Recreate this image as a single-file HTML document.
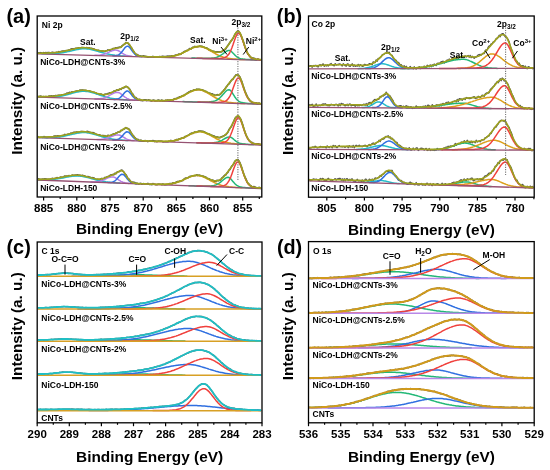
<!DOCTYPE html>
<html><head><meta charset="utf-8"><style>
html,body{margin:0;padding:0;background:#fff;}
svg{display:block;font-family:"Liberation Sans", sans-serif;will-change:transform;}
</style></head><body>
<svg width="550" height="470" viewBox="0 0 550 470">
<defs><clipPath id="cp0"><rect x="37.9" y="16.7" width="223.2" height="179.6"/></clipPath><clipPath id="cp1"><rect x="309.2" y="16.7" width="224.3" height="179.8"/></clipPath><clipPath id="cp2"><rect x="37.9" y="242.7" width="223.4" height="179.4"/></clipPath><clipPath id="cp3"><rect x="309.2" y="242.3" width="224.3" height="179.8"/></clipPath></defs>
<rect width="550" height="470" fill="#fff"/>
<g clip-path="url(#cp0)"><polyline points="37.9,53 38.9,52.8 39.9,53.3 40.9,52.6 41.9,53.2 42.9,53 43.9,52.6 44.9,53.1 45.9,52.5 46.9,52.9 47.9,52.5 48.9,52.5 49.9,52.8 50.9,53.2 51.9,52.3 52.9,52.4 53.9,52.8 54.9,53.1 55.9,52.5 56.9,52.2 57.9,52.8 58.9,51.6 59.9,52.4 60.9,51.5 61.9,51.2 62.9,51 63.9,51 64.9,51.4 65.9,50.5 66.9,50.7 67.9,50.6 68.9,50 69.9,50 70.9,49.1 71.9,48.9 72.9,48.8 73.9,49.2 74.9,48.6 75.9,48.3 76.9,48.4 77.9,48.1 78.9,47.8 79.9,48.2 80.9,48 81.9,47.4 82.9,47.7 83.9,47.7 84.9,48.1 85.9,48 86.9,47.6 87.9,48.5 88.9,47.7 89.9,48.2 90.9,48.8 91.9,48.3 92.9,49 93.9,48.7 94.9,49.8 95.9,50.1 96.9,50.2 97.9,50.8 98.9,50.3 99.9,51 100.9,51 101.9,51.1 102.9,51 103.9,51.5 104.9,51.5 105.9,50.8 106.9,50.8 107.9,49.9 108.9,50.3 109.9,50 110.9,50.1 111.9,49.5 112.9,48.6 113.9,48.5 114.9,48.6 115.9,47.7 116.9,48 117.9,47.6 118.9,47.4 119.9,47 120.9,47.4 121.9,45.9 122.9,45.2 123.9,44.4 124.9,44.1 125.9,42.5 126.9,42.7 127.9,43.1 128.9,44.4 129.9,45.6 130.9,47.3 131.9,48.3 132.9,50.1 133.9,51.6 134.9,53.5 135.9,54.6 136.9,54.4 137.9,55 138.9,55.4 139.9,55.7 140.9,56.2 141.9,56.4 142.9,56.1 143.9,55.9 144.9,56.5 145.9,56.4 146.9,56.7 147.9,57.2 148.9,56.9 149.9,56.8 150.9,56.9 151.9,57 152.9,56.3 153.9,57.3 154.9,57.2 155.9,57.3 156.9,57.3 157.9,56.8 158.9,56.8 159.9,56.5 160.9,57.1 161.9,56.4 162.9,56.4 163.9,56.6 164.9,56.5 165.9,56.6 166.9,56.2 167.9,56.1 168.9,56.2 169.9,56.1 170.9,56.2 171.9,55.7 172.9,56.5 173.9,56 174.9,55.3 175.9,55.1 176.9,55 177.9,54.7 178.9,54 179.9,54.5 180.9,54.3 181.9,53.2 182.9,52.7 183.9,51.8 184.9,51.3 185.9,51 186.9,50.4 187.9,50.5 188.9,49.2 189.9,48.5 190.9,49.1 191.9,48.1 192.9,47.2 193.9,47.3 194.9,46.4 195.9,46.7 196.9,47 197.9,46.8 198.9,46.5 199.9,46 200.9,46.2 201.9,46.2 202.9,47.1 203.9,47.1 204.9,47.8 205.9,47.7 206.9,48 207.9,49.2 208.9,49.9 209.9,50.2 210.9,50.7 211.9,51.1 212.9,51.5 213.9,51.3 214.9,51.9 215.9,52 216.9,51.7 217.9,51.8 218.9,52 219.9,51.8 220.9,51.9 221.9,51.8 222.9,50.6 223.9,50.4 224.9,49.6 225.9,48.6 226.9,46.8 227.9,45.4 228.9,44 229.9,42.5 230.9,41 231.9,39.9 232.9,38.6 233.9,36.7 234.9,34.4 235.9,33 236.9,32 237.9,30.6 238.9,31.6 239.9,33.2 240.9,35.1 241.9,37.7 242.9,40.4 243.9,43.1 244.9,46.8 245.9,49 246.9,51.9 247.9,54.1 248.9,54.9 249.9,56.2 250.9,57.7 251.9,58.1 252.9,57.9 253.9,58.2 254.9,58.5 255.9,59.6 256.9,59.6 257.9,58.9 258.9,59.8 259.9,60.1 260.9,59.8" fill="none" stroke="#555555" stroke-width="1.6" stroke-linejoin="round" stroke-linecap="round"/><polyline points="41.9,53.8 42.9,53.8 43.9,53.8 44.9,53.8 45.9,53.8 46.9,53.8 47.9,53.8 48.9,53.8 49.9,53.8 50.9,53.8 51.9,53.7 52.9,53.7 53.9,53.7 54.9,53.6 55.9,53.5 56.9,53.4 57.9,53.3 58.9,53.2 59.9,53.1 60.9,53 61.9,52.8 62.9,52.7 63.9,52.5 64.9,52.3 65.9,52.1 66.9,51.9 67.9,51.6 68.9,51.4 69.9,51.2 70.9,50.9 71.9,50.7 72.9,50.4 73.9,50.2 74.9,50 75.9,49.8 76.9,49.5 77.9,49.4 78.9,49.2 79.9,49 80.9,48.9 81.9,48.8 82.9,48.8 83.9,48.8 84.9,48.8 85.9,48.8 86.9,48.9 87.9,49 88.9,49.1 89.9,49.3 90.9,49.5 91.9,49.7 92.9,50 93.9,50.2 94.9,50.5 95.9,50.8 96.9,51.1 97.9,51.4 98.9,51.7 99.9,52 100.9,52.3 101.9,52.6 102.9,52.8 103.9,53.1 104.9,53.4 105.9,53.6 106.9,53.9 107.9,54.1 108.9,54.3 109.9,54.5 110.9,54.7 111.9,54.8 112.9,55 113.9,55.1 114.9,55.3 115.9,55.4 116.9,55.5 117.9,55.6 118.9,55.7 119.9,55.8 120.9,55.9 121.9,55.9 122.9,56 123.9,56.1 124.9,56.1 125.9,56.2 126.9,56.2 127.9,56.3 128.9,56.3" fill="none" stroke="#22bcc8" stroke-width="1.5" stroke-linejoin="round" stroke-linecap="round"/><polyline points="94.9,55.3 95.9,55.3 96.9,55.3 97.9,55.2 98.9,55.2 99.9,55.1 100.9,54.9 101.9,54.7 102.9,54.5 103.9,54.2 104.9,53.9 105.9,53.5 106.9,53.1 107.9,52.6 108.9,52.2 109.9,51.7 110.9,51.2 111.9,50.8 112.9,50.5 113.9,50.2 114.9,50.1 115.9,50 116.9,50.2 117.9,50.5 118.9,51 119.9,51.6 120.9,52.3 121.9,53 122.9,53.6 123.9,54.2 124.9,54.7 125.9,55.2 126.9,55.5 127.9,55.8 128.9,56 129.9,56.1 130.9,56.3 131.9,56.3" fill="none" stroke="#b57ee6" stroke-width="1.5" stroke-linejoin="round" stroke-linecap="round"/><polyline points="112.9,55.8 113.9,55.8 114.9,55.7 115.9,55.6 116.9,55.4 117.9,55.1 118.9,54.6 119.9,53.9 120.9,53 121.9,51.8 122.9,50.5 123.9,49.1 124.9,47.8 125.9,46.8 126.9,46.3 127.9,46.2 128.9,46.8 129.9,47.8 130.9,49.1 131.9,50.5 132.9,51.9 133.9,53.1 134.9,54.2 135.9,55 136.9,55.6 137.9,56 138.9,56.3 139.9,56.4 140.9,56.6 141.9,56.6" fill="none" stroke="#2f6fe0" stroke-width="1.5" stroke-linejoin="round" stroke-linecap="round"/><polyline points="153.9,57 154.9,57 155.9,57 156.9,57 157.9,57.1 158.9,57.1 159.9,57.1 160.9,57.1 161.9,57.1 162.9,57.1 163.9,57 164.9,57 165.9,57 166.9,56.9 167.9,56.9 168.9,56.8 169.9,56.7 170.9,56.6 171.9,56.4 172.9,56.2 173.9,56 174.9,55.8 175.9,55.6 176.9,55.3 177.9,55 178.9,54.6 179.9,54.2 180.9,53.8 181.9,53.4 182.9,52.9 183.9,52.4 184.9,51.9 185.9,51.4 186.9,50.9 187.9,50.3 188.9,49.8 189.9,49.3 190.9,48.8 191.9,48.4 192.9,47.9 193.9,47.5 194.9,47.2 195.9,47 196.9,46.8 197.9,46.7 198.9,46.6 199.9,46.6 200.9,46.8 201.9,47 202.9,47.2 203.9,47.5 204.9,47.9 205.9,48.4 206.9,48.9 207.9,49.4 208.9,50 209.9,50.5 210.9,51.1 211.9,51.7 212.9,52.3 213.9,52.9 214.9,53.4 215.9,54 216.9,54.5 217.9,55 218.9,55.4 219.9,55.9 220.9,56.3 221.9,56.6 222.9,57 223.9,57.3 224.9,57.5 225.9,57.8 226.9,58 227.9,58.2 228.9,58.4 229.9,58.5 230.9,58.7 231.9,58.8 232.9,58.9 233.9,59 234.9,59.1 235.9,59.1 236.9,59.2 237.9,59.3 238.9,59.3 239.9,59.4 240.9,59.4 241.9,59.5 242.9,59.5 243.9,59.6 244.9,59.6" fill="none" stroke="#dca01c" stroke-width="1.5" stroke-linejoin="round" stroke-linecap="round"/><polyline points="191.9,58.1 192.9,58.1 193.9,58.1 194.9,58.1 195.9,58.2 196.9,58.2 197.9,58.2 198.9,58.2 199.9,58.2 200.9,58.3 201.9,58.3 202.9,58.3 203.9,58.3 204.9,58.3 205.9,58.3 206.9,58.3 207.9,58.3 208.9,58.3 209.9,58.3 210.9,58.2 211.9,58.1 212.9,58 213.9,57.9 214.9,57.7 215.9,57.5 216.9,57.2 217.9,56.8 218.9,56.3 219.9,55.8 220.9,55.2 221.9,54.5 222.9,53.8 223.9,53 224.9,52.3 225.9,51.6 226.9,51 227.9,50.6 228.9,50.5 229.9,50.6 230.9,51.1 231.9,52 232.9,53 233.9,54 234.9,55.1 235.9,56 236.9,56.8 237.9,57.5 238.9,58 239.9,58.4 240.9,58.7 241.9,58.9 242.9,59.1 243.9,59.2 244.9,59.3 245.9,59.4 246.9,59.5 247.9,59.5 248.9,59.6 249.9,59.6 250.9,59.7 251.9,59.7 252.9,59.8 253.9,59.8 254.9,59.9 255.9,59.9 256.9,59.9" fill="none" stroke="#22b877" stroke-width="1.5" stroke-linejoin="round" stroke-linecap="round"/><polyline points="196.9,58.2 197.9,58.2 198.9,58.3 199.9,58.3 200.9,58.3 201.9,58.3 202.9,58.4 203.9,58.4 204.9,58.4 205.9,58.4 206.9,58.4 207.9,58.4 208.9,58.5 209.9,58.5 210.9,58.5 211.9,58.5 212.9,58.5 213.9,58.5 214.9,58.5 215.9,58.5 216.9,58.5 217.9,58.5 218.9,58.4 219.9,58.4 220.9,58.3 221.9,58.3 222.9,58.1 223.9,57.9 224.9,57.5 225.9,57 226.9,56.3 227.9,55.3 228.9,54 229.9,52.3 230.9,50.2 231.9,47.7 232.9,45 233.9,42.1 234.9,39.2 235.9,36.6 236.9,34.6 237.9,33.4 238.9,33.2 239.9,34.1 240.9,35.8 241.9,38.3 242.9,41.1 243.9,44.1 244.9,47 245.9,49.7 246.9,52 247.9,53.9 248.9,55.4 249.9,56.6 250.9,57.5 251.9,58.1 252.9,58.6 253.9,58.9 254.9,59.1 255.9,59.3 256.9,59.4 257.9,59.5 258.9,59.6 259.9,59.7 260.9,59.8" fill="none" stroke="#f0403c" stroke-width="1.5" stroke-linejoin="round" stroke-linecap="round"/><polyline points="37.9,53.8 261.1,60.2" fill="none" stroke="#965272" stroke-width="1.3" stroke-linejoin="round" stroke-linecap="round"/><polyline points="37.9,53.2 38.9,53.2 39.9,53.2 40.9,53.2 41.9,53.1 42.9,53.1 43.9,53.1 44.9,53.1 45.9,53.1 46.9,53 47.9,53 48.9,52.9 49.9,52.9 50.9,52.8 51.9,52.8 52.9,52.7 53.9,52.6 54.9,52.6 55.9,52.5 56.9,52.3 57.9,52.2 58.9,52.1 59.9,52 60.9,51.8 61.9,51.6 62.9,51.5 63.9,51.3 64.9,51.1 65.9,50.8 66.9,50.6 67.9,50.4 68.9,50.2 69.9,49.9 70.9,49.7 71.9,49.4 72.9,49.2 73.9,49 74.9,48.7 75.9,48.5 76.9,48.3 77.9,48.1 78.9,48 79.9,47.9 80.9,47.8 81.9,47.7 82.9,47.6 83.9,47.6 84.9,47.7 85.9,47.7 86.9,47.8 87.9,48 88.9,48.1 89.9,48.3 90.9,48.5 91.9,48.8 92.9,49 93.9,49.3 94.9,49.5 95.9,49.8 96.9,50.1 97.9,50.3 98.9,50.6 99.9,50.8 100.9,50.9 101.9,51 102.9,51.1 103.9,51.1 104.9,51 105.9,50.9 106.9,50.7 107.9,50.4 108.9,50.1 109.9,49.8 110.9,49.5 111.9,49.2 112.9,48.9 113.9,48.6 114.9,48.4 115.9,48.2 116.9,48.1 117.9,48 118.9,47.8 119.9,47.5 120.9,47.1 121.9,46.4 122.9,45.5 123.9,44.6 124.9,43.7 125.9,43 126.9,42.8 127.9,43.1 128.9,43.9 129.9,45.2 130.9,46.8 131.9,48.5 132.9,50.2 133.9,51.7 134.9,53 135.9,54 136.9,54.8 137.9,55.4 138.9,55.7 139.9,56 140.9,56.2 141.9,56.3 142.9,56.4 143.9,56.5 144.9,56.5 145.9,56.6 146.9,56.6 147.9,56.7 148.9,56.7 149.9,56.7 150.9,56.8 151.9,56.8 152.9,56.8 153.9,56.8 154.9,56.9 155.9,56.9 156.9,56.9 157.9,56.9 158.9,56.9 159.9,56.9 160.9,56.9 161.9,56.9 162.9,56.9 163.9,56.9 164.9,56.9 165.9,56.8 166.9,56.8 167.9,56.7 168.9,56.6 169.9,56.5 170.9,56.4 171.9,56.3 172.9,56.1 173.9,55.9 174.9,55.7 175.9,55.4 176.9,55.1 177.9,54.8 178.9,54.5 179.9,54.1 180.9,53.7 181.9,53.2 182.9,52.8 183.9,52.3 184.9,51.7 185.9,51.2 186.9,50.7 187.9,50.1 188.9,49.6 189.9,49.1 190.9,48.6 191.9,48.1 192.9,47.7 193.9,47.3 194.9,46.9 195.9,46.7 196.9,46.5 197.9,46.3 198.9,46.3 199.9,46.3 200.9,46.4 201.9,46.6 202.9,46.8 203.9,47.1 204.9,47.5 205.9,47.9 206.9,48.3 207.9,48.8 208.9,49.3 209.9,49.8 210.9,50.3 211.9,50.8 212.9,51.2 213.9,51.6 214.9,51.9 215.9,52.2 216.9,52.3 217.9,52.3 218.9,52.3 219.9,52.1 220.9,51.7 221.9,51.2 222.9,50.6 223.9,49.9 224.9,49 225.9,48 226.9,46.9 227.9,45.7 228.9,44.3 229.9,42.8 230.9,41.3 231.9,39.8 232.9,38.1 233.9,36.3 234.9,34.5 235.9,32.8 236.9,31.6 237.9,31.1 238.9,31.4 239.9,32.7 240.9,34.8 241.9,37.4 242.9,40.4 243.9,43.5 244.9,46.5 245.9,49.2 246.9,51.6 247.9,53.5 248.9,55.1 249.9,56.3 250.9,57.2 251.9,57.8 252.9,58.3 253.9,58.7 254.9,58.9 255.9,59.1 256.9,59.2 257.9,59.3 258.9,59.4 259.9,59.5 260.9,59.6" fill="none" stroke="#9ea21e" stroke-width="1.6" stroke-linejoin="round" stroke-linecap="round"/><polyline points="37.9,96.5 38.9,96.7 39.9,96.2 40.9,96.1 41.9,97.2 42.9,96.8 43.9,96.6 44.9,97.1 45.9,96.5 46.9,97 47.9,96.9 48.9,96.1 49.9,96.1 50.9,96.1 51.9,95.9 52.9,96.3 53.9,95.8 54.9,95.9 55.9,95.4 56.9,96.2 57.9,95.4 58.9,95.4 59.9,95.4 60.9,95.6 61.9,94.8 62.9,95.2 63.9,94.5 64.9,94.3 65.9,94 66.9,93.1 67.9,93.4 68.9,92.8 69.9,92.3 70.9,93 71.9,91.9 72.9,92 73.9,92 74.9,91.6 75.9,91.1 76.9,91.1 77.9,90.9 78.9,91 79.9,90.1 80.9,90.5 81.9,90 82.9,90 83.9,90.6 84.9,90.4 85.9,90.5 86.9,90.9 87.9,91.2 88.9,90.8 89.9,91.3 90.9,91.4 91.9,91.7 92.9,92.2 93.9,92.2 94.9,92.7 95.9,92.9 96.9,93.8 97.9,93.8 98.9,94.3 99.9,94.6 100.9,94 101.9,94.6 102.9,95.1 103.9,95.1 104.9,94.2 105.9,94.1 106.9,94.2 107.9,93.5 108.9,93.4 109.9,92.8 110.9,93 111.9,92.7 112.9,92.3 113.9,91 114.9,91.2 115.9,90.7 116.9,89.7 117.9,90.3 118.9,90.1 119.9,88.9 120.9,89.4 121.9,88.3 122.9,87.8 123.9,87.9 124.9,87.2 125.9,86.2 126.9,86.7 127.9,87.4 128.9,88.3 129.9,89.6 130.9,91.3 131.9,93.5 132.9,94.2 133.9,96.2 134.9,97.2 135.9,97.6 136.9,98.6 137.9,99.4 138.9,99.6 139.9,99.2 140.9,100.5 141.9,100.4 142.9,100.7 143.9,99.7 144.9,99.9 145.9,99.7 146.9,100.6 147.9,100.1 148.9,99.9 149.9,100.3 150.9,100.9 151.9,100.9 152.9,100.2 153.9,100.1 154.9,101 155.9,100.7 156.9,100.8 157.9,100.1 158.9,100.1 159.9,100.8 160.9,100.5 161.9,100.1 162.9,101.1 163.9,100.7 164.9,100.9 165.9,100 166.9,100.8 167.9,99.8 168.9,100.6 169.9,100 170.9,99.8 171.9,99.8 172.9,100.1 173.9,99.1 174.9,98.6 175.9,98.8 176.9,98.1 177.9,97.6 178.9,97.3 179.9,96.7 180.9,96.5 181.9,96.1 182.9,95.6 183.9,95.6 184.9,94.5 185.9,94.2 186.9,93.2 187.9,92.8 188.9,91.9 189.9,91.6 190.9,90.9 191.9,91.2 192.9,90.6 193.9,89.8 194.9,89.9 195.9,90.2 196.9,89 197.9,89.8 198.9,89.3 199.9,89.5 200.9,90.1 201.9,89.8 202.9,90.2 203.9,90.8 204.9,91.5 205.9,91.2 206.9,92.3 207.9,92.7 208.9,93.1 209.9,93.3 210.9,93.7 211.9,93.8 212.9,94.3 213.9,94.5 214.9,95.6 215.9,95.1 216.9,94.9 217.9,94.6 218.9,95.1 219.9,94.6 220.9,93.7 221.9,92.3 222.9,91.3 223.9,90.1 224.9,89.1 225.9,87.3 226.9,86.3 227.9,84.6 228.9,84 229.9,82.7 230.9,81 231.9,79.6 232.9,79.4 233.9,77.5 234.9,76.4 235.9,74.9 236.9,74.8 237.9,74.9 238.9,75.7 239.9,76.9 240.9,79.6 241.9,81.7 242.9,85 243.9,87.9 244.9,91.1 245.9,93.3 246.9,95.5 247.9,97.6 248.9,99 249.9,100.5 250.9,101.3 251.9,102.2 252.9,102.5 253.9,102.9 254.9,103.3 255.9,102.9 256.9,103 257.9,103.9 258.9,103 259.9,103.7 260.9,103.7" fill="none" stroke="#555555" stroke-width="1.6" stroke-linejoin="round" stroke-linecap="round"/><polyline points="39.9,97.2 40.9,97.2 41.9,97.2 42.9,97.2 43.9,97.2 44.9,97.2 45.9,97.2 46.9,97.2 47.9,97.2 48.9,97.2 49.9,97.2 50.9,97.1 51.9,97.1 52.9,97 53.9,96.9 54.9,96.9 55.9,96.8 56.9,96.7 57.9,96.5 58.9,96.4 59.9,96.3 60.9,96.1 61.9,95.9 62.9,95.7 63.9,95.5 64.9,95.3 65.9,95 66.9,94.8 67.9,94.5 68.9,94.2 69.9,93.9 70.9,93.7 71.9,93.4 72.9,93.1 73.9,92.8 74.9,92.6 75.9,92.3 76.9,92.1 77.9,91.9 78.9,91.7 79.9,91.5 80.9,91.4 81.9,91.3 82.9,91.3 83.9,91.3 84.9,91.3 85.9,91.4 86.9,91.5 87.9,91.6 88.9,91.8 89.9,92 90.9,92.2 91.9,92.5 92.9,92.8 93.9,93.1 94.9,93.4 95.9,93.8 96.9,94.1 97.9,94.4 98.9,94.8 99.9,95.1 100.9,95.5 101.9,95.8 102.9,96.1 103.9,96.4 104.9,96.7 105.9,97 106.9,97.3 107.9,97.5 108.9,97.7 109.9,98 110.9,98.2 111.9,98.4 112.9,98.5 113.9,98.7 114.9,98.8 115.9,99 116.9,99.1 117.9,99.2 118.9,99.3 119.9,99.4 120.9,99.5 121.9,99.5 122.9,99.6 123.9,99.7 124.9,99.7 125.9,99.8 126.9,99.8 127.9,99.9 128.9,99.9 129.9,100" fill="none" stroke="#22bcc8" stroke-width="1.5" stroke-linejoin="round" stroke-linecap="round"/><polyline points="94.9,98.9 95.9,98.9 96.9,98.9 97.9,98.8 98.9,98.8 99.9,98.7 100.9,98.6 101.9,98.5 102.9,98.3 103.9,98 104.9,97.7 105.9,97.3 106.9,96.9 107.9,96.4 108.9,95.8 109.9,95.2 110.9,94.7 111.9,94.1 112.9,93.5 113.9,93 114.9,92.7 115.9,92.4 116.9,92.3 117.9,92.4 118.9,92.7 119.9,93.2 120.9,93.9 121.9,94.7 122.9,95.5 123.9,96.3 124.9,97.1 125.9,97.7 126.9,98.3 127.9,98.8 128.9,99.2 129.9,99.5 130.9,99.7 131.9,99.8 132.9,100 133.9,100 134.9,100.1" fill="none" stroke="#b57ee6" stroke-width="1.5" stroke-linejoin="round" stroke-linecap="round"/><polyline points="113.9,99.4 114.9,99.4 115.9,99.3 116.9,99.1 117.9,98.9 118.9,98.4 119.9,97.8 120.9,96.9 121.9,95.9 122.9,94.7 123.9,93.5 124.9,92.3 125.9,91.5 126.9,91 127.9,91.1 128.9,91.7 129.9,92.7 130.9,93.9 131.9,95.2 132.9,96.5 133.9,97.5 134.9,98.4 135.9,99.1 136.9,99.5 137.9,99.8 138.9,100.1 139.9,100.2 140.9,100.3" fill="none" stroke="#2f6fe0" stroke-width="1.5" stroke-linejoin="round" stroke-linecap="round"/><polyline points="151.9,100.7 152.9,100.7 153.9,100.7 154.9,100.7 155.9,100.7 156.9,100.7 157.9,100.8 158.9,100.8 159.9,100.8 160.9,100.8 161.9,100.8 162.9,100.7 163.9,100.7 164.9,100.7 165.9,100.6 166.9,100.6 167.9,100.5 168.9,100.4 169.9,100.3 170.9,100.1 171.9,99.9 172.9,99.7 173.9,99.5 174.9,99.3 175.9,99 176.9,98.7 177.9,98.3 178.9,97.9 179.9,97.5 180.9,97 181.9,96.5 182.9,96 183.9,95.5 184.9,95 185.9,94.4 186.9,93.8 187.9,93.3 188.9,92.7 189.9,92.2 190.9,91.7 191.9,91.3 192.9,90.9 193.9,90.5 194.9,90.2 195.9,90 196.9,89.9 197.9,89.8 198.9,89.8 199.9,89.9 200.9,90.1 201.9,90.4 202.9,90.7 203.9,91.1 204.9,91.6 205.9,92.1 206.9,92.6 207.9,93.2 208.9,93.8 209.9,94.4 210.9,95.1 211.9,95.7 212.9,96.3 213.9,96.9 214.9,97.5 215.9,98 216.9,98.5 217.9,99 218.9,99.5 219.9,99.9 220.9,100.3 221.9,100.7 222.9,101 223.9,101.3 224.9,101.6 225.9,101.8 226.9,102 227.9,102.2 228.9,102.4 229.9,102.5 230.9,102.6 231.9,102.7 232.9,102.8 233.9,102.9 234.9,103 235.9,103.1 236.9,103.2 237.9,103.2 238.9,103.3 239.9,103.3 240.9,103.4 241.9,103.4 242.9,103.5 243.9,103.5 244.9,103.5" fill="none" stroke="#dca01c" stroke-width="1.5" stroke-linejoin="round" stroke-linecap="round"/><polyline points="182.9,101.6 183.9,101.6 184.9,101.7 185.9,101.7 186.9,101.7 187.9,101.7 188.9,101.8 189.9,101.8 190.9,101.8 191.9,101.8 192.9,101.9 193.9,101.9 194.9,101.9 195.9,101.9 196.9,101.9 197.9,101.9 198.9,102 199.9,102 200.9,102 201.9,102 202.9,102 203.9,102 204.9,102 205.9,102 206.9,102 207.9,101.9 208.9,101.9 209.9,101.8 210.9,101.8 211.9,101.6 212.9,101.5 213.9,101.2 214.9,100.9 215.9,100.5 216.9,100 217.9,99.4 218.9,98.6 219.9,97.8 220.9,96.8 221.9,95.7 222.9,94.6 223.9,93.4 224.9,92.3 225.9,91.2 226.9,90.4 227.9,89.9 228.9,89.7 229.9,90 230.9,90.9 231.9,92.2 232.9,93.8 233.9,95.4 234.9,97 235.9,98.4 236.9,99.6 237.9,100.5 238.9,101.3 239.9,101.8 240.9,102.3 241.9,102.6 242.9,102.8 243.9,103 244.9,103.1 245.9,103.2 246.9,103.3 247.9,103.4 248.9,103.4 249.9,103.5 250.9,103.6 251.9,103.6 252.9,103.7 253.9,103.7 254.9,103.8 255.9,103.8 256.9,103.9 257.9,103.9 258.9,103.9 259.9,104 260.9,104" fill="none" stroke="#22b877" stroke-width="1.5" stroke-linejoin="round" stroke-linecap="round"/><polyline points="197.9,102.1 198.9,102.1 199.9,102.1 200.9,102.2 201.9,102.2 202.9,102.2 203.9,102.2 204.9,102.2 205.9,102.3 206.9,102.3 207.9,102.3 208.9,102.3 209.9,102.3 210.9,102.3 211.9,102.4 212.9,102.4 213.9,102.4 214.9,102.4 215.9,102.4 216.9,102.4 217.9,102.4 218.9,102.3 219.9,102.3 220.9,102.2 221.9,102.1 222.9,102 223.9,101.8 224.9,101.4 225.9,100.9 226.9,100.1 227.9,99.1 228.9,97.8 229.9,96.1 230.9,94 231.9,91.5 232.9,88.8 233.9,86 234.9,83.3 235.9,80.9 236.9,79 237.9,78.1 238.9,78.1 239.9,79.1 240.9,81 241.9,83.5 242.9,86.3 243.9,89.2 244.9,91.9 245.9,94.4 246.9,96.6 247.9,98.4 248.9,99.8 249.9,100.9 250.9,101.7 251.9,102.2 252.9,102.7 253.9,103 254.9,103.2 255.9,103.3 256.9,103.5 257.9,103.6 258.9,103.6 259.9,103.7 260.9,103.8" fill="none" stroke="#f0403c" stroke-width="1.5" stroke-linejoin="round" stroke-linecap="round"/><polyline points="37.9,97.2 261.1,104.2" fill="none" stroke="#965272" stroke-width="1.3" stroke-linejoin="round" stroke-linecap="round"/><polyline points="37.9,96.6 38.9,96.6 39.9,96.6 40.9,96.6 41.9,96.6 42.9,96.6 43.9,96.6 44.9,96.6 45.9,96.5 46.9,96.5 47.9,96.5 48.9,96.4 49.9,96.4 50.9,96.3 51.9,96.3 52.9,96.2 53.9,96.1 54.9,96 55.9,95.9 56.9,95.8 57.9,95.6 58.9,95.5 59.9,95.3 60.9,95.1 61.9,94.9 62.9,94.7 63.9,94.5 64.9,94.2 65.9,94 66.9,93.7 67.9,93.4 68.9,93.2 69.9,92.9 70.9,92.6 71.9,92.3 72.9,92 73.9,91.8 74.9,91.5 75.9,91.3 76.9,91 77.9,90.8 78.9,90.7 79.9,90.5 80.9,90.4 81.9,90.3 82.9,90.3 83.9,90.3 84.9,90.4 85.9,90.4 86.9,90.6 87.9,90.7 88.9,90.9 89.9,91.1 90.9,91.4 91.9,91.7 92.9,92 93.9,92.3 94.9,92.6 95.9,92.9 96.9,93.3 97.9,93.6 98.9,93.9 99.9,94.1 100.9,94.3 101.9,94.5 102.9,94.6 103.9,94.7 104.9,94.6 105.9,94.5 106.9,94.3 107.9,94 108.9,93.7 109.9,93.3 110.9,92.8 111.9,92.3 112.9,91.9 113.9,91.4 114.9,90.9 115.9,90.5 116.9,90.2 117.9,89.8 118.9,89.5 119.9,89.2 120.9,88.8 121.9,88.4 122.9,87.8 123.9,87.3 124.9,86.8 125.9,86.6 126.9,86.7 127.9,87.4 128.9,88.5 129.9,89.9 130.9,91.6 131.9,93.2 132.9,94.8 133.9,96.2 134.9,97.3 135.9,98.1 136.9,98.8 137.9,99.2 138.9,99.5 139.9,99.8 140.9,99.9 141.9,100 142.9,100.1 143.9,100.2 144.9,100.2 145.9,100.3 146.9,100.3 147.9,100.3 148.9,100.4 149.9,100.4 150.9,100.4 151.9,100.5 152.9,100.5 153.9,100.5 154.9,100.5 155.9,100.6 156.9,100.6 157.9,100.6 158.9,100.6 159.9,100.6 160.9,100.6 161.9,100.6 162.9,100.6 163.9,100.6 164.9,100.5 165.9,100.5 166.9,100.4 167.9,100.3 168.9,100.2 169.9,100.1 170.9,99.9 171.9,99.8 172.9,99.6 173.9,99.3 174.9,99.1 175.9,98.8 176.9,98.5 177.9,98.1 178.9,97.7 179.9,97.3 180.9,96.8 181.9,96.3 182.9,95.8 183.9,95.3 184.9,94.7 185.9,94.2 186.9,93.6 187.9,93 188.9,92.5 189.9,91.9 190.9,91.4 191.9,91 192.9,90.5 193.9,90.2 194.9,89.9 195.9,89.6 196.9,89.5 197.9,89.4 198.9,89.4 199.9,89.5 200.9,89.6 201.9,89.9 202.9,90.2 203.9,90.5 204.9,91 205.9,91.4 206.9,91.9 207.9,92.4 208.9,92.9 209.9,93.4 210.9,93.9 211.9,94.4 212.9,94.7 213.9,95.1 214.9,95.3 215.9,95.4 216.9,95.3 217.9,95.1 218.9,94.7 219.9,94.2 220.9,93.5 221.9,92.6 222.9,91.6 223.9,90.4 224.9,89.1 225.9,87.7 226.9,86.3 227.9,84.9 228.9,83.4 229.9,82.1 230.9,81 231.9,79.9 232.9,78.9 233.9,77.7 234.9,76.5 235.9,75.5 236.9,74.9 237.9,74.9 238.9,75.7 239.9,77.3 240.9,79.6 241.9,82.3 242.9,85.3 243.9,88.4 244.9,91.2 245.9,93.8 246.9,96 247.9,97.9 248.9,99.3 249.9,100.4 250.9,101.3 251.9,101.9 252.9,102.3 253.9,102.6 254.9,102.9 255.9,103 256.9,103.2 257.9,103.3 258.9,103.4 259.9,103.5 260.9,103.6" fill="none" stroke="#9ea21e" stroke-width="1.6" stroke-linejoin="round" stroke-linecap="round"/><polyline points="37.9,136.5 38.9,137.5 39.9,137.5 40.9,137.2 41.9,137.3 42.9,137.4 43.9,136.6 44.9,137 45.9,137 46.9,137.4 47.9,137.3 48.9,137.3 49.9,137 50.9,137.3 51.9,137 52.9,136.9 53.9,136.3 54.9,136 55.9,136 56.9,136.2 57.9,135.7 58.9,136.5 59.9,136 60.9,135.9 61.9,135.7 62.9,135.6 63.9,135.2 64.9,134.4 65.9,135.1 66.9,134.8 67.9,134.3 68.9,134.1 69.9,134 70.9,133 71.9,133.6 72.9,132.8 73.9,132.3 74.9,132.3 75.9,132.7 76.9,131.9 77.9,132.3 78.9,132.5 79.9,131.8 80.9,131.5 81.9,131.6 82.9,131.8 83.9,131.9 84.9,131.8 85.9,131.9 86.9,131.4 87.9,131.6 88.9,131.9 89.9,132.7 90.9,132.4 91.9,133 92.9,132.6 93.9,132.9 94.9,133.5 95.9,134.3 96.9,134.6 97.9,134.9 98.9,134.7 99.9,135.3 100.9,135.4 101.9,135.7 102.9,135.4 103.9,136.5 104.9,135.7 105.9,136.6 106.9,136.5 107.9,135.3 108.9,135.6 109.9,135.8 110.9,135.7 111.9,134.8 112.9,134.2 113.9,133.7 114.9,134.2 115.9,133 116.9,133 117.9,132 118.9,132 119.9,132 120.9,130.4 121.9,130.5 122.9,129.5 123.9,129.2 124.9,128.5 125.9,127.6 126.9,128.5 127.9,128.6 128.9,129 129.9,130.3 130.9,132.4 131.9,134 132.9,135.3 133.9,136.4 134.9,137.7 135.9,138.5 136.9,139.8 137.9,139.3 138.9,140.5 139.9,140.8 140.9,140.1 141.9,141.2 142.9,141 143.9,141.3 144.9,140.6 145.9,140.8 146.9,140.8 147.9,141.6 148.9,141.1 149.9,140.9 150.9,141 151.9,140.9 152.9,140.6 153.9,140.7 154.9,141.6 155.9,141 156.9,141.8 157.9,141 158.9,141 159.9,141.3 160.9,141 161.9,141.2 162.9,141.9 163.9,141.8 164.9,141.7 165.9,141.5 166.9,141.8 167.9,141.7 168.9,141.2 169.9,141.3 170.9,140.4 171.9,141.1 172.9,140.7 173.9,140.9 174.9,140.5 175.9,139.9 176.9,139.4 177.9,140.1 178.9,138.9 179.9,139 180.9,138.4 181.9,138 182.9,138.1 183.9,137.9 184.9,136.6 185.9,136.6 186.9,135.7 187.9,135.5 188.9,134.8 189.9,134 190.9,133.5 191.9,133.1 192.9,133.5 193.9,132.6 194.9,131.9 195.9,132.5 196.9,132.3 197.9,131.5 198.9,131 199.9,131.1 200.9,131 201.9,131.4 202.9,131.3 203.9,131.7 204.9,132.1 205.9,132.8 206.9,133.6 207.9,133.9 208.9,133.9 209.9,134.4 210.9,135 211.9,135.3 212.9,135.7 213.9,135.8 214.9,136.5 215.9,137.6 216.9,136.8 217.9,137.4 218.9,137.6 219.9,137.8 220.9,136.9 221.9,136.6 222.9,136.2 223.9,135.8 224.9,135.1 225.9,134.8 226.9,133.6 227.9,132.3 228.9,129.8 229.9,128.2 230.9,127.2 231.9,125.5 232.9,123 233.9,121.1 234.9,118.5 235.9,117.2 236.9,116.7 237.9,116.2 238.9,116.7 239.9,118.3 240.9,119.6 241.9,122.2 242.9,125.3 243.9,128.9 244.9,132 245.9,135 246.9,137 247.9,138.8 248.9,140.4 249.9,141.2 250.9,142.2 251.9,142.2 252.9,143.5 253.9,143.2 254.9,144.2 255.9,144.1 256.9,143.8 257.9,143.7 258.9,144 259.9,144.5 260.9,144.7" fill="none" stroke="#555555" stroke-width="1.6" stroke-linejoin="round" stroke-linecap="round"/><polyline points="40.9,137.6 41.9,137.6 42.9,137.6 43.9,137.6 44.9,137.7 45.9,137.7 46.9,137.7 47.9,137.7 48.9,137.6 49.9,137.6 50.9,137.6 51.9,137.6 52.9,137.5 53.9,137.5 54.9,137.4 55.9,137.3 56.9,137.2 57.9,137.1 58.9,137 59.9,136.9 60.9,136.7 61.9,136.6 62.9,136.4 63.9,136.2 64.9,136 65.9,135.8 66.9,135.6 67.9,135.3 68.9,135.1 69.9,134.9 70.9,134.6 71.9,134.4 72.9,134.1 73.9,133.9 74.9,133.7 75.9,133.4 76.9,133.2 77.9,133.1 78.9,132.9 79.9,132.8 80.9,132.7 81.9,132.6 82.9,132.6 83.9,132.5 84.9,132.6 85.9,132.6 86.9,132.7 87.9,132.9 88.9,133 89.9,133.2 90.9,133.4 91.9,133.7 92.9,134 93.9,134.2 94.9,134.5 95.9,134.8 96.9,135.1 97.9,135.4 98.9,135.8 99.9,136.1 100.9,136.4 101.9,136.7 102.9,137 103.9,137.2 104.9,137.5 105.9,137.8 106.9,138 107.9,138.2 108.9,138.5 109.9,138.7 110.9,138.8 111.9,139 112.9,139.2 113.9,139.3 114.9,139.4 115.9,139.6 116.9,139.7 117.9,139.8 118.9,139.9 119.9,140 120.9,140 121.9,140.1 122.9,140.2 123.9,140.2 124.9,140.3 125.9,140.4 126.9,140.4 127.9,140.5" fill="none" stroke="#22bcc8" stroke-width="1.5" stroke-linejoin="round" stroke-linecap="round"/><polyline points="96.9,139.4 97.9,139.4 98.9,139.4 99.9,139.4 100.9,139.4 101.9,139.3 102.9,139.2 103.9,139 104.9,138.8 105.9,138.6 106.9,138.3 107.9,138 108.9,137.6 109.9,137.2 110.9,136.8 111.9,136.4 112.9,136 113.9,135.6 114.9,135.3 115.9,135 116.9,134.9 117.9,134.9 118.9,135 119.9,135.3 120.9,135.7 121.9,136.2 122.9,136.8 123.9,137.4 124.9,138 125.9,138.6 126.9,139.1 127.9,139.5 128.9,139.8 129.9,140.1 130.9,140.3 131.9,140.4 132.9,140.5 133.9,140.6" fill="none" stroke="#b57ee6" stroke-width="1.5" stroke-linejoin="round" stroke-linecap="round"/><polyline points="112.9,140 113.9,140 114.9,139.9 115.9,139.8 116.9,139.6 117.9,139.3 118.9,138.9 119.9,138.2 120.9,137.4 121.9,136.4 122.9,135.2 123.9,134.1 124.9,133 125.9,132.2 126.9,131.8 127.9,131.9 128.9,132.4 129.9,133.4 130.9,134.5 131.9,135.8 132.9,137 133.9,138 134.9,138.9 135.9,139.6 136.9,140 137.9,140.4 138.9,140.6 139.9,140.8 140.9,140.9" fill="none" stroke="#2f6fe0" stroke-width="1.5" stroke-linejoin="round" stroke-linecap="round"/><polyline points="154.9,141.4 155.9,141.4 156.9,141.4 157.9,141.4 158.9,141.4 159.9,141.5 160.9,141.5 161.9,141.5 162.9,141.5 163.9,141.5 164.9,141.4 165.9,141.4 166.9,141.4 167.9,141.3 168.9,141.3 169.9,141.2 170.9,141.1 171.9,141 172.9,140.9 173.9,140.7 174.9,140.5 175.9,140.3 176.9,140.1 177.9,139.8 178.9,139.5 179.9,139.1 180.9,138.8 181.9,138.4 182.9,138 183.9,137.5 184.9,137.1 185.9,136.6 186.9,136.1 187.9,135.6 188.9,135.1 189.9,134.6 190.9,134.1 191.9,133.7 192.9,133.2 193.9,132.9 194.9,132.5 195.9,132.2 196.9,132 197.9,131.9 198.9,131.8 199.9,131.8 200.9,131.8 201.9,132 202.9,132.2 203.9,132.4 204.9,132.8 205.9,133.2 206.9,133.6 207.9,134.1 208.9,134.6 209.9,135.1 210.9,135.7 211.9,136.3 212.9,136.8 213.9,137.4 214.9,137.9 215.9,138.5 216.9,139 217.9,139.5 218.9,139.9 219.9,140.4 220.9,140.8 221.9,141.2 222.9,141.5 223.9,141.8 224.9,142.1 225.9,142.4 226.9,142.6 227.9,142.8 228.9,143 229.9,143.1 230.9,143.3 231.9,143.4 232.9,143.5 233.9,143.6 234.9,143.7 235.9,143.8 236.9,143.9 237.9,144 238.9,144 239.9,144.1 240.9,144.1 241.9,144.2 242.9,144.2 243.9,144.3 244.9,144.3" fill="none" stroke="#dca01c" stroke-width="1.5" stroke-linejoin="round" stroke-linecap="round"/><polyline points="196.9,142.7 197.9,142.8 198.9,142.8 199.9,142.8 200.9,142.8 201.9,142.9 202.9,142.9 203.9,142.9 204.9,142.9 205.9,142.9 206.9,142.9 207.9,142.9 208.9,142.9 209.9,142.9 210.9,142.9 211.9,142.9 212.9,142.8 213.9,142.7 214.9,142.6 215.9,142.5 216.9,142.2 217.9,142 218.9,141.6 219.9,141.3 220.9,140.8 221.9,140.3 222.9,139.7 223.9,139.1 224.9,138.5 225.9,138 226.9,137.5 227.9,137.2 228.9,137 229.9,137 230.9,137.3 231.9,137.9 232.9,138.6 233.9,139.5 234.9,140.3 235.9,141.1 236.9,141.8 237.9,142.4 238.9,142.9 239.9,143.3 240.9,143.5 241.9,143.7 242.9,143.9 243.9,144 244.9,144.1 245.9,144.2 246.9,144.3 247.9,144.3 248.9,144.4 249.9,144.4 250.9,144.5 251.9,144.5 252.9,144.6 253.9,144.6" fill="none" stroke="#22b877" stroke-width="1.5" stroke-linejoin="round" stroke-linecap="round"/><polyline points="196.9,142.7 197.9,142.8 198.9,142.8 199.9,142.8 200.9,142.8 201.9,142.9 202.9,142.9 203.9,142.9 204.9,142.9 205.9,143 206.9,143 207.9,143 208.9,143 209.9,143 210.9,143 211.9,143.1 212.9,143.1 213.9,143.1 214.9,143.1 215.9,143.1 216.9,143.1 217.9,143.1 218.9,143 219.9,143 220.9,142.9 221.9,142.8 222.9,142.7 223.9,142.4 224.9,142.1 225.9,141.5 226.9,140.8 227.9,139.7 228.9,138.3 229.9,136.5 230.9,134.3 231.9,131.8 232.9,129 233.9,126.1 234.9,123.2 235.9,120.7 236.9,118.8 237.9,117.8 238.9,117.9 239.9,118.9 240.9,120.9 241.9,123.5 242.9,126.4 243.9,129.4 244.9,132.2 245.9,134.8 246.9,137.1 247.9,138.9 248.9,140.4 249.9,141.5 250.9,142.4 251.9,143 252.9,143.4 253.9,143.7 254.9,143.9 255.9,144.1 256.9,144.2 257.9,144.3 258.9,144.4 259.9,144.5 260.9,144.6" fill="none" stroke="#f0403c" stroke-width="1.5" stroke-linejoin="round" stroke-linecap="round"/><polyline points="37.9,137.6 261.1,145" fill="none" stroke="#965272" stroke-width="1.3" stroke-linejoin="round" stroke-linecap="round"/><polyline points="37.9,137.1 38.9,137.1 39.9,137.1 40.9,137.1 41.9,137.1 42.9,137 43.9,137 44.9,137 45.9,137 46.9,137 47.9,136.9 48.9,136.9 49.9,136.9 50.9,136.8 51.9,136.8 52.9,136.7 53.9,136.6 54.9,136.5 55.9,136.4 56.9,136.3 57.9,136.2 58.9,136.1 59.9,135.9 60.9,135.8 61.9,135.6 62.9,135.4 63.9,135.2 64.9,135 65.9,134.8 66.9,134.5 67.9,134.3 68.9,134.1 69.9,133.8 70.9,133.6 71.9,133.3 72.9,133.1 73.9,132.8 74.9,132.6 75.9,132.4 76.9,132.2 77.9,132 78.9,131.9 79.9,131.8 80.9,131.7 81.9,131.6 82.9,131.6 83.9,131.6 84.9,131.7 85.9,131.7 86.9,131.9 87.9,132 88.9,132.2 89.9,132.4 90.9,132.6 91.9,132.9 92.9,133.2 93.9,133.5 94.9,133.8 95.9,134.1 96.9,134.4 97.9,134.7 98.9,135 99.9,135.2 100.9,135.5 101.9,135.7 102.9,135.9 103.9,136 104.9,136 105.9,136.1 106.9,136 107.9,135.9 108.9,135.7 109.9,135.4 110.9,135.1 111.9,134.8 112.9,134.5 113.9,134.1 114.9,133.7 115.9,133.3 116.9,132.9 117.9,132.4 118.9,131.9 119.9,131.4 120.9,130.8 121.9,130.2 122.9,129.5 123.9,128.8 124.9,128.2 125.9,127.9 126.9,128 127.9,128.6 128.9,129.6 129.9,130.9 130.9,132.4 131.9,134 132.9,135.5 133.9,136.8 134.9,137.9 135.9,138.8 136.9,139.4 137.9,139.9 138.9,140.2 139.9,140.4 140.9,140.5 141.9,140.7 142.9,140.7 143.9,140.8 144.9,140.9 145.9,140.9 146.9,140.9 147.9,141 148.9,141 149.9,141.1 150.9,141.1 151.9,141.1 152.9,141.2 153.9,141.2 154.9,141.2 155.9,141.2 156.9,141.3 157.9,141.3 158.9,141.3 159.9,141.3 160.9,141.3 161.9,141.3 162.9,141.3 163.9,141.3 164.9,141.3 165.9,141.3 166.9,141.3 167.9,141.2 168.9,141.1 169.9,141.1 170.9,141 171.9,140.9 172.9,140.7 173.9,140.6 174.9,140.4 175.9,140.2 176.9,139.9 177.9,139.6 178.9,139.3 179.9,139 180.9,138.6 181.9,138.2 182.9,137.8 183.9,137.4 184.9,136.9 185.9,136.4 186.9,135.9 187.9,135.4 188.9,134.9 189.9,134.4 190.9,133.9 191.9,133.4 192.9,133 193.9,132.6 194.9,132.3 195.9,132 196.9,131.7 197.9,131.6 198.9,131.5 199.9,131.4 200.9,131.5 201.9,131.6 202.9,131.8 203.9,132 204.9,132.4 205.9,132.7 206.9,133.1 207.9,133.6 208.9,134 209.9,134.5 210.9,135 211.9,135.5 212.9,135.9 213.9,136.4 214.9,136.7 215.9,137 216.9,137.3 217.9,137.4 218.9,137.5 219.9,137.4 220.9,137.2 221.9,136.9 222.9,136.5 223.9,135.9 224.9,135.1 225.9,134.2 226.9,133.2 227.9,131.9 228.9,130.4 229.9,128.7 230.9,126.9 231.9,125.1 232.9,123.1 233.9,121 234.9,119.1 235.9,117.4 236.9,116.2 237.9,115.8 238.9,116.3 239.9,117.7 240.9,119.9 241.9,122.7 242.9,125.7 243.9,128.8 244.9,131.8 245.9,134.4 246.9,136.7 247.9,138.6 248.9,140.1 249.9,141.2 250.9,142.1 251.9,142.7 252.9,143.2 253.9,143.5 254.9,143.7 255.9,143.9 256.9,144 257.9,144.2 258.9,144.2 259.9,144.3 260.9,144.4" fill="none" stroke="#9ea21e" stroke-width="1.6" stroke-linejoin="round" stroke-linecap="round"/><polyline points="37.9,178.9 38.9,178.9 39.9,179.4 40.9,179.5 41.9,179.2 42.9,179 43.9,179.4 44.9,178.7 45.9,179 46.9,179.1 47.9,179.7 48.9,179.2 49.9,179.4 50.9,178.9 51.9,178.5 52.9,178.4 53.9,179.1 54.9,178.7 55.9,178.1 56.9,177.6 57.9,178 58.9,178 59.9,177.5 60.9,177.1 61.9,177.4 62.9,177.5 63.9,176.5 64.9,176.1 65.9,176.2 66.9,176.1 67.9,176.3 68.9,175.5 69.9,176.1 70.9,175.8 71.9,175.4 72.9,175 73.9,175.8 74.9,175 75.9,175.5 76.9,174.8 77.9,174.9 78.9,175.6 79.9,175.1 80.9,176 81.9,175.6 82.9,175.4 83.9,175.7 84.9,176.1 85.9,176.6 86.9,177.2 87.9,176.5 88.9,177.1 89.9,177.1 90.9,178.3 91.9,177.6 92.9,177.7 93.9,178 94.9,178.6 95.9,179.4 96.9,179.5 97.9,179.4 98.9,179.7 99.9,179.6 100.9,178.8 101.9,178.4 102.9,179.1 103.9,178.6 104.9,177.4 105.9,177.7 106.9,177 107.9,176.6 108.9,176.1 109.9,175.5 110.9,174.9 111.9,174.8 112.9,174.5 113.9,174.8 114.9,173.3 115.9,173.8 116.9,172.3 117.9,171.8 118.9,171.7 119.9,171.2 120.9,170.4 121.9,170.1 122.9,171.1 123.9,172 124.9,174 125.9,174.7 126.9,176.5 127.9,178.7 128.9,179 129.9,180.5 130.9,181.9 131.9,182.5 132.9,182.1 133.9,182.4 134.9,182.6 135.9,183.8 136.9,183.1 137.9,183.8 138.9,184.1 139.9,183.5 140.9,183.4 141.9,184.3 142.9,183.9 143.9,183.6 144.9,184.1 145.9,183.7 146.9,183.7 147.9,183.4 148.9,184.3 149.9,184.6 150.9,184.3 151.9,184.7 152.9,183.6 153.9,183.9 154.9,184.2 155.9,184.8 156.9,184.8 157.9,184.2 158.9,184 159.9,184.2 160.9,184.3 161.9,184.8 162.9,183.9 163.9,184.6 164.9,184.5 165.9,184.6 166.9,184.5 167.9,184.2 168.9,183.8 169.9,183.6 170.9,183.5 171.9,183.9 172.9,182.8 173.9,182.8 174.9,183.2 175.9,182.3 176.9,181.8 177.9,181.4 178.9,181.7 179.9,181 180.9,181.4 181.9,180.8 182.9,180.5 183.9,179.2 184.9,178.5 185.9,178 186.9,178.1 187.9,177.9 188.9,177.1 189.9,176.4 190.9,176.3 191.9,176.2 192.9,176 193.9,175.8 194.9,175.8 195.9,175.4 196.9,174.7 197.9,175.6 198.9,175.1 199.9,175.5 200.9,175.5 201.9,176.3 202.9,176 203.9,176.4 204.9,176.8 205.9,177.1 206.9,178.5 207.9,178.6 208.9,178.7 209.9,179.2 210.9,180.4 211.9,180.2 212.9,180.1 213.9,181.1 214.9,181 215.9,181.5 216.9,180.3 217.9,180.6 218.9,180.6 219.9,180.2 220.9,179.7 221.9,177.9 222.9,177.3 223.9,176.1 224.9,175.1 225.9,174.9 226.9,173.2 227.9,172.3 228.9,170.2 229.9,169.5 230.9,167.7 231.9,166 232.9,165 233.9,163.6 234.9,161.1 235.9,160.5 236.9,159.9 237.9,159.6 238.9,160.9 239.9,162.6 240.9,165.2 241.9,168.1 242.9,171.6 243.9,174.6 244.9,176.8 245.9,178.9 246.9,181.3 247.9,183.3 248.9,184 249.9,185.1 250.9,185.7 251.9,186.9 252.9,187 253.9,186.6 254.9,186.9 255.9,187.4 256.9,187.7 257.9,187.9 258.9,187.4 259.9,187.5 260.9,188.3" fill="none" stroke="#555555" stroke-width="1.6" stroke-linejoin="round" stroke-linecap="round"/><polyline points="37.9,179.9 38.9,179.9 39.9,179.9 40.9,179.9 41.9,179.9 42.9,179.9 43.9,179.9 44.9,179.9 45.9,179.9 46.9,179.8 47.9,179.8 48.9,179.7 49.9,179.7 50.9,179.6 51.9,179.5 52.9,179.4 53.9,179.3 54.9,179.2 55.9,179.1 56.9,178.9 57.9,178.8 58.9,178.6 59.9,178.4 60.9,178.3 61.9,178.1 62.9,177.9 63.9,177.7 64.9,177.5 65.9,177.3 66.9,177.1 67.9,176.9 68.9,176.7 69.9,176.5 70.9,176.4 71.9,176.3 72.9,176.1 73.9,176.1 74.9,176 75.9,176 76.9,175.9 77.9,176 78.9,176 79.9,176.1 80.9,176.2 81.9,176.3 82.9,176.5 83.9,176.7 84.9,176.9 85.9,177.1 86.9,177.4 87.9,177.6 88.9,177.9 89.9,178.1 90.9,178.4 91.9,178.7 92.9,179 93.9,179.2 94.9,179.5 95.9,179.8 96.9,180 97.9,180.3 98.9,180.5 99.9,180.7 100.9,180.9 101.9,181.1 102.9,181.3 103.9,181.5 104.9,181.6 105.9,181.8 106.9,181.9 107.9,182.1 108.9,182.2 109.9,182.3 110.9,182.4 111.9,182.5 112.9,182.6 113.9,182.7 114.9,182.7 115.9,182.8 116.9,182.9 117.9,182.9 118.9,183 119.9,183" fill="none" stroke="#22bcc8" stroke-width="1.5" stroke-linejoin="round" stroke-linecap="round"/><polyline points="90.9,181.9 91.9,181.9 92.9,181.9 93.9,181.9 94.9,181.9 95.9,181.8 96.9,181.7 97.9,181.6 98.9,181.4 99.9,181.2 100.9,180.9 101.9,180.5 102.9,180.2 103.9,179.7 104.9,179.3 105.9,178.8 106.9,178.3 107.9,177.9 108.9,177.5 109.9,177.2 110.9,177 111.9,176.9 112.9,176.9 113.9,177.1 114.9,177.5 115.9,178.1 116.9,178.7 117.9,179.4 118.9,180.1 119.9,180.7 120.9,181.3 121.9,181.8 122.9,182.2 123.9,182.5 124.9,182.8 125.9,183 126.9,183.2 127.9,183.3 128.9,183.4" fill="none" stroke="#b57ee6" stroke-width="1.5" stroke-linejoin="round" stroke-linecap="round"/><polyline points="107.9,182.6 108.9,182.6 109.9,182.5 110.9,182.4 111.9,182.3 112.9,182 113.9,181.5 114.9,180.8 115.9,180 116.9,179 117.9,177.8 118.9,176.6 119.9,175.5 120.9,174.7 121.9,174.3 122.9,174.4 123.9,174.9 124.9,175.9 125.9,177.1 126.9,178.4 127.9,179.6 128.9,180.7 129.9,181.6 130.9,182.3 131.9,182.8 132.9,183.1 133.9,183.3 134.9,183.5 135.9,183.6 136.9,183.7" fill="none" stroke="#2f6fe0" stroke-width="1.5" stroke-linejoin="round" stroke-linecap="round"/><polyline points="152.9,184.3 153.9,184.3 154.9,184.4 155.9,184.4 156.9,184.4 157.9,184.4 158.9,184.4 159.9,184.4 160.9,184.4 161.9,184.4 162.9,184.4 163.9,184.4 164.9,184.4 165.9,184.3 166.9,184.3 167.9,184.2 168.9,184.1 169.9,184 170.9,183.8 171.9,183.7 172.9,183.5 173.9,183.3 174.9,183 175.9,182.8 176.9,182.5 177.9,182.1 178.9,181.8 179.9,181.4 180.9,181 181.9,180.6 182.9,180.1 183.9,179.7 184.9,179.2 185.9,178.7 186.9,178.3 187.9,177.8 188.9,177.4 189.9,177 190.9,176.6 191.9,176.3 192.9,176 193.9,175.8 194.9,175.6 195.9,175.5 196.9,175.5 197.9,175.6 198.9,175.7 199.9,175.9 200.9,176.1 201.9,176.4 202.9,176.8 203.9,177.2 204.9,177.7 205.9,178.1 206.9,178.6 207.9,179.2 208.9,179.7 209.9,180.3 210.9,180.8 211.9,181.3 212.9,181.8 213.9,182.3 214.9,182.8 215.9,183.3 216.9,183.7 217.9,184.1 218.9,184.5 219.9,184.8 220.9,185.1 221.9,185.4 222.9,185.7 223.9,185.9 224.9,186.1 225.9,186.3 226.9,186.5 227.9,186.6 228.9,186.8 229.9,186.9 230.9,187 231.9,187.1 232.9,187.2 233.9,187.2 234.9,187.3 235.9,187.4 236.9,187.4 237.9,187.5 238.9,187.6 239.9,187.6 240.9,187.7 241.9,187.7" fill="none" stroke="#dca01c" stroke-width="1.5" stroke-linejoin="round" stroke-linecap="round"/><polyline points="188.9,185.7 189.9,185.7 190.9,185.7 191.9,185.8 192.9,185.8 193.9,185.8 194.9,185.9 195.9,185.9 196.9,185.9 197.9,185.9 198.9,186 199.9,186 200.9,186 201.9,186 202.9,186.1 203.9,186.1 204.9,186.1 205.9,186.1 206.9,186.1 207.9,186.1 208.9,186 209.9,186 210.9,185.9 211.9,185.8 212.9,185.7 213.9,185.5 214.9,185.2 215.9,184.9 216.9,184.4 217.9,183.9 218.9,183.3 219.9,182.6 220.9,181.8 221.9,181 222.9,180.2 223.9,179.3 224.9,178.6 225.9,177.9 226.9,177.5 227.9,177.3 228.9,177.5 229.9,178.1 230.9,179 231.9,180.2 232.9,181.4 233.9,182.6 234.9,183.7 235.9,184.6 236.9,185.3 237.9,185.9 238.9,186.4 239.9,186.8 240.9,187 241.9,187.2 242.9,187.4 243.9,187.5 244.9,187.6 245.9,187.7 246.9,187.7 247.9,187.8 248.9,187.9 249.9,187.9 250.9,188 251.9,188 252.9,188.1 253.9,188.1 254.9,188.2 255.9,188.2 256.9,188.3 257.9,188.3" fill="none" stroke="#22b877" stroke-width="1.5" stroke-linejoin="round" stroke-linecap="round"/><polyline points="196.9,186 197.9,186 198.9,186.1 199.9,186.1 200.9,186.1 201.9,186.1 202.9,186.2 203.9,186.2 204.9,186.2 205.9,186.3 206.9,186.3 207.9,186.3 208.9,186.3 209.9,186.3 210.9,186.4 211.9,186.4 212.9,186.4 213.9,186.4 214.9,186.4 215.9,186.4 216.9,186.4 217.9,186.4 218.9,186.4 219.9,186.3 220.9,186.3 221.9,186.1 222.9,186 223.9,185.7 224.9,185.2 225.9,184.6 226.9,183.7 227.9,182.4 228.9,180.9 229.9,178.9 230.9,176.6 231.9,173.9 232.9,171.1 233.9,168.3 234.9,165.7 235.9,163.6 236.9,162.3 237.9,161.9 238.9,162.5 239.9,164.1 240.9,166.4 241.9,169.2 242.9,172.1 243.9,174.9 244.9,177.6 245.9,179.9 246.9,181.9 247.9,183.5 248.9,184.7 249.9,185.6 250.9,186.3 251.9,186.8 252.9,187.2 253.9,187.4 254.9,187.6 255.9,187.7 256.9,187.9 257.9,187.9 258.9,188 259.9,188.1 260.9,188.2" fill="none" stroke="#f0403c" stroke-width="1.5" stroke-linejoin="round" stroke-linecap="round"/><polyline points="37.9,180 261.1,188.6" fill="none" stroke="#965272" stroke-width="1.3" stroke-linejoin="round" stroke-linecap="round"/><polyline points="37.9,179.4 38.9,179.4 39.9,179.4 40.9,179.4 41.9,179.4 42.9,179.3 43.9,179.3 44.9,179.3 45.9,179.2 46.9,179.2 47.9,179.1 48.9,179.1 49.9,179 50.9,178.9 51.9,178.8 52.9,178.7 53.9,178.6 54.9,178.4 55.9,178.3 56.9,178.1 57.9,178 58.9,177.8 59.9,177.6 60.9,177.4 61.9,177.2 62.9,177 63.9,176.8 64.9,176.6 65.9,176.4 66.9,176.2 67.9,176 68.9,175.9 69.9,175.7 70.9,175.6 71.9,175.4 72.9,175.3 73.9,175.2 74.9,175.2 75.9,175.2 76.9,175.2 77.9,175.2 78.9,175.2 79.9,175.3 80.9,175.5 81.9,175.6 82.9,175.8 83.9,176 84.9,176.2 85.9,176.4 86.9,176.7 87.9,177 88.9,177.2 89.9,177.5 90.9,177.8 91.9,178 92.9,178.3 93.9,178.5 94.9,178.7 95.9,178.9 96.9,179 97.9,179.1 98.9,179.1 99.9,179.1 100.9,179 101.9,178.8 102.9,178.6 103.9,178.3 104.9,177.9 105.9,177.5 106.9,177.1 107.9,176.7 108.9,176.3 109.9,175.9 110.9,175.5 111.9,175.1 112.9,174.7 113.9,174.2 114.9,173.8 115.9,173.3 116.9,172.7 117.9,172 118.9,171.4 119.9,170.8 120.9,170.5 121.9,170.6 122.9,171.2 123.9,172.2 124.9,173.5 125.9,175.1 126.9,176.7 127.9,178.2 128.9,179.5 129.9,180.6 130.9,181.5 131.9,182.1 132.9,182.6 133.9,182.9 134.9,183.2 135.9,183.3 136.9,183.4 137.9,183.5 138.9,183.6 139.9,183.7 140.9,183.7 141.9,183.8 142.9,183.8 143.9,183.8 144.9,183.9 145.9,183.9 146.9,184 147.9,184 148.9,184 149.9,184.1 150.9,184.1 151.9,184.1 152.9,184.2 153.9,184.2 154.9,184.2 155.9,184.3 156.9,184.3 157.9,184.3 158.9,184.3 159.9,184.3 160.9,184.3 161.9,184.3 162.9,184.3 163.9,184.3 164.9,184.2 165.9,184.2 166.9,184.1 167.9,184.1 168.9,184 169.9,183.8 170.9,183.7 171.9,183.5 172.9,183.3 173.9,183.1 174.9,182.9 175.9,182.6 176.9,182.3 177.9,182 178.9,181.6 179.9,181.2 180.9,180.8 181.9,180.4 182.9,179.9 183.9,179.5 184.9,179 185.9,178.5 186.9,178.1 187.9,177.6 188.9,177.2 189.9,176.7 190.9,176.4 191.9,176 192.9,175.7 193.9,175.5 194.9,175.3 195.9,175.2 196.9,175.2 197.9,175.2 198.9,175.3 199.9,175.5 200.9,175.7 201.9,176 202.9,176.3 203.9,176.7 204.9,177.1 205.9,177.5 206.9,178 207.9,178.5 208.9,178.9 209.9,179.4 210.9,179.8 211.9,180.1 212.9,180.5 213.9,180.7 214.9,180.8 215.9,180.9 216.9,180.8 217.9,180.6 218.9,180.2 219.9,179.8 220.9,179.2 221.9,178.4 222.9,177.6 223.9,176.6 224.9,175.5 225.9,174.3 226.9,173.1 227.9,171.8 228.9,170.4 229.9,169.1 230.9,167.7 231.9,166.3 232.9,164.7 233.9,163.1 234.9,161.5 235.9,160.4 236.9,159.8 237.9,160 238.9,161.1 239.9,163 240.9,165.5 241.9,168.4 242.9,171.4 243.9,174.4 244.9,177.1 245.9,179.5 246.9,181.5 247.9,183.1 248.9,184.4 249.9,185.3 250.9,186 251.9,186.5 252.9,186.9 253.9,187.2 254.9,187.4 255.9,187.5 256.9,187.7 257.9,187.8 258.9,187.9 259.9,187.9 260.9,188" fill="none" stroke="#9ea21e" stroke-width="1.6" stroke-linejoin="round" stroke-linecap="round"/></g>
<g clip-path="url(#cp1)"><polyline points="309.2,66.1 310.2,65.6 311.2,65.6 312.2,67.3 313.2,65.5 314.2,66.1 315.2,65.4 316.2,65.5 317.2,66.7 318.2,67 319.2,65.2 320.2,64.6 321.2,66 322.2,64.5 323.2,63.9 324.2,66.3 325.2,64.9 326.2,66 327.2,64.8 328.2,66.1 329.2,64.8 330.2,64 331.2,63.5 332.2,65 333.2,65.2 334.2,65.9 335.2,63.6 336.2,65.1 337.2,64.4 338.2,64.8 339.2,63.8 340.2,64.1 341.2,64.8 342.2,66 343.2,63.7 344.2,64.8 345.2,65.7 346.2,66.2 347.2,64 348.2,63.9 349.2,66.2 350.2,66.3 351.2,65 352.2,63.8 353.2,66.3 354.2,64.9 355.2,66.4 356.2,65.6 357.2,66.2 358.2,64.4 359.2,66.2 360.2,64.6 361.2,65.2 362.2,66.4 363.2,66.3 364.2,64.5 365.2,64.5 366.2,64.9 367.2,65.1 368.2,64.6 369.2,63.6 370.2,63.7 371.2,64.6 372.2,64.7 373.2,61.8 374.2,62.7 375.2,62.5 376.2,59.8 377.2,61.2 378.2,58.3 379.2,58.7 380.2,57.5 381.2,56.8 382.2,54.9 383.2,54.4 384.2,54.1 385.2,53.1 386.2,53.4 387.2,52.7 388.2,52.8 389.2,52.1 390.2,54.5 391.2,55 392.2,55.4 393.2,58.1 394.2,59.4 395.2,59.8 396.2,60.3 397.2,62.3 398.2,62.3 399.2,63.3 400.2,65 401.2,64.7 402.2,66.2 403.2,66.8 404.2,65.8 405.2,67.7 406.2,66.3 407.2,68.3 408.2,68.5 409.2,67.8 410.2,66.5 411.2,67.8 412.2,67.5 413.2,69 414.2,66.7 415.2,68.7 416.2,69 417.2,68.2 418.2,68.4 419.2,66.6 420.2,68.7 421.2,67.2 422.2,68.4 423.2,68.2 424.2,66 425.2,67.6 426.2,67.8 427.2,65.2 428.2,65.9 429.2,66.8 430.2,64.9 431.2,66.8 432.2,64.8 433.2,66.1 434.2,64 435.2,64.7 436.2,65.6 437.2,63.3 438.2,63.2 439.2,63.5 440.2,62.7 441.2,61.6 442.2,61.6 443.2,61.2 444.2,63.1 445.2,62 446.2,62.2 447.2,59.8 448.2,61.2 449.2,59 450.2,59.8 451.2,59.8 452.2,58.7 453.2,59.8 454.2,58.6 455.2,58.3 456.2,58.9 457.2,56.5 458.2,58.7 459.2,57.5 460.2,56.6 461.2,57.5 462.2,55.9 463.2,57.7 464.2,56.5 465.2,55.8 466.2,57 467.2,56.1 468.2,55.5 469.2,57.2 470.2,55.4 471.2,57.7 472.2,56.2 473.2,57.3 474.2,58.3 475.2,57.2 476.2,57.2 477.2,56 478.2,54.9 479.2,54.6 480.2,54.4 481.2,55.1 482.2,53.9 483.2,53.4 484.2,53.6 485.2,50.5 486.2,49.8 487.2,50 488.2,47.1 489.2,45.9 490.2,45.8 491.2,43.9 492.2,43.5 493.2,41.9 494.2,41.8 495.2,40.6 496.2,38.4 497.2,38.5 498.2,37.1 499.2,35.2 500.2,36.8 501.2,34.3 502.2,33.7 503.2,33.6 504.2,35.4 505.2,36.7 506.2,37.5 507.2,38.1 508.2,39.9 509.2,41.7 510.2,46.2 511.2,48.8 512.2,51 513.2,54.4 514.2,56.3 515.2,59.8 516.2,61.1 517.2,61.3 518.2,64.5 519.2,63.1 520.2,65.4 521.2,65.7 522.2,65.7 523.2,65.6 524.2,67.9 525.2,66 526.2,67.6 527.2,68.8 528.2,66.7 529.2,66.9 530.2,68.1 531.2,67.9 532.2,68.3 533.2,68.8" fill="none" stroke="#555555" stroke-width="1.3" stroke-linejoin="round" stroke-linecap="round"/><polyline points="358.2,68.7 359.2,68.6 360.2,68.6 361.2,68.5 362.2,68.5 363.2,68.4 364.2,68.3 365.2,68.2 366.2,68 367.2,67.8 368.2,67.6 369.2,67.3 370.2,67.1 371.2,66.7 372.2,66.4 373.2,66 374.2,65.7 375.2,65.3 376.2,64.9 377.2,64.6 378.2,64.3 379.2,64.1 380.2,63.9 381.2,63.8 382.2,63.7 383.2,63.8 384.2,63.9 385.2,64.1 386.2,64.4 387.2,64.7 388.2,65 389.2,65.4 390.2,65.8 391.2,66.1 392.2,66.5 393.2,66.8 394.2,67.1 395.2,67.4 396.2,67.6 397.2,67.8 398.2,68 399.2,68.1 400.2,68.3 401.2,68.3 402.2,68.4 403.2,68.5 404.2,68.5 405.2,68.5" fill="none" stroke="#22bcc8" stroke-width="1.5" stroke-linejoin="round" stroke-linecap="round"/><polyline points="365.2,68.6 366.2,68.6 367.2,68.6 368.2,68.5 369.2,68.5 370.2,68.4 371.2,68.3 372.2,68.1 373.2,67.9 374.2,67.6 375.2,67.2 376.2,66.7 377.2,66.2 378.2,65.5 379.2,64.7 380.2,63.8 381.2,62.9 382.2,61.9 383.2,60.9 384.2,60 385.2,59.1 386.2,58.5 387.2,58 388.2,57.7 389.2,57.8 390.2,58 391.2,58.6 392.2,59.3 393.2,60.1 394.2,61.1 395.2,62.1 396.2,63 397.2,64 398.2,64.8 399.2,65.6 400.2,66.2 401.2,66.8 402.2,67.2 403.2,67.6 404.2,67.9 405.2,68.1 406.2,68.2 407.2,68.3 408.2,68.4 409.2,68.5 410.2,68.5 411.2,68.5 412.2,68.5" fill="none" stroke="#2f6fe0" stroke-width="1.5" stroke-linejoin="round" stroke-linecap="round"/><polyline points="400.2,68.6 401.2,68.6 402.2,68.5 403.2,68.5 404.2,68.5 405.2,68.5 406.2,68.5 407.2,68.4 408.2,68.4 409.2,68.4 410.2,68.3 411.2,68.3 412.2,68.2 413.2,68.2 414.2,68.1 415.2,68.1 416.2,68 417.2,67.9 418.2,67.8 419.2,67.7 420.2,67.6 421.2,67.5 422.2,67.4 423.2,67.3 424.2,67.2 425.2,67 426.2,66.9 427.2,66.7 428.2,66.5 429.2,66.4 430.2,66.2 431.2,66 432.2,65.8 433.2,65.5 434.2,65.3 435.2,65.1 436.2,64.8 437.2,64.6 438.2,64.3 439.2,64 440.2,63.8 441.2,63.5 442.2,63.2 443.2,62.9 444.2,62.6 445.2,62.4 446.2,62.1 447.2,61.8 448.2,61.5 449.2,61.3 450.2,61 451.2,60.8 452.2,60.6 453.2,60.3 454.2,60.1 455.2,60 456.2,59.8 457.2,59.7 458.2,59.5 459.2,59.4 460.2,59.4 461.2,59.3 462.2,59.3 463.2,59.3 464.2,59.3 465.2,59.4 466.2,59.6 467.2,59.9 468.2,60.2 469.2,60.6 470.2,61.1 471.2,61.5 472.2,62 473.2,62.5 474.2,63 475.2,63.5 476.2,64 477.2,64.5 478.2,64.9 479.2,65.4 480.2,65.7 481.2,66.1 482.2,66.4 483.2,66.7 484.2,67 485.2,67.2 486.2,67.4 487.2,67.6 488.2,67.8 489.2,67.9 490.2,68 491.2,68.1 492.2,68.2 493.2,68.2 494.2,68.3 495.2,68.3 496.2,68.3 497.2,68.4" fill="none" stroke="#22b877" stroke-width="1.5" stroke-linejoin="round" stroke-linecap="round"/><polyline points="458.2,68.4 459.2,68.4 460.2,68.4 461.2,68.3 462.2,68.3 463.2,68.2 464.2,68.2 465.2,68.1 466.2,67.9 467.2,67.8 468.2,67.6 469.2,67.4 470.2,67.1 471.2,66.8 472.2,66.4 473.2,66 474.2,65.5 475.2,64.9 476.2,64.3 477.2,63.6 478.2,62.9 479.2,62.1 480.2,61.2 481.2,60.4 482.2,59.5 483.2,58.6 484.2,57.8 485.2,57 486.2,56.2 487.2,55.5 488.2,54.9 489.2,54.5 490.2,54.1 491.2,53.9 492.2,53.9 493.2,54 494.2,54.2 495.2,54.5 496.2,54.9 497.2,55.4 498.2,56.1 499.2,56.7 500.2,57.4 501.2,58.2 502.2,59 503.2,59.8 504.2,60.6 505.2,61.4 506.2,62.1 507.2,62.8 508.2,63.5 509.2,64.1 510.2,64.7 511.2,65.2 512.2,65.7 513.2,66.1 514.2,66.4 515.2,66.8 516.2,67 517.2,67.3 518.2,67.5 519.2,67.6 520.2,67.8 521.2,67.9 522.2,68 523.2,68.1 524.2,68.1 525.2,68.2 526.2,68.2 527.2,68.2 528.2,68.3 529.2,68.3" fill="none" stroke="#dca01c" stroke-width="1.5" stroke-linejoin="round" stroke-linecap="round"/><polyline points="439.2,68.5 440.2,68.5 441.2,68.5 442.2,68.5 443.2,68.5 444.2,68.5 445.2,68.4 446.2,68.4 447.2,68.4 448.2,68.4 449.2,68.4 450.2,68.4 451.2,68.4 452.2,68.4 453.2,68.4 454.2,68.4 455.2,68.4 456.2,68.4 457.2,68.3 458.2,68.3 459.2,68.3 460.2,68.3 461.2,68.3 462.2,68.3 463.2,68.3 464.2,68.2 465.2,68.2 466.2,68.2 467.2,68.2 468.2,68.2 469.2,68.1 470.2,68.1 471.2,68.1 472.2,68.1 473.2,68 474.2,68 475.2,67.9 476.2,67.9 477.2,67.8 478.2,67.7 479.2,67.6 480.2,67.4 481.2,67.2 482.2,67 483.2,66.7 484.2,66.3 485.2,65.9 486.2,65.4 487.2,64.7 488.2,64 489.2,63.1 490.2,62.1 491.2,60.9 492.2,59.7 493.2,58.3 494.2,56.8 495.2,55.1 496.2,53.5 497.2,51.8 498.2,50.1 499.2,48.5 500.2,47 501.2,45.6 502.2,44.5 503.2,43.7 504.2,43.1 505.2,43 506.2,43.3 507.2,44.2 508.2,45.7 509.2,47.6 510.2,49.7 511.2,52 512.2,54.2 513.2,56.4 514.2,58.5 515.2,60.3 516.2,61.9 517.2,63.3 518.2,64.4 519.2,65.3 520.2,66 521.2,66.5 522.2,66.9 523.2,67.2 524.2,67.4 525.2,67.6 526.2,67.7 527.2,67.8 528.2,67.9 529.2,67.9 530.2,68 531.2,68 532.2,68 533.2,68" fill="none" stroke="#f0403c" stroke-width="1.5" stroke-linejoin="round" stroke-linecap="round"/><polyline points="309.2,68.9 533.5,68.4" fill="none" stroke="#965272" stroke-width="1.3" stroke-linejoin="round" stroke-linecap="round"/><polyline points="309.2,66.3 310.2,66.2 311.2,66.2 312.2,66.1 313.2,66 314.2,65.9 315.2,65.8 316.2,65.8 317.2,65.7 318.2,65.6 319.2,65.5 320.2,65.5 321.2,65.4 322.2,65.3 323.2,65.3 324.2,65.2 325.2,65.1 326.2,65.1 327.2,65 328.2,65 329.2,65 330.2,64.9 331.2,64.9 332.2,64.8 333.2,64.8 334.2,64.8 335.2,64.8 336.2,64.8 337.2,64.8 338.2,64.7 339.2,64.7 340.2,64.7 341.2,64.8 342.2,64.8 343.2,64.8 344.2,64.8 345.2,64.8 346.2,64.8 347.2,64.9 348.2,64.9 349.2,65 350.2,65 351.2,65 352.2,65.1 353.2,65.1 354.2,65.2 355.2,65.2 356.2,65.3 357.2,65.3 358.2,65.4 359.2,65.4 360.2,65.4 361.2,65.4 362.2,65.4 363.2,65.4 364.2,65.4 365.2,65.3 366.2,65.2 367.2,65.1 368.2,64.9 369.2,64.7 370.2,64.4 371.2,64 372.2,63.6 373.2,63.1 374.2,62.5 375.2,61.8 376.2,61.1 377.2,60.2 378.2,59.3 379.2,58.4 380.2,57.4 381.2,56.4 382.2,55.5 383.2,54.6 384.2,53.9 385.2,53.3 386.2,52.9 387.2,52.8 388.2,53 389.2,53.4 390.2,54.1 391.2,55 392.2,56.2 393.2,57.4 394.2,58.7 395.2,60 396.2,61.2 397.2,62.4 398.2,63.4 399.2,64.4 400.2,65.2 401.2,65.8 402.2,66.3 403.2,66.8 404.2,67.1 405.2,67.3 406.2,67.5 407.2,67.6 408.2,67.7 409.2,67.8 410.2,67.8 411.2,67.8 412.2,67.8 413.2,67.8 414.2,67.7 415.2,67.7 416.2,67.7 417.2,67.6 418.2,67.5 419.2,67.4 420.2,67.4 421.2,67.3 422.2,67.2 423.2,67 424.2,66.9 425.2,66.8 426.2,66.6 427.2,66.4 428.2,66.3 429.2,66.1 430.2,65.9 431.2,65.7 432.2,65.4 433.2,65.2 434.2,65 435.2,64.7 436.2,64.4 437.2,64.1 438.2,63.8 439.2,63.5 440.2,63.2 441.2,62.9 442.2,62.5 443.2,62.2 444.2,61.8 445.2,61.5 446.2,61.1 447.2,60.8 448.2,60.4 449.2,60.1 450.2,59.7 451.2,59.4 452.2,59 453.2,58.7 454.2,58.4 455.2,58.1 456.2,57.8 457.2,57.6 458.2,57.3 459.2,57.1 460.2,56.9 461.2,56.7 462.2,56.5 463.2,56.4 464.2,56.3 465.2,56.2 466.2,56.2 467.2,56.3 468.2,56.4 469.2,56.5 470.2,56.7 471.2,56.8 472.2,56.9 473.2,57 474.2,57 475.2,56.9 476.2,56.8 477.2,56.6 478.2,56.3 479.2,55.9 480.2,55.4 481.2,54.8 482.2,54.1 483.2,53.3 484.2,52.5 485.2,51.6 486.2,50.6 487.2,49.5 488.2,48.5 489.2,47.3 490.2,46.2 491.2,45 492.2,43.9 493.2,42.7 494.2,41.5 495.2,40.4 496.2,39.2 497.2,38.1 498.2,37.1 499.2,36.3 500.2,35.5 501.2,35 502.2,34.7 503.2,34.7 504.2,35 505.2,35.6 506.2,36.7 507.2,38.4 508.2,40.6 509.2,43.1 510.2,45.8 511.2,48.6 512.2,51.4 513.2,54 514.2,56.4 515.2,58.6 516.2,60.5 517.2,62 518.2,63.4 519.2,64.4 520.2,65.3 521.2,65.9 522.2,66.4 523.2,66.8 524.2,67.1 525.2,67.3 526.2,67.5 527.2,67.6 528.2,67.7 529.2,67.8 530.2,67.8 531.2,67.9 532.2,67.9 533.2,67.9" fill="none" stroke="#9ea21e" stroke-width="1.6" stroke-linejoin="round" stroke-linecap="round"/><polyline points="309.2,104.7 310.2,105 311.2,105 312.2,104.2 313.2,106.5 314.2,106.2 315.2,106 316.2,103.9 317.2,106.2 318.2,105.9 319.2,105.1 320.2,105.8 321.2,105 322.2,104.3 323.2,103.9 324.2,104.3 325.2,103.7 326.2,104.5 327.2,105.6 328.2,105.4 329.2,105.8 330.2,105.4 331.2,104.2 332.2,104.9 333.2,104.6 334.2,105.6 335.2,104.8 336.2,104.1 337.2,105.1 338.2,106 339.2,103.9 340.2,105.7 341.2,103.3 342.2,104 343.2,103.9 344.2,105.4 345.2,105.9 346.2,105.4 347.2,104.2 348.2,105.8 349.2,104.2 350.2,104 351.2,105.9 352.2,105.1 353.2,105.3 354.2,105.3 355.2,106.2 356.2,104.8 357.2,105.8 358.2,105.5 359.2,105.9 360.2,104.8 361.2,105.6 362.2,105.2 363.2,104.4 364.2,104.1 365.2,105.2 366.2,103.5 367.2,105.7 368.2,103.3 369.2,102.6 370.2,102.4 371.2,104.3 372.2,102.1 373.2,100.9 374.2,99.9 375.2,99.3 376.2,100.5 377.2,99.7 378.2,99.3 379.2,98.8 380.2,96.3 381.2,97 382.2,95.5 383.2,96 384.2,95.1 385.2,94.7 386.2,92.1 387.2,94.6 388.2,95.4 389.2,96.7 390.2,96 391.2,98 392.2,99.4 393.2,100.8 394.2,104.4 395.2,105.4 396.2,105.7 397.2,106.8 398.2,106.6 399.2,105.9 400.2,105.6 401.2,105.7 402.2,107.6 403.2,106.1 404.2,106.5 405.2,106.8 406.2,105.7 407.2,106.4 408.2,106.5 409.2,107.7 410.2,106.8 411.2,106.7 412.2,108.5 413.2,107.2 414.2,108.2 415.2,107.5 416.2,105.9 417.2,106.9 418.2,107 419.2,107.9 420.2,106.6 421.2,107.6 422.2,107.1 423.2,106.1 424.2,107.9 425.2,105.7 426.2,107.6 427.2,105.7 428.2,105.2 429.2,105.6 430.2,107.1 431.2,107.6 432.2,104.7 433.2,106 434.2,105.8 435.2,106.5 436.2,104.7 437.2,105.4 438.2,104.8 439.2,106 440.2,104.2 441.2,105.9 442.2,103.8 443.2,103.4 444.2,104.6 445.2,103.8 446.2,102.4 447.2,103.7 448.2,101.9 449.2,103.6 450.2,103.1 451.2,103.1 452.2,102.4 453.2,101.3 454.2,101.2 455.2,100.9 456.2,102 457.2,99.4 458.2,101.4 459.2,98.7 460.2,98.9 461.2,98.8 462.2,100.3 463.2,98.9 464.2,98.3 465.2,99.5 466.2,97.5 467.2,98 468.2,98.1 469.2,98.6 470.2,98.5 471.2,98.2 472.2,97.3 473.2,97.2 474.2,96.6 475.2,98.5 476.2,97.9 477.2,98 478.2,96.2 479.2,96.8 480.2,97.5 481.2,96.7 482.2,95.1 483.2,95.6 484.2,96.3 485.2,94 486.2,93.2 487.2,92.8 488.2,93.2 489.2,92.6 490.2,89.7 491.2,88.6 492.2,87.7 493.2,86.6 494.2,85.9 495.2,83.7 496.2,83 497.2,81.5 498.2,82.7 499.2,81.2 500.2,78.7 501.2,80.7 502.2,78 503.2,78.9 504.2,80.9 505.2,81.1 506.2,82.2 507.2,83.2 508.2,84.6 509.2,88.2 510.2,89.2 511.2,92 512.2,94.9 513.2,96.1 514.2,99.1 515.2,102 516.2,103.2 517.2,103.9 518.2,105.3 519.2,105.7 520.2,105.4 521.2,107.2 522.2,107 523.2,108.3 524.2,108.9 525.2,107.8 526.2,108.3 527.2,108.9 528.2,108.1 529.2,107.6 530.2,109 531.2,109.5 532.2,109.2 533.2,109.1" fill="none" stroke="#555555" stroke-width="1.3" stroke-linejoin="round" stroke-linecap="round"/><polyline points="362.2,107.5 363.2,107.5 364.2,107.4 365.2,107.3 366.2,107.2 367.2,107 368.2,106.7 369.2,106.3 370.2,105.9 371.2,105.3 372.2,104.8 373.2,104.1 374.2,103.5 375.2,102.9 376.2,102.4 377.2,102.1 378.2,101.9 379.2,101.9 380.2,102.2 381.2,102.6 382.2,103.1 383.2,103.7 384.2,104.3 385.2,105 386.2,105.6 387.2,106.1 388.2,106.5 389.2,106.9 390.2,107.2 391.2,107.4 392.2,107.5 393.2,107.6 394.2,107.7 395.2,107.8" fill="none" stroke="#22bcc8" stroke-width="1.5" stroke-linejoin="round" stroke-linecap="round"/><polyline points="372.2,107.6 373.2,107.6 374.2,107.5 375.2,107.4 376.2,107.2 377.2,106.9 378.2,106.5 379.2,105.8 380.2,104.9 381.2,103.7 382.2,102.3 383.2,100.8 384.2,99.3 385.2,98 386.2,97.1 387.2,96.8 388.2,97 389.2,97.8 390.2,99.1 391.2,100.6 392.2,102.1 393.2,103.5 394.2,104.8 395.2,105.7 396.2,106.5 397.2,107 398.2,107.3 399.2,107.6 400.2,107.7 401.2,107.8 402.2,107.8" fill="none" stroke="#2f6fe0" stroke-width="1.5" stroke-linejoin="round" stroke-linecap="round"/><polyline points="406.2,107.9 407.2,107.9 408.2,107.9 409.2,107.8 410.2,107.8 411.2,107.8 412.2,107.8 413.2,107.8 414.2,107.8 415.2,107.7 416.2,107.7 417.2,107.7 418.2,107.6 419.2,107.6 420.2,107.5 421.2,107.5 422.2,107.4 423.2,107.4 424.2,107.3 425.2,107.2 426.2,107.2 427.2,107.1 428.2,107 429.2,106.9 430.2,106.8 431.2,106.7 432.2,106.6 433.2,106.5 434.2,106.3 435.2,106.2 436.2,106.1 437.2,105.9 438.2,105.8 439.2,105.7 440.2,105.5 441.2,105.4 442.2,105.2 443.2,105.1 444.2,104.9 445.2,104.8 446.2,104.6 447.2,104.5 448.2,104.3 449.2,104.2 450.2,104.1 451.2,104 452.2,103.8 453.2,103.7 454.2,103.6 455.2,103.5 456.2,103.4 457.2,103.4 458.2,103.3 459.2,103.3 460.2,103.2 461.2,103.2 462.2,103.2 463.2,103.2 464.2,103.2 465.2,103.3 466.2,103.5 467.2,103.7 468.2,103.9 469.2,104.2 470.2,104.4 471.2,104.8 472.2,105.1 473.2,105.4 474.2,105.7 475.2,106 476.2,106.3 477.2,106.6 478.2,106.9 479.2,107.1 480.2,107.3 481.2,107.5 482.2,107.7 483.2,107.8 484.2,108 485.2,108.1 486.2,108.2 487.2,108.3 488.2,108.3 489.2,108.4 490.2,108.4 491.2,108.5" fill="none" stroke="#22b877" stroke-width="1.5" stroke-linejoin="round" stroke-linecap="round"/><polyline points="427.2,108 428.2,108 429.2,108 430.2,108 431.2,108 432.2,108 433.2,108 434.2,107.9 435.2,107.9 436.2,107.9 437.2,107.9 438.2,107.8 439.2,107.8 440.2,107.8 441.2,107.7 442.2,107.7 443.2,107.6 444.2,107.5 445.2,107.5 446.2,107.4 447.2,107.3 448.2,107.2 449.2,107.1 450.2,107 451.2,106.8 452.2,106.7 453.2,106.5 454.2,106.4 455.2,106.2 456.2,106 457.2,105.8 458.2,105.6 459.2,105.4 460.2,105.1 461.2,104.9 462.2,104.6 463.2,104.4 464.2,104.1 465.2,103.8 466.2,103.5 467.2,103.2 468.2,102.9 469.2,102.5 470.2,102.2 471.2,101.9 472.2,101.6 473.2,101.2 474.2,100.9 475.2,100.6 476.2,100.2 477.2,99.9 478.2,99.6 479.2,99.3 480.2,99 481.2,98.8 482.2,98.5 483.2,98.3 484.2,98.1 485.2,97.9 486.2,97.7 487.2,97.6 488.2,97.5 489.2,97.4 490.2,97.3 491.2,97.3 492.2,97.3 493.2,97.4 494.2,97.5 495.2,97.8 496.2,98.1 497.2,98.6 498.2,99 499.2,99.6 500.2,100.1 501.2,100.7 502.2,101.3 503.2,102 504.2,102.6 505.2,103.2 506.2,103.8 507.2,104.3 508.2,104.9 509.2,105.4 510.2,105.8 511.2,106.2 512.2,106.6 513.2,106.9 514.2,107.2 515.2,107.5 516.2,107.7 517.2,107.9 518.2,108 519.2,108.2 520.2,108.3 521.2,108.4 522.2,108.5 523.2,108.5 524.2,108.6 525.2,108.7 526.2,108.7 527.2,108.7" fill="none" stroke="#dca01c" stroke-width="1.5" stroke-linejoin="round" stroke-linecap="round"/><polyline points="441.2,108.1 442.2,108.1 443.2,108.1 444.2,108.1 445.2,108.1 446.2,108.1 447.2,108.1 448.2,108.1 449.2,108.1 450.2,108.1 451.2,108.1 452.2,108.1 453.2,108.1 454.2,108.1 455.2,108.1 456.2,108.1 457.2,108.1 458.2,108.1 459.2,108.1 460.2,108.1 461.2,108.1 462.2,108.1 463.2,108.1 464.2,108.1 465.2,108.1 466.2,108.1 467.2,108.1 468.2,108.1 469.2,108.1 470.2,108.1 471.2,108 472.2,108 473.2,108 474.2,107.9 475.2,107.9 476.2,107.8 477.2,107.8 478.2,107.7 479.2,107.6 480.2,107.4 481.2,107.2 482.2,107 483.2,106.7 484.2,106.3 485.2,105.9 486.2,105.3 487.2,104.7 488.2,103.9 489.2,103.1 490.2,102.1 491.2,101 492.2,99.8 493.2,98.4 494.2,97 495.2,95.6 496.2,94 497.2,92.5 498.2,91 499.2,89.7 500.2,88.4 501.2,87.3 502.2,86.5 503.2,86 504.2,85.7 505.2,85.8 506.2,86.5 507.2,87.7 508.2,89.3 509.2,91.2 510.2,93.2 511.2,95.3 512.2,97.3 513.2,99.2 514.2,101 515.2,102.5 516.2,103.8 517.2,104.8 518.2,105.7 519.2,106.4 520.2,106.9 521.2,107.3 522.2,107.6 523.2,107.9 524.2,108 525.2,108.2 526.2,108.3 527.2,108.3 528.2,108.4 529.2,108.4 530.2,108.5 531.2,108.5 532.2,108.6 533.2,108.6" fill="none" stroke="#f0403c" stroke-width="1.5" stroke-linejoin="round" stroke-linecap="round"/><polyline points="309.2,107.3 533.5,108.9" fill="none" stroke="#965272" stroke-width="1.3" stroke-linejoin="round" stroke-linecap="round"/><polyline points="309.2,105.6 310.2,105.6 311.2,105.5 312.2,105.5 313.2,105.4 314.2,105.4 315.2,105.4 316.2,105.3 317.2,105.3 318.2,105.2 319.2,105.2 320.2,105.2 321.2,105.1 322.2,105.1 323.2,105.1 324.2,105 325.2,105 326.2,105 327.2,104.9 328.2,104.9 329.2,104.9 330.2,104.8 331.2,104.8 332.2,104.8 333.2,104.8 334.2,104.8 335.2,104.7 336.2,104.7 337.2,104.7 338.2,104.7 339.2,104.7 340.2,104.7 341.2,104.7 342.2,104.7 343.2,104.7 344.2,104.7 345.2,104.7 346.2,104.7 347.2,104.7 348.2,104.7 349.2,104.7 350.2,104.7 351.2,104.7 352.2,104.8 353.2,104.8 354.2,104.8 355.2,104.8 356.2,104.9 357.2,104.9 358.2,104.9 359.2,104.9 360.2,104.9 361.2,105 362.2,105 363.2,104.9 364.2,104.9 365.2,104.8 366.2,104.7 367.2,104.5 368.2,104.3 369.2,104 370.2,103.5 371.2,103.1 372.2,102.5 373.2,101.9 374.2,101.2 375.2,100.6 376.2,99.9 377.2,99.3 378.2,98.7 379.2,98.1 380.2,97.5 381.2,96.7 382.2,95.9 383.2,95.1 384.2,94.3 385.2,93.6 386.2,93.3 387.2,93.5 388.2,94.3 389.2,95.5 390.2,97.1 391.2,98.8 392.2,100.5 393.2,102.1 394.2,103.4 395.2,104.5 396.2,105.3 397.2,105.9 398.2,106.3 399.2,106.5 400.2,106.7 401.2,106.8 402.2,106.9 403.2,106.9 404.2,107 405.2,107 406.2,107.1 407.2,107.1 408.2,107.1 409.2,107.1 410.2,107.2 411.2,107.2 412.2,107.2 413.2,107.2 414.2,107.2 415.2,107.2 416.2,107.2 417.2,107.2 418.2,107.1 419.2,107.1 420.2,107.1 421.2,107 422.2,107 423.2,106.9 424.2,106.9 425.2,106.8 426.2,106.7 427.2,106.7 428.2,106.6 429.2,106.5 430.2,106.4 431.2,106.3 432.2,106.1 433.2,106 434.2,105.9 435.2,105.7 436.2,105.6 437.2,105.4 438.2,105.2 439.2,105 440.2,104.8 441.2,104.6 442.2,104.4 443.2,104.2 444.2,104 445.2,103.8 446.2,103.5 447.2,103.3 448.2,103 449.2,102.8 450.2,102.5 451.2,102.3 452.2,102 453.2,101.7 454.2,101.4 455.2,101.2 456.2,100.9 457.2,100.6 458.2,100.3 459.2,100 460.2,99.7 461.2,99.4 462.2,99.2 463.2,98.9 464.2,98.6 465.2,98.4 466.2,98.2 467.2,98.1 468.2,98 469.2,97.9 470.2,97.8 471.2,97.8 472.2,97.7 473.2,97.6 474.2,97.6 475.2,97.5 476.2,97.4 477.2,97.3 478.2,97.1 479.2,96.9 480.2,96.7 481.2,96.4 482.2,96.1 483.2,95.7 484.2,95.3 485.2,94.7 486.2,94.1 487.2,93.4 488.2,92.6 489.2,91.7 490.2,90.7 491.2,89.6 492.2,88.4 493.2,87.1 494.2,85.9 495.2,84.7 496.2,83.5 497.2,82.4 498.2,81.4 499.2,80.5 500.2,79.8 501.2,79.4 502.2,79.1 503.2,79.2 504.2,79.6 505.2,80.3 506.2,81.6 507.2,83.3 508.2,85.5 509.2,87.8 510.2,90.3 511.2,92.8 512.2,95.2 513.2,97.4 514.2,99.4 515.2,101.2 516.2,102.7 517.2,103.9 518.2,104.9 519.2,105.8 520.2,106.4 521.2,106.9 522.2,107.3 523.2,107.6 524.2,107.8 525.2,108 526.2,108.1 527.2,108.2 528.2,108.3 529.2,108.3 530.2,108.4 531.2,108.4 532.2,108.5 533.2,108.5" fill="none" stroke="#9ea21e" stroke-width="1.6" stroke-linejoin="round" stroke-linecap="round"/><polyline points="309.2,148.6 310.2,148 311.2,147.9 312.2,147.3 313.2,146.9 314.2,147.7 315.2,146.2 316.2,147 317.2,148 318.2,147.7 319.2,147.5 320.2,146.4 321.2,146.8 322.2,146.8 323.2,147.3 324.2,146.6 325.2,147.3 326.2,148 327.2,145.9 328.2,147.2 329.2,147.5 330.2,146.4 331.2,146.6 332.2,147.9 333.2,145.3 334.2,146.7 335.2,145.6 336.2,147.3 337.2,147.7 338.2,146.5 339.2,145.4 340.2,146.7 341.2,146.6 342.2,147 343.2,146.5 344.2,146.8 345.2,147.3 346.2,146.5 347.2,146.2 348.2,147.7 349.2,145.6 350.2,147 351.2,146.2 352.2,147.2 353.2,145.4 354.2,147.8 355.2,146.1 356.2,145.2 357.2,145.8 358.2,146.2 359.2,145.1 360.2,146.2 361.2,146.1 362.2,146.8 363.2,145.8 364.2,145.5 365.2,145.2 366.2,146.5 367.2,146.9 368.2,145.6 369.2,144.5 370.2,145.9 371.2,144.4 372.2,143.6 373.2,143 374.2,144.4 375.2,144.1 376.2,143.1 377.2,142.1 378.2,141.8 379.2,140.2 380.2,141.6 381.2,139.2 382.2,139.3 383.2,139.2 384.2,138.6 385.2,137.1 386.2,136.3 387.2,136.8 388.2,135.7 389.2,137.9 390.2,137 391.2,139.1 392.2,138.3 393.2,139.5 394.2,140.2 395.2,141.8 396.2,142.1 397.2,142.6 398.2,145.5 399.2,145 400.2,145.6 401.2,146.4 402.2,147.3 403.2,147.6 404.2,148.5 405.2,148.8 406.2,148.1 407.2,149.8 408.2,149.7 409.2,147.6 410.2,149.8 411.2,150.1 412.2,149.8 413.2,148 414.2,150 415.2,149.5 416.2,147.8 417.2,147.8 418.2,150.5 419.2,149.7 420.2,148.6 421.2,148.2 422.2,148.3 423.2,148.6 424.2,150.1 425.2,148.9 426.2,148.4 427.2,150.5 428.2,150.2 429.2,148.5 430.2,150.5 431.2,149.7 432.2,150.2 433.2,149.8 434.2,150.5 435.2,150.1 436.2,150.2 437.2,148.4 438.2,149.7 439.2,149.2 440.2,149.7 441.2,148.8 442.2,149.9 443.2,148.8 444.2,147.8 445.2,147.5 446.2,147 447.2,147.7 448.2,146.2 449.2,147.1 450.2,145.8 451.2,146.4 452.2,146.1 453.2,145.8 454.2,146.3 455.2,143.4 456.2,145.4 457.2,143.9 458.2,143.8 459.2,143.7 460.2,143.8 461.2,142.2 462.2,142.1 463.2,143.3 464.2,140.7 465.2,142.1 466.2,142 467.2,140.2 468.2,141.8 469.2,142 470.2,142.7 471.2,141.1 472.2,142.9 473.2,141.6 474.2,141.6 475.2,142.7 476.2,140.2 477.2,142 478.2,141.6 479.2,140.6 480.2,141.8 481.2,140.1 482.2,140 483.2,139.7 484.2,139.8 485.2,137.6 486.2,137.5 487.2,136.6 488.2,136.1 489.2,135.8 490.2,133.2 491.2,133.5 492.2,131 493.2,129.9 494.2,127.9 495.2,127.1 496.2,127.1 497.2,124.9 498.2,124.1 499.2,121.8 500.2,120.9 501.2,120.2 502.2,120.7 503.2,120.8 504.2,121.5 505.2,120.1 506.2,123.2 507.2,125.4 508.2,126.5 509.2,127.5 510.2,130.6 511.2,132.3 512.2,135.2 513.2,139.5 514.2,140.7 515.2,142.6 516.2,144.5 517.2,146.1 518.2,146.3 519.2,147.2 520.2,147.9 521.2,148.6 522.2,148.7 523.2,149.2 524.2,148.2 525.2,149.6 526.2,149.2 527.2,150.1 528.2,148.4 529.2,148.6 530.2,148.3 531.2,150.4 532.2,150.8 533.2,150.1" fill="none" stroke="#555555" stroke-width="1.3" stroke-linejoin="round" stroke-linecap="round"/><polyline points="356.2,149.4 357.2,149.4 358.2,149.3 359.2,149.3 360.2,149.2 361.2,149.1 362.2,149.1 363.2,148.9 364.2,148.8 365.2,148.7 366.2,148.5 367.2,148.3 368.2,148.1 369.2,147.8 370.2,147.6 371.2,147.3 372.2,147.1 373.2,146.8 374.2,146.5 375.2,146.3 376.2,146.1 377.2,145.9 378.2,145.7 379.2,145.6 380.2,145.5 381.2,145.5 382.2,145.6 383.2,145.7 384.2,145.8 385.2,146 386.2,146.2 387.2,146.4 388.2,146.7 389.2,147 390.2,147.2 391.2,147.5 392.2,147.8 393.2,148 394.2,148.2 395.2,148.5 396.2,148.7 397.2,148.8 398.2,149 399.2,149.1 400.2,149.2 401.2,149.3 402.2,149.4 403.2,149.4 404.2,149.5 405.2,149.5 406.2,149.6" fill="none" stroke="#22bcc8" stroke-width="1.5" stroke-linejoin="round" stroke-linecap="round"/><polyline points="368.2,149.4 369.2,149.4 370.2,149.4 371.2,149.3 372.2,149.2 373.2,149.1 374.2,148.9 375.2,148.7 376.2,148.3 377.2,148 378.2,147.5 379.2,146.9 380.2,146.3 381.2,145.5 382.2,144.8 383.2,144 384.2,143.2 385.2,142.5 386.2,141.9 387.2,141.4 388.2,141.1 389.2,141.1 390.2,141.2 391.2,141.6 392.2,142.1 393.2,142.8 394.2,143.5 395.2,144.3 396.2,145.1 397.2,145.9 398.2,146.6 399.2,147.2 400.2,147.7 401.2,148.2 402.2,148.6 403.2,148.8 404.2,149.1 405.2,149.2 406.2,149.4 407.2,149.4 408.2,149.5 409.2,149.6 410.2,149.6" fill="none" stroke="#2f6fe0" stroke-width="1.5" stroke-linejoin="round" stroke-linecap="round"/><polyline points="433.2,149.7 434.2,149.6 435.2,149.6 436.2,149.6 437.2,149.5 438.2,149.5 439.2,149.4 440.2,149.3 441.2,149.2 442.2,149.1 443.2,148.9 444.2,148.7 445.2,148.5 446.2,148.3 447.2,148.1 448.2,147.8 449.2,147.5 450.2,147.1 451.2,146.8 452.2,146.4 453.2,146 454.2,145.7 455.2,145.3 456.2,144.9 457.2,144.5 458.2,144.2 459.2,143.9 460.2,143.6 461.2,143.4 462.2,143.2 463.2,143.1 464.2,143.1 465.2,143.1 466.2,143.2 467.2,143.3 468.2,143.5 469.2,143.8 470.2,144 471.2,144.4 472.2,144.7 473.2,145.1 474.2,145.5 475.2,145.9 476.2,146.3 477.2,146.7 478.2,147 479.2,147.4 480.2,147.7 481.2,148 482.2,148.3 483.2,148.5 484.2,148.7 485.2,148.9 486.2,149.1 487.2,149.3 488.2,149.4 489.2,149.5 490.2,149.6 491.2,149.7 492.2,149.7 493.2,149.8 494.2,149.8 495.2,149.8" fill="none" stroke="#22b877" stroke-width="1.5" stroke-linejoin="round" stroke-linecap="round"/><polyline points="452.2,149.7 453.2,149.7 454.2,149.7 455.2,149.6 456.2,149.6 457.2,149.6 458.2,149.5 459.2,149.5 460.2,149.4 461.2,149.3 462.2,149.2 463.2,149.1 464.2,149 465.2,148.8 466.2,148.7 467.2,148.5 468.2,148.3 469.2,148.1 470.2,147.8 471.2,147.5 472.2,147.2 473.2,146.9 474.2,146.6 475.2,146.2 476.2,145.8 477.2,145.4 478.2,145 479.2,144.6 480.2,144.2 481.2,143.8 482.2,143.3 483.2,142.9 484.2,142.5 485.2,142.1 486.2,141.8 487.2,141.4 488.2,141.1 489.2,140.9 490.2,140.6 491.2,140.5 492.2,140.4 493.2,140.3 494.2,140.3 495.2,140.3 496.2,140.5 497.2,140.7 498.2,141 499.2,141.3 500.2,141.7 501.2,142.2 502.2,142.7 503.2,143.2 504.2,143.7 505.2,144.2 506.2,144.8 507.2,145.3 508.2,145.8 509.2,146.3 510.2,146.7 511.2,147.1 512.2,147.5 513.2,147.9 514.2,148.2 515.2,148.5 516.2,148.7 517.2,148.9 518.2,149.1 519.2,149.3 520.2,149.4 521.2,149.5 522.2,149.6 523.2,149.7 524.2,149.8 525.2,149.8 526.2,149.9 527.2,149.9 528.2,149.9" fill="none" stroke="#dca01c" stroke-width="1.5" stroke-linejoin="round" stroke-linecap="round"/><polyline points="441.2,149.7 442.2,149.7 443.2,149.7 444.2,149.7 445.2,149.7 446.2,149.7 447.2,149.7 448.2,149.7 449.2,149.7 450.2,149.7 451.2,149.7 452.2,149.7 453.2,149.7 454.2,149.7 455.2,149.7 456.2,149.7 457.2,149.7 458.2,149.6 459.2,149.6 460.2,149.6 461.2,149.6 462.2,149.6 463.2,149.6 464.2,149.6 465.2,149.6 466.2,149.6 467.2,149.6 468.2,149.5 469.2,149.5 470.2,149.5 471.2,149.5 472.2,149.5 473.2,149.4 474.2,149.4 475.2,149.3 476.2,149.3 477.2,149.2 478.2,149.1 479.2,149 480.2,148.8 481.2,148.6 482.2,148.4 483.2,148.1 484.2,147.7 485.2,147.3 486.2,146.7 487.2,146.1 488.2,145.3 489.2,144.5 490.2,143.5 491.2,142.4 492.2,141.1 493.2,139.8 494.2,138.4 495.2,136.9 496.2,135.4 497.2,133.9 498.2,132.4 499.2,131 500.2,129.7 501.2,128.7 502.2,127.8 503.2,127.3 504.2,127 505.2,127.2 506.2,127.8 507.2,129 508.2,130.6 509.2,132.5 510.2,134.5 511.2,136.6 512.2,138.6 513.2,140.5 514.2,142.2 515.2,143.7 516.2,145 517.2,146.1 518.2,147 519.2,147.6 520.2,148.2 521.2,148.6 522.2,148.9 523.2,149.1 524.2,149.3 525.2,149.4 526.2,149.5 527.2,149.6 528.2,149.6 529.2,149.7 530.2,149.7 531.2,149.7 532.2,149.8 533.2,149.8" fill="none" stroke="#f0403c" stroke-width="1.5" stroke-linejoin="round" stroke-linecap="round"/><polyline points="309.2,149.4 533.5,150.1" fill="none" stroke="#965272" stroke-width="1.3" stroke-linejoin="round" stroke-linecap="round"/><polyline points="309.2,147.6 310.2,147.5 311.2,147.5 312.2,147.4 313.2,147.4 314.2,147.3 315.2,147.3 316.2,147.2 317.2,147.2 318.2,147.2 319.2,147.1 320.2,147.1 321.2,147 322.2,147 323.2,146.9 324.2,146.9 325.2,146.8 326.2,146.8 327.2,146.8 328.2,146.7 329.2,146.7 330.2,146.7 331.2,146.6 332.2,146.6 333.2,146.6 334.2,146.6 335.2,146.5 336.2,146.5 337.2,146.5 338.2,146.5 339.2,146.5 340.2,146.5 341.2,146.4 342.2,146.4 343.2,146.4 344.2,146.4 345.2,146.4 346.2,146.4 347.2,146.4 348.2,146.4 349.2,146.4 350.2,146.4 351.2,146.5 352.2,146.5 353.2,146.5 354.2,146.5 355.2,146.5 356.2,146.5 357.2,146.5 358.2,146.5 359.2,146.4 360.2,146.4 361.2,146.4 362.2,146.3 363.2,146.2 364.2,146.1 365.2,146 366.2,145.9 367.2,145.7 368.2,145.5 369.2,145.3 370.2,145 371.2,144.7 372.2,144.4 373.2,144.1 374.2,143.7 375.2,143.2 376.2,142.7 377.2,142.2 378.2,141.6 379.2,141 380.2,140.3 381.2,139.6 382.2,138.9 383.2,138.3 384.2,137.7 385.2,137.2 386.2,136.8 387.2,136.7 388.2,136.7 389.2,137 390.2,137.4 391.2,138.1 392.2,138.9 393.2,139.9 394.2,140.9 395.2,142 396.2,143 397.2,144 398.2,144.9 399.2,145.7 400.2,146.3 401.2,146.9 402.2,147.4 403.2,147.8 404.2,148.1 405.2,148.3 406.2,148.5 407.2,148.6 408.2,148.7 409.2,148.8 410.2,148.9 411.2,149 412.2,149 413.2,149.1 414.2,149.1 415.2,149.1 416.2,149.2 417.2,149.2 418.2,149.2 419.2,149.2 420.2,149.3 421.2,149.3 422.2,149.3 423.2,149.3 424.2,149.3 425.2,149.3 426.2,149.4 427.2,149.4 428.2,149.4 429.2,149.4 430.2,149.4 431.2,149.4 432.2,149.4 433.2,149.4 434.2,149.4 435.2,149.3 436.2,149.3 437.2,149.3 438.2,149.2 439.2,149.1 440.2,149 441.2,148.9 442.2,148.8 443.2,148.6 444.2,148.5 445.2,148.3 446.2,148 447.2,147.8 448.2,147.5 449.2,147.2 450.2,146.8 451.2,146.5 452.2,146.1 453.2,145.7 454.2,145.2 455.2,144.8 456.2,144.4 457.2,144 458.2,143.6 459.2,143.2 460.2,142.9 461.2,142.6 462.2,142.3 463.2,142.1 464.2,141.9 465.2,141.7 466.2,141.6 467.2,141.6 468.2,141.5 469.2,141.5 470.2,141.5 471.2,141.6 472.2,141.6 473.2,141.6 474.2,141.6 475.2,141.6 476.2,141.5 477.2,141.4 478.2,141.3 479.2,141.1 480.2,140.8 481.2,140.5 482.2,140.1 483.2,139.6 484.2,139.1 485.2,138.4 486.2,137.7 487.2,136.8 488.2,135.9 489.2,134.9 490.2,133.8 491.2,132.5 492.2,131.3 493.2,129.9 494.2,128.5 495.2,127.1 496.2,125.8 497.2,124.5 498.2,123.3 499.2,122.3 500.2,121.4 501.2,120.8 502.2,120.5 503.2,120.4 504.2,120.7 505.2,121.4 506.2,122.6 507.2,124.3 508.2,126.4 509.2,128.7 510.2,131.2 511.2,133.7 512.2,136.1 513.2,138.3 514.2,140.4 515.2,142.1 516.2,143.7 517.2,145 518.2,146 519.2,146.9 520.2,147.5 521.2,148 522.2,148.4 523.2,148.7 524.2,149 525.2,149.1 526.2,149.3 527.2,149.4 528.2,149.5 529.2,149.5 530.2,149.6 531.2,149.6 532.2,149.7 533.2,149.7" fill="none" stroke="#9ea21e" stroke-width="1.6" stroke-linejoin="round" stroke-linecap="round"/><polyline points="309.2,179.4 310.2,180.6 311.2,180.5 312.2,179.9 313.2,179 314.2,179.1 315.2,179.5 316.2,179.2 317.2,179.5 318.2,180.1 319.2,180.9 320.2,178.4 321.2,179.8 322.2,178.4 323.2,178.6 324.2,180.5 325.2,179.8 326.2,180.8 327.2,179.5 328.2,178.3 329.2,179.3 330.2,179.9 331.2,180.9 332.2,181 333.2,179.6 334.2,179.4 335.2,178.6 336.2,180.1 337.2,178.9 338.2,178.8 339.2,178.4 340.2,178.4 341.2,180.3 342.2,178.8 343.2,181.1 344.2,178.7 345.2,180.9 346.2,178.9 347.2,178.6 348.2,180.6 349.2,179.3 350.2,180.7 351.2,179.2 352.2,178.9 353.2,181 354.2,180.8 355.2,181.3 356.2,181 357.2,179.2 358.2,180.8 359.2,181 360.2,180.4 361.2,181.7 362.2,179.9 363.2,181.9 364.2,181.2 365.2,179.2 366.2,179.2 367.2,181 368.2,181.4 369.2,179.2 370.2,179.7 371.2,180.8 372.2,179 373.2,180.7 374.2,179.4 375.2,177.8 376.2,178.3 377.2,178.4 378.2,177.5 379.2,177.5 380.2,175.4 381.2,176.4 382.2,174.4 383.2,174.3 384.2,173.4 385.2,171.9 386.2,171.1 387.2,171.6 388.2,171.7 389.2,171.1 390.2,170.7 391.2,170.4 392.2,170.5 393.2,174 394.2,174.4 395.2,175.9 396.2,175.8 397.2,177.7 398.2,179.9 399.2,180.4 400.2,180.6 401.2,180.5 402.2,181.5 403.2,183.2 404.2,182.2 405.2,183.3 406.2,183.3 407.2,184.3 408.2,184.1 409.2,182.8 410.2,182.1 411.2,182.9 412.2,183.4 413.2,183.9 414.2,184.6 415.2,184.8 416.2,182.5 417.2,184.8 418.2,184.8 419.2,185 420.2,184.2 421.2,183.4 422.2,185 423.2,184.9 424.2,184.6 425.2,185.3 426.2,183.8 427.2,183.1 428.2,184.4 429.2,185.1 430.2,183.5 431.2,185 432.2,185.6 433.2,183.6 434.2,184.7 435.2,184.9 436.2,184.4 437.2,183.6 438.2,183.8 439.2,185.2 440.2,185.3 441.2,184.4 442.2,183.3 443.2,185.3 444.2,185.2 445.2,183.6 446.2,184.5 447.2,185.3 448.2,185.2 449.2,184 450.2,183.8 451.2,183.9 452.2,182.6 453.2,182.4 454.2,182.1 455.2,183.3 456.2,182 457.2,182.3 458.2,181.5 459.2,181.5 460.2,180.2 461.2,179.6 462.2,182 463.2,180 464.2,179 465.2,180.3 466.2,180.6 467.2,178.7 468.2,179.8 469.2,179.1 470.2,179.5 471.2,178.1 472.2,178.1 473.2,180.8 474.2,180.5 475.2,179.4 476.2,179.6 477.2,178.6 478.2,180 479.2,178.9 480.2,180.1 481.2,179.4 482.2,179.3 483.2,179.3 484.2,176.9 485.2,175.8 486.2,175.7 487.2,175 488.2,174 489.2,173 490.2,173.5 491.2,173.3 492.2,171 493.2,171.1 494.2,169.7 495.2,166.1 496.2,166.3 497.2,164.4 498.2,162.4 499.2,163.5 500.2,160.5 501.2,160.4 502.2,159.9 503.2,160.3 504.2,159.4 505.2,158.7 506.2,159.4 507.2,159.7 508.2,163.6 509.2,165.7 510.2,165.8 511.2,167.7 512.2,170.8 513.2,173.5 514.2,177.2 515.2,179.2 516.2,180.8 517.2,180.1 518.2,183.5 519.2,184.3 520.2,184.9 521.2,186.5 522.2,184.4 523.2,185.1 524.2,187.1 525.2,187.8 526.2,187.3 527.2,186.3 528.2,187.3 529.2,187.9 530.2,186.1 531.2,186.8 532.2,186.7 533.2,186.4" fill="none" stroke="#555555" stroke-width="1.3" stroke-linejoin="round" stroke-linecap="round"/><polyline points="363.2,182.4 364.2,182.4 365.2,182.4 366.2,182.3 367.2,182.3 368.2,182.2 369.2,182.1 370.2,182 371.2,181.8 372.2,181.7 373.2,181.5 374.2,181.3 375.2,181.1 376.2,180.9 377.2,180.8 378.2,180.6 379.2,180.6 380.2,180.5 381.2,180.5 382.2,180.6 383.2,180.7 384.2,180.9 385.2,181.1 386.2,181.3 387.2,181.6 388.2,181.8 389.2,182.1 390.2,182.3 391.2,182.5 392.2,182.7 393.2,182.9 394.2,183.1 395.2,183.2 396.2,183.3 397.2,183.4 398.2,183.5 399.2,183.6" fill="none" stroke="#22bcc8" stroke-width="1.5" stroke-linejoin="round" stroke-linecap="round"/><polyline points="369.2,182.6 370.2,182.6 371.2,182.6 372.2,182.6 373.2,182.5 374.2,182.4 375.2,182.3 376.2,182 377.2,181.7 378.2,181.3 379.2,180.8 380.2,180.1 381.2,179.3 382.2,178.4 383.2,177.4 384.2,176.4 385.2,175.3 386.2,174.3 387.2,173.5 388.2,172.9 389.2,172.5 390.2,172.4 391.2,172.7 392.2,173.2 393.2,174 394.2,175 395.2,176.1 396.2,177.2 397.2,178.3 398.2,179.3 399.2,180.2 400.2,181 401.2,181.7 402.2,182.3 403.2,182.7 404.2,183 405.2,183.3 406.2,183.5 407.2,183.6 408.2,183.7 409.2,183.8 410.2,183.9 411.2,184" fill="none" stroke="#2f6fe0" stroke-width="1.5" stroke-linejoin="round" stroke-linecap="round"/><polyline points="441.2,184.9 442.2,184.9 443.2,184.9 444.2,184.9 445.2,184.8 446.2,184.8 447.2,184.7 448.2,184.7 449.2,184.6 450.2,184.5 451.2,184.3 452.2,184.2 453.2,184 454.2,183.8 455.2,183.6 456.2,183.4 457.2,183.1 458.2,182.9 459.2,182.7 460.2,182.5 461.2,182.3 462.2,182.2 463.2,182 464.2,182 465.2,181.9 466.2,181.9 467.2,182 468.2,182.1 469.2,182.3 470.2,182.5 471.2,182.7 472.2,183 473.2,183.2 474.2,183.5 475.2,183.8 476.2,184.1 477.2,184.4 478.2,184.7 479.2,184.9 480.2,185.1 481.2,185.3 482.2,185.5 483.2,185.7 484.2,185.9 485.2,186 486.2,186.1 487.2,186.2 488.2,186.3 489.2,186.4 490.2,186.4 491.2,186.5" fill="none" stroke="#22b877" stroke-width="1.5" stroke-linejoin="round" stroke-linecap="round"/><polyline points="419.2,184.2 420.2,184.3 421.2,184.3 422.2,184.3 423.2,184.3 424.2,184.4 425.2,184.4 426.2,184.4 427.2,184.4 428.2,184.5 429.2,184.5 430.2,184.5 431.2,184.6 432.2,184.6 433.2,184.6 434.2,184.6 435.2,184.7 436.2,184.7 437.2,184.7 438.2,184.7 439.2,184.8 440.2,184.8 441.2,184.8 442.2,184.8 443.2,184.8 444.2,184.8 445.2,184.9 446.2,184.9 447.2,184.9 448.2,184.9 449.2,184.9 450.2,184.9 451.2,184.9 452.2,184.9 453.2,184.9 454.2,184.9 455.2,184.8 456.2,184.8 457.2,184.8 458.2,184.7 459.2,184.7 460.2,184.6 461.2,184.5 462.2,184.5 463.2,184.4 464.2,184.3 465.2,184.1 466.2,184 467.2,183.9 468.2,183.7 469.2,183.5 470.2,183.4 471.2,183.2 472.2,183 473.2,182.8 474.2,182.5 475.2,182.3 476.2,182.1 477.2,181.8 478.2,181.6 479.2,181.3 480.2,181.1 481.2,180.9 482.2,180.6 483.2,180.4 484.2,180.2 485.2,180 486.2,179.9 487.2,179.7 488.2,179.6 489.2,179.5 490.2,179.5 491.2,179.4 492.2,179.5 493.2,179.6 494.2,179.7 495.2,180 496.2,180.3 497.2,180.6 498.2,181 499.2,181.4 500.2,181.9 501.2,182.3 502.2,182.8 503.2,183.2 504.2,183.6 505.2,184 506.2,184.4 507.2,184.7 508.2,185.1 509.2,185.4 510.2,185.6 511.2,185.9 512.2,186.1 513.2,186.3 514.2,186.5 515.2,186.6 516.2,186.7 517.2,186.9 518.2,187 519.2,187.1 520.2,187.1 521.2,187.2 522.2,187.3 523.2,187.3 524.2,187.4 525.2,187.5 526.2,187.5 527.2,187.6 528.2,187.6 529.2,187.6 530.2,187.7 531.2,187.7 532.2,187.8 533.2,187.8" fill="none" stroke="#dca01c" stroke-width="1.5" stroke-linejoin="round" stroke-linecap="round"/><polyline points="440.2,184.9 441.2,184.9 442.2,184.9 443.2,185 444.2,185 445.2,185 446.2,185.1 447.2,185.1 448.2,185.1 449.2,185.1 450.2,185.2 451.2,185.2 452.2,185.2 453.2,185.2 454.2,185.3 455.2,185.3 456.2,185.3 457.2,185.3 458.2,185.4 459.2,185.4 460.2,185.4 461.2,185.4 462.2,185.4 463.2,185.5 464.2,185.5 465.2,185.5 466.2,185.5 467.2,185.5 468.2,185.5 469.2,185.6 470.2,185.6 471.2,185.6 472.2,185.6 473.2,185.6 474.2,185.6 475.2,185.5 476.2,185.5 477.2,185.5 478.2,185.4 479.2,185.4 480.2,185.2 481.2,185.1 482.2,184.9 483.2,184.7 484.2,184.4 485.2,184 486.2,183.6 487.2,183 488.2,182.3 489.2,181.5 490.2,180.6 491.2,179.6 492.2,178.4 493.2,177.1 494.2,175.7 495.2,174.2 496.2,172.6 497.2,171 498.2,169.3 499.2,167.8 500.2,166.3 501.2,164.9 502.2,163.8 503.2,162.9 504.2,162.3 505.2,162.1 506.2,162.3 507.2,163.1 508.2,164.4 509.2,166.1 510.2,168.2 511.2,170.4 512.2,172.7 513.2,174.9 514.2,177 515.2,178.9 516.2,180.6 517.2,182 518.2,183.2 519.2,184.2 520.2,184.9 521.2,185.6 522.2,186 523.2,186.4 524.2,186.7 525.2,186.9 526.2,187 527.2,187.2 528.2,187.3 529.2,187.3 530.2,187.4 531.2,187.5 532.2,187.6 533.2,187.6" fill="none" stroke="#f0403c" stroke-width="1.5" stroke-linejoin="round" stroke-linecap="round"/><polyline points="309.2,180.8 533.5,188" fill="none" stroke="#965272" stroke-width="1.3" stroke-linejoin="round" stroke-linecap="round"/><polyline points="309.2,179.7 310.2,179.7 311.2,179.7 312.2,179.7 313.2,179.7 314.2,179.7 315.2,179.7 316.2,179.7 317.2,179.7 318.2,179.7 319.2,179.7 320.2,179.7 321.2,179.6 322.2,179.6 323.2,179.6 324.2,179.6 325.2,179.6 326.2,179.6 327.2,179.6 328.2,179.6 329.2,179.6 330.2,179.6 331.2,179.6 332.2,179.7 333.2,179.7 334.2,179.7 335.2,179.7 336.2,179.7 337.2,179.7 338.2,179.7 339.2,179.7 340.2,179.8 341.2,179.8 342.2,179.8 343.2,179.8 344.2,179.9 345.2,179.9 346.2,179.9 347.2,180 348.2,180 349.2,180 350.2,180.1 351.2,180.1 352.2,180.1 353.2,180.2 354.2,180.2 355.2,180.3 356.2,180.3 357.2,180.4 358.2,180.4 359.2,180.4 360.2,180.5 361.2,180.5 362.2,180.6 363.2,180.6 364.2,180.6 365.2,180.6 366.2,180.6 367.2,180.5 368.2,180.5 369.2,180.4 370.2,180.3 371.2,180.1 372.2,179.9 373.2,179.7 374.2,179.4 375.2,179.1 376.2,178.7 377.2,178.2 378.2,177.7 379.2,177 380.2,176.3 381.2,175.6 382.2,174.7 383.2,173.9 384.2,173 385.2,172.1 386.2,171.4 387.2,170.8 388.2,170.4 389.2,170.3 390.2,170.5 391.2,170.9 392.2,171.7 393.2,172.7 394.2,173.8 395.2,175 396.2,176.2 397.2,177.4 398.2,178.5 399.2,179.5 400.2,180.4 401.2,181.1 402.2,181.7 403.2,182.1 404.2,182.5 405.2,182.8 406.2,183 407.2,183.2 408.2,183.3 409.2,183.4 410.2,183.5 411.2,183.5 412.2,183.6 413.2,183.6 414.2,183.7 415.2,183.7 416.2,183.8 417.2,183.8 418.2,183.9 419.2,183.9 420.2,184 421.2,184 422.2,184 423.2,184.1 424.2,184.1 425.2,184.1 426.2,184.2 427.2,184.2 428.2,184.2 429.2,184.3 430.2,184.3 431.2,184.3 432.2,184.4 433.2,184.4 434.2,184.4 435.2,184.4 436.2,184.4 437.2,184.5 438.2,184.5 439.2,184.5 440.2,184.5 441.2,184.5 442.2,184.5 443.2,184.4 444.2,184.4 445.2,184.4 446.2,184.3 447.2,184.2 448.2,184.1 449.2,184 450.2,183.8 451.2,183.7 452.2,183.5 453.2,183.2 454.2,183 455.2,182.7 456.2,182.4 457.2,182.1 458.2,181.8 459.2,181.5 460.2,181.2 461.2,180.9 462.2,180.6 463.2,180.3 464.2,180.1 465.2,179.9 466.2,179.8 467.2,179.6 468.2,179.6 469.2,179.5 470.2,179.5 471.2,179.4 472.2,179.4 473.2,179.4 474.2,179.4 475.2,179.4 476.2,179.4 477.2,179.3 478.2,179.2 479.2,179.1 480.2,178.9 481.2,178.7 482.2,178.4 483.2,178 484.2,177.6 485.2,177.1 486.2,176.6 487.2,175.9 488.2,175.1 489.2,174.3 490.2,173.3 491.2,172.3 492.2,171.1 493.2,169.9 494.2,168.6 495.2,167.3 496.2,166 497.2,164.7 498.2,163.4 499.2,162.3 500.2,161.2 501.2,160.3 502.2,159.5 503.2,159.1 504.2,158.9 505.2,159 506.2,159.5 507.2,160.6 508.2,162.3 509.2,164.3 510.2,166.6 511.2,169 512.2,171.5 513.2,173.9 514.2,176.1 515.2,178.1 516.2,179.9 517.2,181.4 518.2,182.7 519.2,183.7 520.2,184.5 521.2,185.2 522.2,185.7 523.2,186.1 524.2,186.4 525.2,186.6 526.2,186.8 527.2,186.9 528.2,187 529.2,187.1 530.2,187.2 531.2,187.3 532.2,187.4 533.2,187.4" fill="none" stroke="#9ea21e" stroke-width="1.6" stroke-linejoin="round" stroke-linecap="round"/></g>
<g clip-path="url(#cp2)"><polyline points="37.9,275 38.9,274.8 39.9,274.8 40.9,274.8 41.9,275.1 42.9,274.6 43.9,275 44.9,274.6 45.9,274.5 46.9,275 47.9,274.5 48.9,274.8 49.9,274.7 50.9,274.6 51.9,274.1 52.9,274.1 53.9,273.8 54.9,274.2 55.9,274 56.9,273.8 57.9,273.6 58.9,273.4 59.9,273.6 60.9,273.3 61.9,273.3 62.9,273 63.9,273 64.9,272.9 65.9,273.3 66.9,273.2 67.9,273 68.9,273.5 69.9,273.3 70.9,273.4 71.9,273.4 72.9,273.5 73.9,274 74.9,273.8 75.9,273.8 76.9,274.1 77.9,274.1 78.9,274.6 79.9,274.2 80.9,274.8 81.9,274.3 82.9,274.9 83.9,274.8 84.9,274.6 85.9,274.7 86.9,274.7 87.9,274.7 88.9,274.6 89.9,274.7 90.9,275.1 91.9,275.1 92.9,275.1 93.9,274.5 94.9,274.6 95.9,275 96.9,274.4 97.9,274.8 98.9,274.5 99.9,274.9 100.9,274.3 101.9,274.7 102.9,274.4 103.9,274.2 104.9,274.1 105.9,274.5 106.9,274.3 107.9,274 108.9,274.1 109.9,274.3 110.9,273.8 111.9,273.9 112.9,273.6 113.9,273.5 114.9,273.8 115.9,273.7 116.9,273.3 117.9,273.1 118.9,273 119.9,273.2 120.9,273 121.9,272.8 122.9,272.6 123.9,272.8 124.9,272.7 125.9,272.6 126.9,272.4 127.9,272 128.9,271.8 129.9,272.1 130.9,271.7 131.9,271.8 132.9,271.2 133.9,271.5 134.9,271.1 135.9,271.2 136.9,271 137.9,270.6 138.9,270.2 139.9,270.5 140.9,270.1 141.9,270.1 142.9,269.6 143.9,269.3 144.9,269.5 145.9,269 146.9,268.6 147.9,268.5 148.9,268.4 149.9,267.8 150.9,267.9 151.9,267.6 152.9,267.3 153.9,266.8 154.9,266.9 155.9,266.6 156.9,266.4 157.9,265.7 158.9,265.6 159.9,265.1 160.9,265 161.9,264.2 162.9,264.3 163.9,264 164.9,263.3 165.9,263 166.9,262.6 167.9,262.2 168.9,261.4 169.9,261.6 170.9,260.7 171.9,260.3 172.9,259.8 173.9,259.4 174.9,259.3 175.9,258.4 176.9,257.9 177.9,257.8 178.9,257 179.9,256.5 180.9,256.3 181.9,255.9 182.9,255.4 183.9,255 184.9,254.2 185.9,254.2 186.9,253.7 187.9,252.9 188.9,252.5 189.9,252.3 190.9,252 191.9,251.5 192.9,251.2 193.9,251.1 194.9,250.8 195.9,250.9 196.9,251 197.9,250.5 198.9,250.8 199.9,250.9 200.9,250.6 201.9,251.1 202.9,251.4 203.9,251.3 204.9,251.5 205.9,252.1 206.9,252.2 207.9,252.5 208.9,253.3 209.9,253.6 210.9,253.9 211.9,254.4 212.9,255.1 213.9,255.8 214.9,256.9 215.9,257.5 216.9,258.4 217.9,259.2 218.9,260.1 219.9,260.5 220.9,261.6 221.9,262.8 222.9,263.6 223.9,264.1 224.9,265 225.9,266 226.9,266.6 227.9,267.5 228.9,267.9 229.9,268.8 230.9,269.5 231.9,269.9 232.9,270.5 233.9,271.5 234.9,271.9 235.9,272.5 236.9,272.7 237.9,273.2 238.9,273.6 239.9,273.9 240.9,273.7 241.9,274.3 242.9,274.3 243.9,274.7 244.9,274.7 245.9,275 246.9,275.4 247.9,275.3 248.9,275.2 249.9,275.4 250.9,275.5 251.9,275.8 252.9,275.5 253.9,275.6 254.9,275.8 255.9,275.6 256.9,275.9 257.9,276.1 258.9,275.9 259.9,275.8 260.9,275.9" fill="none" stroke="#555555" stroke-width="1.4" stroke-linejoin="round" stroke-linecap="round"/><polyline points="83.9,276.2 84.9,276.2 85.9,276.1 86.9,276.1 87.9,276.1 88.9,276.1 89.9,276.1 90.9,276.1 91.9,276 92.9,276 93.9,276 94.9,276 95.9,276 96.9,275.9 97.9,275.9 98.9,275.9 99.9,275.8 100.9,275.8 101.9,275.8 102.9,275.7 103.9,275.7 104.9,275.7 105.9,275.6 106.9,275.6 107.9,275.5 108.9,275.5 109.9,275.5 110.9,275.4 111.9,275.4 112.9,275.3 113.9,275.3 114.9,275.3 115.9,275.2 116.9,275.2 117.9,275.1 118.9,275.1 119.9,275 120.9,275 121.9,275 122.9,274.9 123.9,274.9 124.9,274.9 125.9,274.8 126.9,274.8 127.9,274.8 128.9,274.8 129.9,274.7 130.9,274.7 131.9,274.7 132.9,274.7 133.9,274.7 134.9,274.7 135.9,274.7 136.9,274.7 137.9,274.7 138.9,274.7 139.9,274.7 140.9,274.8 141.9,274.8 142.9,274.8 143.9,274.8 144.9,274.9 145.9,274.9 146.9,274.9 147.9,275 148.9,275 149.9,275 150.9,275.1 151.9,275.1 152.9,275.2 153.9,275.2 154.9,275.2 155.9,275.3 156.9,275.3 157.9,275.4 158.9,275.4 159.9,275.5 160.9,275.5 161.9,275.5 162.9,275.6 163.9,275.6 164.9,275.7 165.9,275.7 166.9,275.7 167.9,275.8 168.9,275.8 169.9,275.8 170.9,275.9 171.9,275.9 172.9,275.9 173.9,275.9 174.9,276 175.9,276 176.9,276 177.9,276 178.9,276.1 179.9,276.1 180.9,276.1 181.9,276.1 182.9,276.1 183.9,276.1 184.9,276.2 185.9,276.2 186.9,276.2" fill="none" stroke="#22b877" stroke-width="1.5" stroke-linejoin="round" stroke-linecap="round"/><polyline points="71.9,276.2 72.9,276.2 73.9,276.2 74.9,276.2 75.9,276.2 76.9,276.2 77.9,276.2 78.9,276.2 79.9,276.2 80.9,276.2 81.9,276.1 82.9,276.1 83.9,276.1 84.9,276.1 85.9,276.1 86.9,276.1 87.9,276.1 88.9,276.1 89.9,276.1 90.9,276.1 91.9,276.1 92.9,276.1 93.9,276.1 94.9,276.1 95.9,276 96.9,276 97.9,276 98.9,276 99.9,276 100.9,276 101.9,276 102.9,275.9 103.9,275.9 104.9,275.9 105.9,275.9 106.9,275.8 107.9,275.8 108.9,275.8 109.9,275.7 110.9,275.7 111.9,275.7 112.9,275.6 113.9,275.6 114.9,275.5 115.9,275.5 116.9,275.4 117.9,275.4 118.9,275.3 119.9,275.2 120.9,275.1 121.9,275.1 122.9,275 123.9,274.9 124.9,274.8 125.9,274.7 126.9,274.6 127.9,274.5 128.9,274.4 129.9,274.2 130.9,274.1 131.9,274 132.9,273.8 133.9,273.7 134.9,273.5 135.9,273.3 136.9,273.2 137.9,273 138.9,272.8 139.9,272.6 140.9,272.4 141.9,272.2 142.9,272 143.9,271.7 144.9,271.5 145.9,271.2 146.9,271 147.9,270.7 148.9,270.5 149.9,270.2 150.9,269.9 151.9,269.7 152.9,269.4 153.9,269.1 154.9,268.8 155.9,268.5 156.9,268.2 157.9,267.9 158.9,267.6 159.9,267.3 160.9,267 161.9,266.7 162.9,266.3 163.9,266 164.9,265.7 165.9,265.4 166.9,265.1 167.9,264.9 168.9,264.6 169.9,264.3 170.9,264 171.9,263.8 172.9,263.5 173.9,263.3 174.9,263 175.9,262.8 176.9,262.6 177.9,262.4 178.9,262.2 179.9,262 180.9,261.9 181.9,261.8 182.9,261.6 183.9,261.5 184.9,261.5 185.9,261.4 186.9,261.3 187.9,261.3 188.9,261.3 189.9,261.3 190.9,261.4 191.9,261.5 192.9,261.6 193.9,261.8 194.9,262 195.9,262.2 196.9,262.5 197.9,262.8 198.9,263.1 199.9,263.4 200.9,263.8 201.9,264.2 202.9,264.6 203.9,265 204.9,265.4 205.9,265.9 206.9,266.3 207.9,266.7 208.9,267.2 209.9,267.6 210.9,268.1 211.9,268.5 212.9,269 213.9,269.4 214.9,269.8 215.9,270.2 216.9,270.6 217.9,270.9 218.9,271.3 219.9,271.7 220.9,272 221.9,272.3 222.9,272.6 223.9,272.9 224.9,273.2 225.9,273.4 226.9,273.6 227.9,273.9 228.9,274.1 229.9,274.3 230.9,274.4 231.9,274.6 232.9,274.8 233.9,274.9 234.9,275 235.9,275.1 236.9,275.2 237.9,275.3 238.9,275.4 239.9,275.5 240.9,275.6 241.9,275.6 242.9,275.7 243.9,275.8 244.9,275.8 245.9,275.8 246.9,275.9 247.9,275.9 248.9,275.9 249.9,276 250.9,276 251.9,276 252.9,276 253.9,276.1 254.9,276.1 255.9,276.1 256.9,276.1 257.9,276.1 258.9,276.1 259.9,276.1 260.9,276.1" fill="none" stroke="#2f6fe0" stroke-width="1.5" stroke-linejoin="round" stroke-linecap="round"/><polyline points="130.9,276.2 131.9,276.2 132.9,276.2 133.9,276.2 134.9,276.2 135.9,276.2 136.9,276.1 137.9,276.1 138.9,276.1 139.9,276.1 140.9,276.1 141.9,276.1 142.9,276.1 143.9,276.1 144.9,276.1 145.9,276.1 146.9,276 147.9,276 148.9,276 149.9,276 150.9,275.9 151.9,275.9 152.9,275.9 153.9,275.8 154.9,275.8 155.9,275.7 156.9,275.7 157.9,275.6 158.9,275.5 159.9,275.5 160.9,275.4 161.9,275.3 162.9,275.2 163.9,275.1 164.9,274.9 165.9,274.8 166.9,274.7 167.9,274.5 168.9,274.3 169.9,274.2 170.9,274 171.9,273.8 172.9,273.5 173.9,273.3 174.9,273 175.9,272.8 176.9,272.5 177.9,272.2 178.9,271.9 179.9,271.5 180.9,271.2 181.9,270.8 182.9,270.5 183.9,270.1 184.9,269.7 185.9,269.3 186.9,268.9 187.9,268.5 188.9,268.1 189.9,267.7 190.9,267.3 191.9,266.8 192.9,266.4 193.9,266 194.9,265.6 195.9,265.3 196.9,264.9 197.9,264.5 198.9,264.2 199.9,263.9 200.9,263.6 201.9,263.3 202.9,263.1 203.9,262.9 204.9,262.7 205.9,262.5 206.9,262.4 207.9,262.3 208.9,262.3 209.9,262.3 210.9,262.4 211.9,262.5 212.9,262.7 213.9,263 214.9,263.3 215.9,263.6 216.9,264.1 217.9,264.5 218.9,265 219.9,265.5 220.9,266.1 221.9,266.6 222.9,267.2 223.9,267.8 224.9,268.4 225.9,268.9 226.9,269.5 227.9,270 228.9,270.5 229.9,271 230.9,271.5 231.9,272 232.9,272.4 233.9,272.8 234.9,273.1 235.9,273.5 236.9,273.8 237.9,274.1 238.9,274.3 239.9,274.6 240.9,274.8 241.9,275 242.9,275.1 243.9,275.3 244.9,275.4 245.9,275.5 246.9,275.6 247.9,275.7 248.9,275.8 249.9,275.8 250.9,275.9 251.9,275.9 252.9,276 253.9,276 254.9,276 255.9,276.1 256.9,276.1 257.9,276.1 258.9,276.1 259.9,276.1 260.9,276.1" fill="none" stroke="#f0403c" stroke-width="1.5" stroke-linejoin="round" stroke-linecap="round"/><polyline points="37.9,276.3 261.3,276.3" fill="none" stroke="#d8a024" stroke-width="1.5" stroke-linejoin="round" stroke-linecap="round"/><polyline points="37.9,275 38.9,275 39.9,275 40.9,275 41.9,275 42.9,274.9 43.9,274.9 44.9,274.8 45.9,274.8 46.9,274.7 47.9,274.6 48.9,274.6 49.9,274.5 50.9,274.4 51.9,274.3 52.9,274.2 53.9,274.1 54.9,273.9 55.9,273.8 56.9,273.7 57.9,273.6 58.9,273.5 59.9,273.4 60.9,273.3 61.9,273.3 62.9,273.2 63.9,273.2 64.9,273.2 65.9,273.2 66.9,273.2 67.9,273.3 68.9,273.3 69.9,273.4 70.9,273.5 71.9,273.6 72.9,273.7 73.9,273.8 74.9,273.9 75.9,274 76.9,274.1 77.9,274.2 78.9,274.3 79.9,274.4 80.9,274.5 81.9,274.6 82.9,274.6 83.9,274.7 84.9,274.7 85.9,274.8 86.9,274.8 87.9,274.8 88.9,274.8 89.9,274.8 90.9,274.8 91.9,274.8 92.9,274.8 93.9,274.8 94.9,274.8 95.9,274.7 96.9,274.7 97.9,274.7 98.9,274.6 99.9,274.6 100.9,274.6 101.9,274.5 102.9,274.5 103.9,274.4 104.9,274.4 105.9,274.3 106.9,274.2 107.9,274.2 108.9,274.1 109.9,274 110.9,274 111.9,273.9 112.9,273.8 113.9,273.7 114.9,273.6 115.9,273.5 116.9,273.5 117.9,273.4 118.9,273.3 119.9,273.1 120.9,273 121.9,272.9 122.9,272.8 123.9,272.7 124.9,272.6 125.9,272.5 126.9,272.3 127.9,272.2 128.9,272.1 129.9,271.9 130.9,271.8 131.9,271.6 132.9,271.5 133.9,271.3 134.9,271.2 135.9,271 136.9,270.8 137.9,270.6 138.9,270.5 139.9,270.3 140.9,270.1 141.9,269.9 142.9,269.7 143.9,269.5 144.9,269.3 145.9,269.1 146.9,268.8 147.9,268.6 148.9,268.4 149.9,268.1 150.9,267.9 151.9,267.6 152.9,267.3 153.9,267 154.9,266.7 155.9,266.4 156.9,266.1 157.9,265.8 158.9,265.5 159.9,265.2 160.9,264.8 161.9,264.5 162.9,264.1 163.9,263.7 164.9,263.3 165.9,263 166.9,262.6 167.9,262.2 168.9,261.7 169.9,261.3 170.9,260.9 171.9,260.4 172.9,260 173.9,259.5 174.9,259.1 175.9,258.6 176.9,258.2 177.9,257.7 178.9,257.2 179.9,256.8 180.9,256.3 181.9,255.8 182.9,255.4 183.9,254.9 184.9,254.4 185.9,254 186.9,253.6 187.9,253.1 188.9,252.7 189.9,252.3 190.9,252 191.9,251.7 192.9,251.4 193.9,251.2 194.9,251 195.9,250.9 196.9,250.8 197.9,250.7 198.9,250.7 199.9,250.7 200.9,250.8 201.9,251 202.9,251.1 203.9,251.3 204.9,251.6 205.9,251.9 206.9,252.2 207.9,252.6 208.9,253 209.9,253.5 210.9,254 211.9,254.5 212.9,255.2 213.9,255.8 214.9,256.6 215.9,257.4 216.9,258.2 217.9,259 218.9,259.9 219.9,260.7 220.9,261.6 221.9,262.5 222.9,263.4 223.9,264.2 224.9,265.1 225.9,265.9 226.9,266.7 227.9,267.5 228.9,268.2 229.9,268.9 230.9,269.5 231.9,270.1 232.9,270.7 233.9,271.3 234.9,271.8 235.9,272.2 236.9,272.6 237.9,273 238.9,273.4 239.9,273.7 240.9,274 241.9,274.2 242.9,274.4 243.9,274.6 244.9,274.8 245.9,275 246.9,275.1 247.9,275.2 248.9,275.3 249.9,275.4 250.9,275.5 251.9,275.6 252.9,275.6 253.9,275.7 254.9,275.7 255.9,275.8 256.9,275.8 257.9,275.8 258.9,275.9 259.9,275.9 260.9,275.9" fill="none" stroke="#1fbfc4" stroke-width="1.8" stroke-linejoin="round" stroke-linecap="round"/><polyline points="37.9,307.9 38.9,307.6 39.9,307.6 40.9,307.6 41.9,307.7 42.9,307.7 43.9,307.6 44.9,307.6 45.9,307.4 46.9,307.7 47.9,307.8 48.9,307.6 49.9,307.5 50.9,307.5 51.9,307.2 52.9,307.4 53.9,307.2 54.9,307.2 55.9,307.2 56.9,307 57.9,306.8 58.9,306.7 59.9,306.7 60.9,306.8 61.9,306.7 62.9,306.8 63.9,306.4 64.9,306.6 65.9,306.9 66.9,306.6 67.9,306.8 68.9,306.8 69.9,306.7 70.9,307.2 71.9,306.8 72.9,307.2 73.9,306.9 74.9,306.9 75.9,307.4 76.9,307.2 77.9,307.1 78.9,307.3 79.9,307.4 80.9,307.6 81.9,307.3 82.9,307.4 83.9,307.9 84.9,307.8 85.9,307.5 86.9,307.6 87.9,307.6 88.9,307.8 89.9,307.8 90.9,307.9 91.9,307.9 92.9,307.7 93.9,307.8 94.9,307.8 95.9,307.8 96.9,307.6 97.9,307.7 98.9,307.6 99.9,307.7 100.9,307.2 101.9,307.6 102.9,307.1 103.9,307.5 104.9,307.3 105.9,307.2 106.9,307.5 107.9,307.2 108.9,307 109.9,307.2 110.9,307.2 111.9,306.9 112.9,306.7 113.9,306.7 114.9,306.6 115.9,306.7 116.9,306.4 117.9,306.4 118.9,306.4 119.9,306.2 120.9,306 121.9,306.2 122.9,306.2 123.9,305.9 124.9,305.7 125.9,305.5 126.9,305.4 127.9,305.2 128.9,305.3 129.9,305.2 130.9,304.8 131.9,305.2 132.9,304.7 133.9,304.9 134.9,304.7 135.9,304.6 136.9,304 137.9,304 138.9,304.1 139.9,303.4 140.9,303.3 141.9,303.4 142.9,303.2 143.9,303.2 144.9,302.9 145.9,302.6 146.9,302.6 147.9,302.1 148.9,301.9 149.9,301.7 150.9,301.3 151.9,301 152.9,300.9 153.9,300.5 154.9,300.5 155.9,300 156.9,299.6 157.9,299 158.9,298.9 159.9,298.5 160.9,298.2 161.9,297.9 162.9,297.7 163.9,297.3 164.9,296.6 165.9,296.1 166.9,295.8 167.9,295.6 168.9,294.7 169.9,294.3 170.9,294 171.9,293.1 172.9,292.7 173.9,292.6 174.9,292 175.9,291.3 176.9,290.5 177.9,290.4 178.9,289.8 179.9,289.3 180.9,288.9 181.9,288.3 182.9,287.5 183.9,286.8 184.9,286.4 185.9,286.1 186.9,285.6 187.9,284.9 188.9,284.5 189.9,284.3 190.9,283.9 191.9,283.4 192.9,283.5 193.9,283 194.9,282.5 195.9,282.5 196.9,282.6 197.9,282.3 198.9,282.5 199.9,282.2 200.9,282.4 201.9,282.9 202.9,282.9 203.9,283.2 204.9,283.2 205.9,283.8 206.9,284.2 207.9,284.4 208.9,285.2 209.9,285.7 210.9,286.6 211.9,287.1 212.9,287.8 213.9,288.4 214.9,289.3 215.9,290.6 216.9,291.1 217.9,292 218.9,293 219.9,294.2 220.9,295.3 221.9,296.1 222.9,297.2 223.9,297.6 224.9,298.4 225.9,299.7 226.9,300.2 227.9,301.2 228.9,301.7 229.9,302.3 230.9,302.9 231.9,303.4 232.9,304.4 233.9,304.7 234.9,305 235.9,305.5 236.9,305.9 237.9,306 238.9,306.8 239.9,306.9 240.9,307.4 241.9,307.3 242.9,307.6 243.9,307.5 244.9,307.5 245.9,308.2 246.9,308.3 247.9,308 248.9,308.5 249.9,308.5 250.9,308.3 251.9,308.5 252.9,308.8 253.9,308.5 254.9,308.9 255.9,308.5 256.9,308.6 257.9,308.8 258.9,308.5 259.9,308.6 260.9,309" fill="none" stroke="#555555" stroke-width="1.4" stroke-linejoin="round" stroke-linecap="round"/><polyline points="84.9,309 85.9,309 86.9,309 87.9,308.9 88.9,308.9 89.9,308.9 90.9,308.9 91.9,308.9 92.9,308.9 93.9,308.8 94.9,308.8 95.9,308.8 96.9,308.8 97.9,308.8 98.9,308.7 99.9,308.7 100.9,308.7 101.9,308.6 102.9,308.6 103.9,308.6 104.9,308.5 105.9,308.5 106.9,308.5 107.9,308.4 108.9,308.4 109.9,308.4 110.9,308.3 111.9,308.3 112.9,308.3 113.9,308.2 114.9,308.2 115.9,308.1 116.9,308.1 117.9,308.1 118.9,308 119.9,308 120.9,308 121.9,307.9 122.9,307.9 123.9,307.9 124.9,307.8 125.9,307.8 126.9,307.8 127.9,307.8 128.9,307.8 129.9,307.7 130.9,307.7 131.9,307.7 132.9,307.7 133.9,307.7 134.9,307.7 135.9,307.7 136.9,307.7 137.9,307.7 138.9,307.7 139.9,307.7 140.9,307.8 141.9,307.8 142.9,307.8 143.9,307.8 144.9,307.8 145.9,307.9 146.9,307.9 147.9,307.9 148.9,308 149.9,308 150.9,308 151.9,308.1 152.9,308.1 153.9,308.1 154.9,308.2 155.9,308.2 156.9,308.3 157.9,308.3 158.9,308.3 159.9,308.4 160.9,308.4 161.9,308.4 162.9,308.5 163.9,308.5 164.9,308.5 165.9,308.6 166.9,308.6 167.9,308.6 168.9,308.7 169.9,308.7 170.9,308.7 171.9,308.7 172.9,308.8 173.9,308.8 174.9,308.8 175.9,308.8 176.9,308.9 177.9,308.9 178.9,308.9 179.9,308.9 180.9,308.9 181.9,308.9 182.9,309 183.9,309 184.9,309" fill="none" stroke="#22b877" stroke-width="1.5" stroke-linejoin="round" stroke-linecap="round"/><polyline points="77.9,309 78.9,309 79.9,309 80.9,309 81.9,309 82.9,309 83.9,309 84.9,309 85.9,308.9 86.9,308.9 87.9,308.9 88.9,308.9 89.9,308.9 90.9,308.9 91.9,308.9 92.9,308.9 93.9,308.9 94.9,308.9 95.9,308.9 96.9,308.9 97.9,308.9 98.9,308.8 99.9,308.8 100.9,308.8 101.9,308.8 102.9,308.8 103.9,308.8 104.9,308.7 105.9,308.7 106.9,308.7 107.9,308.7 108.9,308.7 109.9,308.6 110.9,308.6 111.9,308.6 112.9,308.5 113.9,308.5 114.9,308.4 115.9,308.4 116.9,308.3 117.9,308.3 118.9,308.2 119.9,308.2 120.9,308.1 121.9,308 122.9,308 123.9,307.9 124.9,307.8 125.9,307.7 126.9,307.6 127.9,307.5 128.9,307.4 129.9,307.3 130.9,307.2 131.9,307.1 132.9,307 133.9,306.8 134.9,306.7 135.9,306.6 136.9,306.4 137.9,306.3 138.9,306.1 139.9,305.9 140.9,305.7 141.9,305.6 142.9,305.4 143.9,305.2 144.9,305 145.9,304.7 146.9,304.5 147.9,304.3 148.9,304.1 149.9,303.8 150.9,303.6 151.9,303.3 152.9,303.1 153.9,302.8 154.9,302.6 155.9,302.3 156.9,302 157.9,301.7 158.9,301.5 159.9,301.2 160.9,300.9 161.9,300.6 162.9,300.4 163.9,300.1 164.9,299.8 165.9,299.5 166.9,299.3 167.9,299 168.9,298.7 169.9,298.5 170.9,298.2 171.9,298 172.9,297.7 173.9,297.5 174.9,297.3 175.9,297.1 176.9,296.9 177.9,296.7 178.9,296.5 179.9,296.3 180.9,296.2 181.9,296 182.9,295.9 183.9,295.8 184.9,295.7 185.9,295.6 186.9,295.6 187.9,295.5 188.9,295.5 189.9,295.5 190.9,295.5 191.9,295.6 192.9,295.6 193.9,295.8 194.9,295.9 195.9,296.1 196.9,296.3 197.9,296.6 198.9,296.8 199.9,297.1 200.9,297.4 201.9,297.8 202.9,298.1 203.9,298.5 204.9,298.9 205.9,299.2 206.9,299.6 207.9,300 208.9,300.4 209.9,300.8 210.9,301.2 211.9,301.7 212.9,302 213.9,302.4 214.9,302.8 215.9,303.2 216.9,303.6 217.9,303.9 218.9,304.2 219.9,304.6 220.9,304.9 221.9,305.2 222.9,305.5 223.9,305.7 224.9,306 225.9,306.2 226.9,306.5 227.9,306.7 228.9,306.9 229.9,307.1 230.9,307.2 231.9,307.4 232.9,307.6 233.9,307.7 234.9,307.8 235.9,307.9 236.9,308 237.9,308.1 238.9,308.2 239.9,308.3 240.9,308.4 241.9,308.4 242.9,308.5 243.9,308.6 244.9,308.6 245.9,308.6 246.9,308.7 247.9,308.7 248.9,308.8 249.9,308.8 250.9,308.8 251.9,308.8 252.9,308.8 253.9,308.9 254.9,308.9 255.9,308.9 256.9,308.9 257.9,308.9 258.9,308.9 259.9,308.9 260.9,308.9" fill="none" stroke="#2f6fe0" stroke-width="1.5" stroke-linejoin="round" stroke-linecap="round"/><polyline points="121.9,309 122.9,309 123.9,309 124.9,309 125.9,309 126.9,309 127.9,309 128.9,308.9 129.9,308.9 130.9,308.9 131.9,308.9 132.9,308.9 133.9,308.9 134.9,308.9 135.9,308.9 136.9,308.9 137.9,308.9 138.9,308.9 139.9,308.8 140.9,308.8 141.9,308.8 142.9,308.8 143.9,308.7 144.9,308.7 145.9,308.7 146.9,308.6 147.9,308.6 148.9,308.6 149.9,308.5 150.9,308.5 151.9,308.4 152.9,308.3 153.9,308.3 154.9,308.2 155.9,308.1 156.9,308 157.9,307.9 158.9,307.8 159.9,307.7 160.9,307.5 161.9,307.4 162.9,307.2 163.9,307 164.9,306.9 165.9,306.7 166.9,306.5 167.9,306.2 168.9,306 169.9,305.7 170.9,305.5 171.9,305.2 172.9,304.9 173.9,304.6 174.9,304.2 175.9,303.9 176.9,303.6 177.9,303.2 178.9,302.8 179.9,302.4 180.9,302 181.9,301.6 182.9,301.2 183.9,300.8 184.9,300.3 185.9,299.9 186.9,299.5 187.9,299 188.9,298.6 189.9,298.2 190.9,297.8 191.9,297.4 192.9,297 193.9,296.6 194.9,296.2 195.9,295.9 196.9,295.5 197.9,295.2 198.9,294.9 199.9,294.7 200.9,294.5 201.9,294.3 202.9,294.1 203.9,294 204.9,293.9 205.9,293.8 206.9,293.8 207.9,293.8 208.9,293.9 209.9,294.1 210.9,294.4 211.9,294.7 212.9,295.1 213.9,295.5 214.9,296 215.9,296.5 216.9,297 217.9,297.6 218.9,298.2 219.9,298.9 220.9,299.5 221.9,300.1 222.9,300.7 223.9,301.3 224.9,301.9 225.9,302.5 226.9,303.1 227.9,303.6 228.9,304.1 229.9,304.6 230.9,305 231.9,305.5 232.9,305.8 233.9,306.2 234.9,306.5 235.9,306.8 236.9,307.1 237.9,307.3 238.9,307.5 239.9,307.7 240.9,307.9 241.9,308 242.9,308.2 243.9,308.3 244.9,308.4 245.9,308.5 246.9,308.6 247.9,308.6 248.9,308.7 249.9,308.7 250.9,308.8 251.9,308.8 252.9,308.8 253.9,308.8 254.9,308.9 255.9,308.9 256.9,308.9 257.9,308.9 258.9,308.9 259.9,308.9 260.9,308.9" fill="none" stroke="#f0403c" stroke-width="1.5" stroke-linejoin="round" stroke-linecap="round"/><polyline points="37.9,309.1 261.3,309.1" fill="none" stroke="#d8a024" stroke-width="1.5" stroke-linejoin="round" stroke-linecap="round"/><polyline points="37.9,307.9 38.9,307.9 39.9,307.8 40.9,307.8 41.9,307.8 42.9,307.8 43.9,307.8 44.9,307.7 45.9,307.7 46.9,307.7 47.9,307.6 48.9,307.6 49.9,307.5 50.9,307.4 51.9,307.4 52.9,307.3 53.9,307.2 54.9,307.2 55.9,307.1 56.9,307 57.9,307 58.9,306.9 59.9,306.8 60.9,306.8 61.9,306.7 62.9,306.7 63.9,306.7 64.9,306.7 65.9,306.7 66.9,306.7 67.9,306.7 68.9,306.8 69.9,306.8 70.9,306.9 71.9,306.9 72.9,307 73.9,307.1 74.9,307.1 75.9,307.2 76.9,307.3 77.9,307.3 78.9,307.4 79.9,307.5 80.9,307.5 81.9,307.6 82.9,307.6 83.9,307.6 84.9,307.6 85.9,307.7 86.9,307.7 87.9,307.7 88.9,307.7 89.9,307.7 90.9,307.7 91.9,307.7 92.9,307.7 93.9,307.6 94.9,307.6 95.9,307.6 96.9,307.6 97.9,307.6 98.9,307.5 99.9,307.5 100.9,307.5 101.9,307.4 102.9,307.4 103.9,307.3 104.9,307.3 105.9,307.2 106.9,307.2 107.9,307.1 108.9,307.1 109.9,307 110.9,306.9 111.9,306.9 112.9,306.8 113.9,306.7 114.9,306.7 115.9,306.6 116.9,306.5 117.9,306.4 118.9,306.3 119.9,306.2 120.9,306.2 121.9,306.1 122.9,306 123.9,305.9 124.9,305.7 125.9,305.6 126.9,305.5 127.9,305.4 128.9,305.3 129.9,305.2 130.9,305 131.9,304.9 132.9,304.8 133.9,304.6 134.9,304.5 135.9,304.4 136.9,304.2 137.9,304 138.9,303.9 139.9,303.7 140.9,303.5 141.9,303.4 142.9,303.2 143.9,303 144.9,302.8 145.9,302.6 146.9,302.3 147.9,302.1 148.9,301.9 149.9,301.6 150.9,301.4 151.9,301.1 152.9,300.8 153.9,300.5 154.9,300.2 155.9,299.9 156.9,299.6 157.9,299.3 158.9,298.9 159.9,298.6 160.9,298.2 161.9,297.8 162.9,297.4 163.9,297 164.9,296.6 165.9,296.2 166.9,295.7 167.9,295.3 168.9,294.8 169.9,294.3 170.9,293.8 171.9,293.3 172.9,292.8 173.9,292.3 174.9,291.8 175.9,291.3 176.9,290.7 177.9,290.2 178.9,289.7 179.9,289.1 180.9,288.6 181.9,288.1 182.9,287.6 183.9,287 184.9,286.5 185.9,286 186.9,285.6 187.9,285.1 188.9,284.7 189.9,284.2 190.9,283.8 191.9,283.5 192.9,283.2 193.9,282.9 194.9,282.7 195.9,282.6 196.9,282.5 197.9,282.4 198.9,282.4 199.9,282.4 200.9,282.5 201.9,282.7 202.9,282.9 203.9,283.1 204.9,283.4 205.9,283.8 206.9,284.1 207.9,284.6 208.9,285.1 209.9,285.7 210.9,286.3 211.9,287 212.9,287.8 213.9,288.7 214.9,289.5 215.9,290.4 216.9,291.3 217.9,292.3 218.9,293.2 219.9,294.2 220.9,295.1 221.9,296.1 222.9,297 223.9,297.9 224.9,298.7 225.9,299.5 226.9,300.3 227.9,301.1 228.9,301.8 229.9,302.5 230.9,303.1 231.9,303.7 232.9,304.2 233.9,304.7 234.9,305.1 235.9,305.5 236.9,305.9 237.9,306.3 238.9,306.6 239.9,306.8 240.9,307.1 241.9,307.3 242.9,307.5 243.9,307.7 244.9,307.8 245.9,307.9 246.9,308.1 247.9,308.2 248.9,308.2 249.9,308.3 250.9,308.4 251.9,308.4 252.9,308.5 253.9,308.5 254.9,308.6 255.9,308.6 256.9,308.6 257.9,308.7 258.9,308.7 259.9,308.7 260.9,308.7" fill="none" stroke="#1fbfc4" stroke-width="1.8" stroke-linejoin="round" stroke-linecap="round"/><polyline points="37.9,340 38.9,340.1 39.9,339.8 40.9,339.7 41.9,339.8 42.9,339.7 43.9,340.2 44.9,339.7 45.9,339.9 46.9,339.6 47.9,339.8 48.9,339.6 49.9,339.6 50.9,339.4 51.9,339.3 52.9,339.7 53.9,339.4 54.9,339.2 55.9,339.1 56.9,339.1 57.9,339.1 58.9,338.9 59.9,339.2 60.9,339 61.9,338.8 62.9,339.1 63.9,338.8 64.9,338.9 65.9,339.2 66.9,338.8 67.9,339 68.9,339.3 69.9,339.3 70.9,338.9 71.9,339.1 72.9,339.4 73.9,339.2 74.9,339.6 75.9,339.2 76.9,339.8 77.9,339.5 78.9,339.4 79.9,339.6 80.9,339.4 81.9,339.8 82.9,339.6 83.9,340 84.9,339.8 85.9,339.7 86.9,339.7 87.9,339.9 88.9,339.6 89.9,340 90.9,339.6 91.9,339.8 92.9,339.8 93.9,339.6 94.9,339.9 95.9,339.6 96.9,339.8 97.9,339.7 98.9,339.5 99.9,339.5 100.9,339.3 101.9,339.3 102.9,339.7 103.9,339.3 104.9,339.5 105.9,339.1 106.9,339.3 107.9,339.1 108.9,339.1 109.9,339 110.9,338.8 111.9,338.8 112.9,338.7 113.9,338.6 114.9,338.9 115.9,338.5 116.9,338.5 117.9,338.7 118.9,338.5 119.9,338.5 120.9,338.4 121.9,337.9 122.9,337.9 123.9,337.6 124.9,337.9 125.9,337.8 126.9,337.5 127.9,337.4 128.9,337.4 129.9,337.3 130.9,336.9 131.9,337.1 132.9,336.7 133.9,336.7 134.9,336.3 135.9,336.1 136.9,336.4 137.9,336.2 138.9,336 139.9,335.4 140.9,335.2 141.9,335.1 142.9,335 143.9,334.8 144.9,334.7 145.9,334.3 146.9,334.2 147.9,334.2 148.9,333.7 149.9,333.8 150.9,333.4 151.9,333.2 152.9,332.7 153.9,332.5 154.9,332.4 155.9,331.9 156.9,331.4 157.9,331.6 158.9,331.2 159.9,330.6 160.9,330.1 161.9,330.2 162.9,329.7 163.9,328.9 164.9,328.7 165.9,328.2 166.9,328.2 167.9,327.4 168.9,327.4 169.9,326.8 170.9,326 171.9,325.9 172.9,325.2 173.9,325 174.9,324.6 175.9,323.7 176.9,323.1 177.9,323.2 178.9,322.4 179.9,322.2 180.9,321.6 181.9,321.1 182.9,320.7 183.9,320.1 184.9,319.6 185.9,318.9 186.9,318.9 187.9,318.3 188.9,317.9 189.9,317.9 190.9,317.1 191.9,317.2 192.9,316.5 193.9,316.8 194.9,316.7 195.9,316.3 196.9,316.4 197.9,316.6 198.9,316.5 199.9,316.5 200.9,316.5 201.9,316.5 202.9,316.9 203.9,317.2 204.9,317.4 205.9,317.8 206.9,318.1 207.9,318.9 208.9,319.4 209.9,319.7 210.9,320.4 211.9,321.2 212.9,321.9 213.9,323 214.9,323.5 215.9,324.3 216.9,325.5 217.9,325.9 218.9,327.1 219.9,327.8 220.9,329 221.9,329.7 222.9,330.6 223.9,331.1 224.9,332.2 225.9,332.9 226.9,333.5 227.9,334.4 228.9,335 229.9,335.2 230.9,335.8 231.9,336.4 232.9,336.8 233.9,337.1 234.9,337.7 235.9,338 236.9,338.6 237.9,338.7 238.9,338.8 239.9,339.2 240.9,339.5 241.9,339.6 242.9,339.6 243.9,339.7 244.9,339.8 245.9,340.5 246.9,340.5 247.9,340.1 248.9,340.6 249.9,340.8 250.9,340.6 251.9,340.4 252.9,340.7 253.9,340.7 254.9,340.6 255.9,340.8 256.9,340.5 257.9,341.1 258.9,340.9 259.9,340.9 260.9,341.1" fill="none" stroke="#555555" stroke-width="1.4" stroke-linejoin="round" stroke-linecap="round"/><polyline points="84.9,341.1 85.9,341.1 86.9,341.1 87.9,341 88.9,341 89.9,341 90.9,341 91.9,341 92.9,341 93.9,340.9 94.9,340.9 95.9,340.9 96.9,340.9 97.9,340.9 98.9,340.8 99.9,340.8 100.9,340.8 101.9,340.7 102.9,340.7 103.9,340.7 104.9,340.6 105.9,340.6 106.9,340.6 107.9,340.5 108.9,340.5 109.9,340.5 110.9,340.4 111.9,340.4 112.9,340.4 113.9,340.3 114.9,340.3 115.9,340.2 116.9,340.2 117.9,340.2 118.9,340.1 119.9,340.1 120.9,340.1 121.9,340 122.9,340 123.9,340 124.9,339.9 125.9,339.9 126.9,339.9 127.9,339.9 128.9,339.9 129.9,339.8 130.9,339.8 131.9,339.8 132.9,339.8 133.9,339.8 134.9,339.8 135.9,339.8 136.9,339.8 137.9,339.8 138.9,339.8 139.9,339.8 140.9,339.9 141.9,339.9 142.9,339.9 143.9,339.9 144.9,339.9 145.9,340 146.9,340 147.9,340 148.9,340.1 149.9,340.1 150.9,340.1 151.9,340.2 152.9,340.2 153.9,340.2 154.9,340.3 155.9,340.3 156.9,340.4 157.9,340.4 158.9,340.4 159.9,340.5 160.9,340.5 161.9,340.5 162.9,340.6 163.9,340.6 164.9,340.6 165.9,340.7 166.9,340.7 167.9,340.7 168.9,340.8 169.9,340.8 170.9,340.8 171.9,340.8 172.9,340.9 173.9,340.9 174.9,340.9 175.9,340.9 176.9,341 177.9,341 178.9,341 179.9,341 180.9,341 181.9,341 182.9,341.1 183.9,341.1 184.9,341.1" fill="none" stroke="#22b877" stroke-width="1.5" stroke-linejoin="round" stroke-linecap="round"/><polyline points="78.9,341.1 79.9,341.1 80.9,341.1 81.9,341.1 82.9,341.1 83.9,341.1 84.9,341.1 85.9,341 86.9,341 87.9,341 88.9,341 89.9,341 90.9,341 91.9,341 92.9,341 93.9,341 94.9,341 95.9,341 96.9,341 97.9,340.9 98.9,340.9 99.9,340.9 100.9,340.9 101.9,340.9 102.9,340.9 103.9,340.8 104.9,340.8 105.9,340.8 106.9,340.8 107.9,340.8 108.9,340.7 109.9,340.7 110.9,340.7 111.9,340.6 112.9,340.6 113.9,340.5 114.9,340.5 115.9,340.4 116.9,340.4 117.9,340.3 118.9,340.3 119.9,340.2 120.9,340.2 121.9,340.1 122.9,340 123.9,339.9 124.9,339.8 125.9,339.8 126.9,339.7 127.9,339.6 128.9,339.4 129.9,339.3 130.9,339.2 131.9,339.1 132.9,339 133.9,338.8 134.9,338.7 135.9,338.5 136.9,338.4 137.9,338.2 138.9,338.1 139.9,337.9 140.9,337.7 141.9,337.5 142.9,337.3 143.9,337.1 144.9,336.9 145.9,336.7 146.9,336.5 147.9,336.3 148.9,336 149.9,335.8 150.9,335.6 151.9,335.3 152.9,335.1 153.9,334.8 154.9,334.6 155.9,334.3 156.9,334.1 157.9,333.8 158.9,333.6 159.9,333.3 160.9,333 161.9,332.8 162.9,332.5 163.9,332.3 164.9,332 165.9,331.8 166.9,331.5 167.9,331.3 168.9,331 169.9,330.8 170.9,330.6 171.9,330.4 172.9,330.2 173.9,330 174.9,329.8 175.9,329.6 176.9,329.4 177.9,329.3 178.9,329.1 179.9,329 180.9,328.9 181.9,328.8 182.9,328.7 183.9,328.6 184.9,328.6 185.9,328.5 186.9,328.5 187.9,328.5 188.9,328.5 189.9,328.6 190.9,328.6 191.9,328.7 192.9,328.9 193.9,329.1 194.9,329.3 195.9,329.5 196.9,329.7 197.9,330 198.9,330.3 199.9,330.6 200.9,330.9 201.9,331.3 202.9,331.6 203.9,332 204.9,332.4 205.9,332.7 206.9,333.1 207.9,333.5 208.9,333.9 209.9,334.2 210.9,334.6 211.9,335 212.9,335.3 213.9,335.7 214.9,336 215.9,336.4 216.9,336.7 217.9,337 218.9,337.3 219.9,337.5 220.9,337.8 221.9,338.1 222.9,338.3 223.9,338.5 224.9,338.7 225.9,338.9 226.9,339.1 227.9,339.3 228.9,339.5 229.9,339.6 230.9,339.8 231.9,339.9 232.9,340 233.9,340.1 234.9,340.2 235.9,340.3 236.9,340.4 237.9,340.5 238.9,340.5 239.9,340.6 240.9,340.6 241.9,340.7 242.9,340.7 243.9,340.8 244.9,340.8 245.9,340.8 246.9,340.9 247.9,340.9 248.9,340.9 249.9,340.9 250.9,341 251.9,341 252.9,341 253.9,341 254.9,341 255.9,341 256.9,341 257.9,341 258.9,341.1 259.9,341.1 260.9,341.1" fill="none" stroke="#2f6fe0" stroke-width="1.5" stroke-linejoin="round" stroke-linecap="round"/><polyline points="122.9,341.1 123.9,341.1 124.9,341.1 125.9,341.1 126.9,341.1 127.9,341.1 128.9,341.1 129.9,341 130.9,341 131.9,341 132.9,341 133.9,341 134.9,341 135.9,341 136.9,341 137.9,341 138.9,341 139.9,340.9 140.9,340.9 141.9,340.9 142.9,340.9 143.9,340.8 144.9,340.8 145.9,340.8 146.9,340.8 147.9,340.7 148.9,340.7 149.9,340.6 150.9,340.6 151.9,340.5 152.9,340.4 153.9,340.4 154.9,340.3 155.9,340.2 156.9,340.1 157.9,340 158.9,339.9 159.9,339.8 160.9,339.6 161.9,339.5 162.9,339.3 163.9,339.2 164.9,339 165.9,338.8 166.9,338.6 167.9,338.3 168.9,338.1 169.9,337.9 170.9,337.6 171.9,337.3 172.9,337 173.9,336.7 174.9,336.4 175.9,336.1 176.9,335.7 177.9,335.4 178.9,335 179.9,334.6 180.9,334.2 181.9,333.8 182.9,333.4 183.9,333 184.9,332.6 185.9,332.2 186.9,331.8 187.9,331.4 188.9,331 189.9,330.6 190.9,330.2 191.9,329.8 192.9,329.4 193.9,329.1 194.9,328.7 195.9,328.4 196.9,328.1 197.9,327.8 198.9,327.6 199.9,327.3 200.9,327.1 201.9,327 202.9,326.8 203.9,326.7 204.9,326.6 205.9,326.6 206.9,326.6 207.9,326.7 208.9,326.8 209.9,327 210.9,327.3 211.9,327.6 212.9,328 213.9,328.4 214.9,328.9 215.9,329.4 216.9,330 217.9,330.5 218.9,331.1 219.9,331.7 220.9,332.3 221.9,332.9 222.9,333.5 223.9,334.1 224.9,334.7 225.9,335.2 226.9,335.7 227.9,336.2 228.9,336.7 229.9,337.1 230.9,337.5 231.9,337.9 232.9,338.3 233.9,338.6 234.9,338.9 235.9,339.1 236.9,339.4 237.9,339.6 238.9,339.8 239.9,340 240.9,340.1 241.9,340.3 242.9,340.4 243.9,340.5 244.9,340.6 245.9,340.6 246.9,340.7 247.9,340.8 248.9,340.8 249.9,340.9 250.9,340.9 251.9,340.9 252.9,340.9 253.9,341 254.9,341 255.9,341 256.9,341 257.9,341 258.9,341 259.9,341 260.9,341.1" fill="none" stroke="#f0403c" stroke-width="1.5" stroke-linejoin="round" stroke-linecap="round"/><polyline points="37.9,341.2 261.3,341.2" fill="none" stroke="#d8a024" stroke-width="1.5" stroke-linejoin="round" stroke-linecap="round"/><polyline points="37.9,340 38.9,340 39.9,340 40.9,339.9 41.9,339.9 42.9,339.9 43.9,339.9 44.9,339.9 45.9,339.8 46.9,339.8 47.9,339.8 48.9,339.7 49.9,339.7 50.9,339.6 51.9,339.6 52.9,339.5 53.9,339.4 54.9,339.4 55.9,339.3 56.9,339.3 57.9,339.2 58.9,339.2 59.9,339.1 60.9,339.1 61.9,339 62.9,339 63.9,339 64.9,339 65.9,339 66.9,339 67.9,339 68.9,339.1 69.9,339.1 70.9,339.1 71.9,339.2 72.9,339.3 73.9,339.3 74.9,339.4 75.9,339.4 76.9,339.5 77.9,339.5 78.9,339.6 79.9,339.6 80.9,339.7 81.9,339.7 82.9,339.7 83.9,339.8 84.9,339.8 85.9,339.8 86.9,339.8 87.9,339.8 88.9,339.8 89.9,339.8 90.9,339.8 91.9,339.8 92.9,339.8 93.9,339.8 94.9,339.7 95.9,339.7 96.9,339.7 97.9,339.6 98.9,339.6 99.9,339.6 100.9,339.5 101.9,339.5 102.9,339.5 103.9,339.4 104.9,339.4 105.9,339.3 106.9,339.3 107.9,339.2 108.9,339.1 109.9,339.1 110.9,339 111.9,338.9 112.9,338.9 113.9,338.8 114.9,338.7 115.9,338.6 116.9,338.6 117.9,338.5 118.9,338.4 119.9,338.3 120.9,338.2 121.9,338.1 122.9,338 123.9,337.9 124.9,337.8 125.9,337.7 126.9,337.5 127.9,337.4 128.9,337.3 129.9,337.2 130.9,337 131.9,336.9 132.9,336.8 133.9,336.6 134.9,336.5 135.9,336.3 136.9,336.2 137.9,336 138.9,335.9 139.9,335.7 140.9,335.5 141.9,335.3 142.9,335.1 143.9,334.9 144.9,334.7 145.9,334.5 146.9,334.3 147.9,334.1 148.9,333.9 149.9,333.6 150.9,333.4 151.9,333.1 152.9,332.8 153.9,332.6 154.9,332.3 155.9,332 156.9,331.7 157.9,331.4 158.9,331 159.9,330.7 160.9,330.3 161.9,330 162.9,329.6 163.9,329.2 164.9,328.8 165.9,328.4 166.9,328 167.9,327.6 168.9,327.1 169.9,326.7 170.9,326.2 171.9,325.8 172.9,325.3 173.9,324.8 174.9,324.4 175.9,323.9 176.9,323.4 177.9,322.9 178.9,322.4 179.9,321.9 180.9,321.5 181.9,321 182.9,320.5 183.9,320 184.9,319.6 185.9,319.2 186.9,318.7 187.9,318.3 188.9,317.9 189.9,317.6 190.9,317.3 191.9,317 192.9,316.8 193.9,316.6 194.9,316.5 195.9,316.4 196.9,316.4 197.9,316.4 198.9,316.4 199.9,316.5 200.9,316.6 201.9,316.8 202.9,317 203.9,317.3 204.9,317.6 205.9,317.9 206.9,318.3 207.9,318.8 208.9,319.3 209.9,319.9 210.9,320.5 211.9,321.2 212.9,322 213.9,322.7 214.9,323.6 215.9,324.4 216.9,325.3 217.9,326.2 218.9,327 219.9,327.9 220.9,328.8 221.9,329.6 222.9,330.5 223.9,331.3 224.9,332.1 225.9,332.8 226.9,333.5 227.9,334.2 228.9,334.8 229.9,335.4 230.9,336 231.9,336.5 232.9,337 233.9,337.4 234.9,337.8 235.9,338.1 236.9,338.5 237.9,338.8 238.9,339 239.9,339.3 240.9,339.5 241.9,339.7 242.9,339.8 243.9,340 244.9,340.1 245.9,340.2 246.9,340.3 247.9,340.4 248.9,340.5 249.9,340.5 250.9,340.6 251.9,340.6 252.9,340.7 253.9,340.7 254.9,340.7 255.9,340.8 256.9,340.8 257.9,340.8 258.9,340.8 259.9,340.9 260.9,340.9" fill="none" stroke="#1fbfc4" stroke-width="1.8" stroke-linejoin="round" stroke-linecap="round"/><polyline points="37.9,374.2 38.9,373.9 39.9,373.9 40.9,373.8 41.9,373.7 42.9,374.2 43.9,374.2 44.9,373.8 45.9,373.7 46.9,373.9 47.9,374 48.9,374 49.9,373.4 50.9,373.7 51.9,373.7 52.9,373.5 53.9,373.1 54.9,372.9 55.9,373.2 56.9,372.8 57.9,372.7 58.9,372.7 59.9,372.5 60.9,372.6 61.9,372.2 62.9,372 63.9,372.2 64.9,372.2 65.9,372.3 66.9,372.2 67.9,372.3 68.9,372.4 69.9,372.2 70.9,372.2 71.9,372.1 72.9,372.3 73.9,372.6 74.9,372.4 75.9,372.9 76.9,372.7 77.9,372.9 78.9,373.4 79.9,373 80.9,373 81.9,373.4 82.9,373.3 83.9,373.7 84.9,373.3 85.9,373.9 86.9,373.9 87.9,373.9 88.9,373.8 89.9,373.7 90.9,373.9 91.9,373.8 92.9,373.8 93.9,373.7 94.9,373.8 95.9,373.9 96.9,374 97.9,374 98.9,373.5 99.9,373.6 100.9,373.6 101.9,373.7 102.9,373.5 103.9,373.4 104.9,373.3 105.9,373.4 106.9,373.4 107.9,373.6 108.9,373.5 109.9,373.5 110.9,373.5 111.9,373.4 112.9,373.1 113.9,373.2 114.9,372.6 115.9,372.9 116.9,372.8 117.9,372.6 118.9,372.6 119.9,372.8 120.9,372.4 121.9,372.4 122.9,372.1 123.9,372.1 124.9,372.3 125.9,371.7 126.9,371.7 127.9,371.9 128.9,371.6 129.9,371.3 130.9,371.5 131.9,371.2 132.9,371.2 133.9,371 134.9,371 135.9,370.8 136.9,370.6 137.9,370.3 138.9,370.2 139.9,370.5 140.9,370.1 141.9,369.7 142.9,370 143.9,369.5 144.9,369.2 145.9,369.3 146.9,368.9 147.9,368.9 148.9,368.7 149.9,368.3 150.9,368.3 151.9,367.8 152.9,367.8 153.9,367.5 154.9,367 155.9,366.9 156.9,366.4 157.9,366.3 158.9,366.3 159.9,365.8 160.9,365.5 161.9,365.2 162.9,364.5 163.9,364.6 164.9,364.1 165.9,363.3 166.9,363.3 167.9,362.7 168.9,362.1 169.9,362.1 170.9,361.4 171.9,361.1 172.9,360.2 173.9,360.1 174.9,359.2 175.9,358.8 176.9,358.4 177.9,357.6 178.9,357.4 179.9,356.7 180.9,356.2 181.9,355.9 182.9,355.3 183.9,355 184.9,354.4 185.9,354 186.9,353.4 187.9,353.1 188.9,352.6 189.9,351.8 190.9,351.8 191.9,351.2 192.9,351.1 193.9,350.8 194.9,350.7 195.9,350.1 196.9,350.1 197.9,350.3 198.9,350.3 199.9,350.2 200.9,349.9 201.9,350.3 202.9,350.1 203.9,350.6 204.9,351 205.9,350.9 206.9,351.7 207.9,351.9 208.9,352.2 209.9,352.7 210.9,353.5 211.9,354.4 212.9,355 213.9,355.5 214.9,356.3 215.9,357.2 216.9,358.5 217.9,359.1 218.9,360.2 219.9,361 220.9,362.2 221.9,362.9 222.9,363.6 223.9,364.9 224.9,365.6 225.9,366.5 226.9,367.3 227.9,368.1 228.9,368.2 229.9,369 230.9,369.5 231.9,370.3 232.9,371 233.9,371.4 234.9,371.4 235.9,371.9 236.9,372.6 237.9,372.8 238.9,373 239.9,373.3 240.9,373.3 241.9,373.9 242.9,373.8 243.9,374.2 244.9,374.2 245.9,374 246.9,374.3 247.9,374.3 248.9,374.8 249.9,374.7 250.9,374.4 251.9,374.5 252.9,374.7 253.9,374.8 254.9,374.9 255.9,374.8 256.9,374.8 257.9,374.6 258.9,375 259.9,374.9 260.9,374.7" fill="none" stroke="#555555" stroke-width="1.4" stroke-linejoin="round" stroke-linecap="round"/><polyline points="84.9,375.2 85.9,375.2 86.9,375.2 87.9,375.1 88.9,375.1 89.9,375.1 90.9,375.1 91.9,375.1 92.9,375.1 93.9,375 94.9,375 95.9,375 96.9,375 97.9,375 98.9,374.9 99.9,374.9 100.9,374.9 101.9,374.8 102.9,374.8 103.9,374.8 104.9,374.7 105.9,374.7 106.9,374.7 107.9,374.6 108.9,374.6 109.9,374.6 110.9,374.5 111.9,374.5 112.9,374.5 113.9,374.4 114.9,374.4 115.9,374.3 116.9,374.3 117.9,374.3 118.9,374.2 119.9,374.2 120.9,374.2 121.9,374.1 122.9,374.1 123.9,374.1 124.9,374 125.9,374 126.9,374 127.9,374 128.9,374 129.9,373.9 130.9,373.9 131.9,373.9 132.9,373.9 133.9,373.9 134.9,373.9 135.9,373.9 136.9,373.9 137.9,373.9 138.9,373.9 139.9,373.9 140.9,374 141.9,374 142.9,374 143.9,374 144.9,374 145.9,374.1 146.9,374.1 147.9,374.1 148.9,374.2 149.9,374.2 150.9,374.2 151.9,374.3 152.9,374.3 153.9,374.3 154.9,374.4 155.9,374.4 156.9,374.5 157.9,374.5 158.9,374.5 159.9,374.6 160.9,374.6 161.9,374.6 162.9,374.7 163.9,374.7 164.9,374.7 165.9,374.8 166.9,374.8 167.9,374.8 168.9,374.9 169.9,374.9 170.9,374.9 171.9,374.9 172.9,375 173.9,375 174.9,375 175.9,375 176.9,375.1 177.9,375.1 178.9,375.1 179.9,375.1 180.9,375.1 181.9,375.1 182.9,375.2 183.9,375.2 184.9,375.2" fill="none" stroke="#22b877" stroke-width="1.5" stroke-linejoin="round" stroke-linecap="round"/><polyline points="83.9,375.2 84.9,375.2 85.9,375.2 86.9,375.2 87.9,375.2 88.9,375.2 89.9,375.2 90.9,375.1 91.9,375.1 92.9,375.1 93.9,375.1 94.9,375.1 95.9,375.1 96.9,375.1 97.9,375.1 98.9,375.1 99.9,375.1 100.9,375 101.9,375 102.9,375 103.9,375 104.9,375 105.9,375 106.9,374.9 107.9,374.9 108.9,374.9 109.9,374.9 110.9,374.8 111.9,374.8 112.9,374.8 113.9,374.7 114.9,374.7 115.9,374.7 116.9,374.6 117.9,374.6 118.9,374.5 119.9,374.5 120.9,374.4 121.9,374.3 122.9,374.3 123.9,374.2 124.9,374.1 125.9,374.1 126.9,374 127.9,373.9 128.9,373.8 129.9,373.7 130.9,373.6 131.9,373.5 132.9,373.4 133.9,373.3 134.9,373.2 135.9,373 136.9,372.9 137.9,372.8 138.9,372.6 139.9,372.5 140.9,372.3 141.9,372.2 142.9,372 143.9,371.8 144.9,371.7 145.9,371.5 146.9,371.3 147.9,371.1 148.9,370.9 149.9,370.7 150.9,370.5 151.9,370.3 152.9,370.1 153.9,369.9 154.9,369.7 155.9,369.5 156.9,369.2 157.9,369 158.9,368.8 159.9,368.6 160.9,368.4 161.9,368.1 162.9,367.9 163.9,367.7 164.9,367.5 165.9,367.3 166.9,367.1 167.9,366.9 168.9,366.7 169.9,366.5 170.9,366.3 171.9,366.1 172.9,365.9 173.9,365.7 174.9,365.6 175.9,365.4 176.9,365.3 177.9,365.2 178.9,365 179.9,364.9 180.9,364.8 181.9,364.7 182.9,364.7 183.9,364.6 184.9,364.6 185.9,364.5 186.9,364.5 187.9,364.5 188.9,364.5 189.9,364.6 190.9,364.6 191.9,364.7 192.9,364.8 193.9,365 194.9,365.1 195.9,365.3 196.9,365.6 197.9,365.8 198.9,366 199.9,366.3 200.9,366.6 201.9,366.9 202.9,367.2 203.9,367.5 204.9,367.8 205.9,368.1 206.9,368.4 207.9,368.7 208.9,369.1 209.9,369.4 210.9,369.7 211.9,370 212.9,370.3 213.9,370.6 214.9,370.9 215.9,371.2 216.9,371.4 217.9,371.7 218.9,372 219.9,372.2 220.9,372.4 221.9,372.6 222.9,372.8 223.9,373 224.9,373.2 225.9,373.4 226.9,373.5 227.9,373.7 228.9,373.8 229.9,374 230.9,374.1 231.9,374.2 232.9,374.3 233.9,374.4 234.9,374.5 235.9,374.5 236.9,374.6 237.9,374.7 238.9,374.7 239.9,374.8 240.9,374.8 241.9,374.9 242.9,374.9 243.9,374.9 244.9,375 245.9,375 246.9,375 247.9,375 248.9,375.1 249.9,375.1 250.9,375.1 251.9,375.1 252.9,375.1 253.9,375.1 254.9,375.1 255.9,375.2 256.9,375.2 257.9,375.2 258.9,375.2" fill="none" stroke="#2f6fe0" stroke-width="1.5" stroke-linejoin="round" stroke-linecap="round"/><polyline points="116.9,375.2 117.9,375.2 118.9,375.2 119.9,375.2 120.9,375.2 121.9,375.2 122.9,375.2 123.9,375.2 124.9,375.2 125.9,375.1 126.9,375.1 127.9,375.1 128.9,375.1 129.9,375.1 130.9,375.1 131.9,375.1 132.9,375.1 133.9,375.1 134.9,375.1 135.9,375.1 136.9,375 137.9,375 138.9,375 139.9,375 140.9,375 141.9,375 142.9,374.9 143.9,374.9 144.9,374.9 145.9,374.8 146.9,374.8 147.9,374.7 148.9,374.7 149.9,374.6 150.9,374.6 151.9,374.5 152.9,374.4 153.9,374.3 154.9,374.2 155.9,374.1 156.9,374 157.9,373.9 158.9,373.8 159.9,373.6 160.9,373.5 161.9,373.3 162.9,373.1 163.9,372.9 164.9,372.7 165.9,372.5 166.9,372.3 167.9,372 168.9,371.7 169.9,371.5 170.9,371.2 171.9,370.8 172.9,370.5 173.9,370.2 174.9,369.8 175.9,369.4 176.9,369 177.9,368.6 178.9,368.2 179.9,367.7 180.9,367.3 181.9,366.8 182.9,366.4 183.9,365.9 184.9,365.4 185.9,365 186.9,364.5 187.9,364 188.9,363.5 189.9,363.1 190.9,362.6 191.9,362.2 192.9,361.8 193.9,361.3 194.9,360.9 195.9,360.6 196.9,360.2 197.9,359.9 198.9,359.6 199.9,359.3 200.9,359.1 201.9,358.9 202.9,358.8 203.9,358.6 204.9,358.6 205.9,358.5 206.9,358.5 207.9,358.6 208.9,358.7 209.9,359 210.9,359.3 211.9,359.7 212.9,360.1 213.9,360.6 214.9,361.2 215.9,361.8 216.9,362.4 217.9,363 218.9,363.7 219.9,364.4 220.9,365.1 221.9,365.8 222.9,366.5 223.9,367.1 224.9,367.8 225.9,368.4 226.9,369 227.9,369.6 228.9,370.1 229.9,370.6 230.9,371.1 231.9,371.5 232.9,371.9 233.9,372.3 234.9,372.6 235.9,372.9 236.9,373.2 237.9,373.5 238.9,373.7 239.9,373.9 240.9,374.1 241.9,374.2 242.9,374.3 243.9,374.5 244.9,374.6 245.9,374.7 246.9,374.7 247.9,374.8 248.9,374.9 249.9,374.9 250.9,374.9 251.9,375 252.9,375 253.9,375 254.9,375.1 255.9,375.1 256.9,375.1 257.9,375.1 258.9,375.1 259.9,375.1 260.9,375.1" fill="none" stroke="#f0403c" stroke-width="1.5" stroke-linejoin="round" stroke-linecap="round"/><polyline points="37.9,375.3 261.3,375.3" fill="none" stroke="#d8a024" stroke-width="1.5" stroke-linejoin="round" stroke-linecap="round"/><polyline points="37.9,374.1 38.9,374.1 39.9,374 40.9,374 41.9,374 42.9,374 43.9,374 44.9,373.9 45.9,373.9 46.9,373.8 47.9,373.8 48.9,373.7 49.9,373.6 50.9,373.5 51.9,373.5 52.9,373.4 53.9,373.2 54.9,373.1 55.9,373 56.9,372.9 57.9,372.8 58.9,372.7 59.9,372.5 60.9,372.4 61.9,372.3 62.9,372.3 63.9,372.2 64.9,372.1 65.9,372.1 66.9,372.1 67.9,372.1 68.9,372.1 69.9,372.2 70.9,372.2 71.9,372.3 72.9,372.4 73.9,372.5 74.9,372.6 75.9,372.7 76.9,372.9 77.9,373 78.9,373.1 79.9,373.2 80.9,373.3 81.9,373.4 82.9,373.5 83.9,373.6 84.9,373.6 85.9,373.7 86.9,373.7 87.9,373.8 88.9,373.8 89.9,373.8 90.9,373.8 91.9,373.8 92.9,373.8 93.9,373.8 94.9,373.8 95.9,373.8 96.9,373.8 97.9,373.8 98.9,373.7 99.9,373.7 100.9,373.7 101.9,373.6 102.9,373.6 103.9,373.6 104.9,373.5 105.9,373.5 106.9,373.4 107.9,373.4 108.9,373.3 109.9,373.2 110.9,373.2 111.9,373.1 112.9,373.1 113.9,373 114.9,372.9 115.9,372.8 116.9,372.8 117.9,372.7 118.9,372.6 119.9,372.5 120.9,372.4 121.9,372.3 122.9,372.2 123.9,372.2 124.9,372.1 125.9,372 126.9,371.9 127.9,371.7 128.9,371.6 129.9,371.5 130.9,371.4 131.9,371.3 132.9,371.2 133.9,371.1 134.9,370.9 135.9,370.8 136.9,370.7 137.9,370.5 138.9,370.4 139.9,370.2 140.9,370.1 141.9,369.9 142.9,369.8 143.9,369.6 144.9,369.4 145.9,369.2 146.9,369.1 147.9,368.9 148.9,368.7 149.9,368.4 150.9,368.2 151.9,368 152.9,367.7 153.9,367.5 154.9,367.2 155.9,367 156.9,366.7 157.9,366.4 158.9,366.1 159.9,365.7 160.9,365.4 161.9,365.1 162.9,364.7 163.9,364.3 164.9,364 165.9,363.6 166.9,363.1 167.9,362.7 168.9,362.3 169.9,361.8 170.9,361.4 171.9,360.9 172.9,360.4 173.9,359.9 174.9,359.4 175.9,358.9 176.9,358.4 177.9,357.9 178.9,357.4 179.9,356.9 180.9,356.3 181.9,355.8 182.9,355.3 183.9,354.8 184.9,354.3 185.9,353.8 186.9,353.3 187.9,352.8 188.9,352.4 189.9,352 190.9,351.6 191.9,351.3 192.9,351 193.9,350.7 194.9,350.5 195.9,350.3 196.9,350.2 197.9,350.1 198.9,350.1 199.9,350.1 200.9,350.1 201.9,350.2 202.9,350.4 203.9,350.6 204.9,350.8 205.9,351.1 206.9,351.4 207.9,351.8 208.9,352.3 209.9,352.9 210.9,353.5 211.9,354.2 212.9,354.9 213.9,355.7 214.9,356.6 215.9,357.5 216.9,358.4 217.9,359.3 218.9,360.2 219.9,361.1 220.9,362.1 221.9,363 222.9,363.9 223.9,364.7 224.9,365.5 225.9,366.3 226.9,367.1 227.9,367.8 228.9,368.5 229.9,369.1 230.9,369.7 231.9,370.3 232.9,370.8 233.9,371.3 234.9,371.7 235.9,372.1 236.9,372.4 237.9,372.7 238.9,373 239.9,373.3 240.9,373.5 241.9,373.7 242.9,373.9 243.9,374 244.9,374.2 245.9,374.3 246.9,374.4 247.9,374.5 248.9,374.5 249.9,374.6 250.9,374.7 251.9,374.7 252.9,374.8 253.9,374.8 254.9,374.8 255.9,374.9 256.9,374.9 257.9,374.9 258.9,374.9 259.9,375 260.9,375" fill="none" stroke="#1fbfc4" stroke-width="1.8" stroke-linejoin="round" stroke-linecap="round"/><polyline points="37.9,409.5 38.9,409.8 39.9,409.3 40.9,409.3 41.9,409.6 42.9,409.4 43.9,409.4 44.9,409.5 45.9,409.3 46.9,409.5 47.9,409.5 48.9,409.7 49.9,409.7 50.9,409.1 51.9,409.4 52.9,409.5 53.9,409.6 54.9,409.5 55.9,409.4 56.9,409.4 57.9,409.2 58.9,409.1 59.9,409.4 60.9,409.4 61.9,409.5 62.9,409.3 63.9,409.1 64.9,409.3 65.9,409.3 66.9,409.2 67.9,409.3 68.9,409.1 69.9,409.3 70.9,409.2 71.9,409 72.9,409.2 73.9,409.2 74.9,409.7 75.9,409.4 76.9,409.3 77.9,409.3 78.9,409.3 79.9,409.4 80.9,409.3 81.9,409.2 82.9,409.8 83.9,409.5 84.9,409.5 85.9,409.6 86.9,409.5 87.9,409.4 88.9,409.3 89.9,409.5 90.9,409.5 91.9,409.7 92.9,409.6 93.9,409.9 94.9,409.5 95.9,409.9 96.9,409.7 97.9,409.4 98.9,409.4 99.9,409.6 100.9,409.9 101.9,409.5 102.9,409.7 103.9,409.5 104.9,409.8 105.9,409.3 106.9,409.5 107.9,409.8 108.9,409.4 109.9,409.4 110.9,409.2 111.9,409.3 112.9,409.3 113.9,409.6 114.9,409.2 115.9,409.3 116.9,409.2 117.9,409.4 118.9,409.5 119.9,409.4 120.9,409.1 121.9,409.4 122.9,409.5 123.9,409.2 124.9,408.9 125.9,409.3 126.9,409.3 127.9,408.9 128.9,408.7 129.9,408.7 130.9,408.9 131.9,409 132.9,408.8 133.9,409 134.9,408.5 135.9,408.5 136.9,408.7 137.9,408.6 138.9,408.3 139.9,408.4 140.9,408.2 141.9,407.9 142.9,408.1 143.9,407.8 144.9,408.1 145.9,407.8 146.9,407.8 147.9,407.8 148.9,407.5 149.9,407.6 150.9,407.2 151.9,407.7 152.9,407.4 153.9,407.5 154.9,406.9 155.9,407.1 156.9,407.1 157.9,406.8 158.9,406.5 159.9,406.5 160.9,406.4 161.9,406.7 162.9,406.2 163.9,406.5 164.9,406.2 165.9,406.2 166.9,406.1 167.9,406 168.9,405.9 169.9,405.8 170.9,405.5 171.9,405.6 172.9,405.1 173.9,405.3 174.9,405.1 175.9,404.9 176.9,404.4 177.9,404.4 178.9,404.2 179.9,403.5 180.9,403 181.9,402.6 182.9,402.3 183.9,401.2 184.9,400.4 185.9,399.9 186.9,399.2 187.9,398.3 188.9,397 189.9,396.3 190.9,394.7 191.9,393.8 192.9,392.2 193.9,391 194.9,389.8 195.9,388.6 196.9,387.8 197.9,386.8 198.9,385.6 199.9,385.3 200.9,384.4 201.9,383.8 202.9,383.7 203.9,384 204.9,384.3 205.9,384.3 206.9,384.9 207.9,386.3 208.9,387 209.9,388.7 210.9,389.7 211.9,391.2 212.9,392.4 213.9,394.1 214.9,395.4 215.9,396.7 216.9,398.4 217.9,399.1 218.9,400.7 219.9,401.4 220.9,402.7 221.9,403.5 222.9,404.5 223.9,404.7 224.9,405.7 225.9,406.1 226.9,406.9 227.9,407.3 228.9,407.4 229.9,407.5 230.9,407.8 231.9,408 232.9,408.3 233.9,408.3 234.9,408.5 235.9,408.9 236.9,409 237.9,408.9 238.9,409.4 239.9,409 240.9,409.3 241.9,409.2 242.9,409.7 243.9,409.7 244.9,409.4 245.9,409.8 246.9,409.9 247.9,409.6 248.9,409.7 249.9,409.9 250.9,410.1 251.9,409.8 252.9,410.1 253.9,410.1 254.9,410.1 255.9,410.2 256.9,410.4 257.9,410 258.9,410.4 259.9,410.2 260.9,410.4" fill="none" stroke="#555555" stroke-width="1.4" stroke-linejoin="round" stroke-linecap="round"/><polyline points="88.9,410.6 89.9,410.6 90.9,410.6 91.9,410.6 92.9,410.6 93.9,410.5 94.9,410.5 95.9,410.5 96.9,410.5 97.9,410.5 98.9,410.5 99.9,410.5 100.9,410.5 101.9,410.5 102.9,410.4 103.9,410.4 104.9,410.4 105.9,410.4 106.9,410.4 107.9,410.4 108.9,410.3 109.9,410.3 110.9,410.3 111.9,410.3 112.9,410.3 113.9,410.2 114.9,410.2 115.9,410.2 116.9,410.1 117.9,410.1 118.9,410.1 119.9,410 120.9,410 121.9,410 122.9,409.9 123.9,409.9 124.9,409.9 125.9,409.8 126.9,409.8 127.9,409.7 128.9,409.7 129.9,409.6 130.9,409.6 131.9,409.5 132.9,409.4 133.9,409.4 134.9,409.3 135.9,409.3 136.9,409.2 137.9,409.1 138.9,409.1 139.9,409 140.9,408.9 141.9,408.8 142.9,408.8 143.9,408.7 144.9,408.6 145.9,408.5 146.9,408.4 147.9,408.4 148.9,408.3 149.9,408.2 150.9,408.1 151.9,408 152.9,407.9 153.9,407.8 154.9,407.7 155.9,407.7 156.9,407.6 157.9,407.5 158.9,407.4 159.9,407.3 160.9,407.2 161.9,407.1 162.9,407 163.9,406.9 164.9,406.8 165.9,406.8 166.9,406.7 167.9,406.6 168.9,406.5 169.9,406.4 170.9,406.4 171.9,406.3 172.9,406.2 173.9,406.1 174.9,406.1 175.9,406 176.9,405.9 177.9,405.9 178.9,405.8 179.9,405.8 180.9,405.7 181.9,405.7 182.9,405.7 183.9,405.6 184.9,405.6 185.9,405.6 186.9,405.5 187.9,405.5 188.9,405.5 189.9,405.5 190.9,405.5 191.9,405.5 192.9,405.5 193.9,405.5 194.9,405.6 195.9,405.6 196.9,405.6 197.9,405.7 198.9,405.7 199.9,405.8 200.9,405.8 201.9,405.9 202.9,406 203.9,406 204.9,406.1 205.9,406.2 206.9,406.3 207.9,406.4 208.9,406.5 209.9,406.6 210.9,406.7 211.9,406.8 212.9,406.9 213.9,407 214.9,407.1 215.9,407.2 216.9,407.3 217.9,407.4 218.9,407.5 219.9,407.7 220.9,407.8 221.9,407.9 222.9,408 223.9,408.1 224.9,408.2 225.9,408.3 226.9,408.4 227.9,408.5 228.9,408.6 229.9,408.7 230.9,408.8 231.9,408.9 232.9,409 233.9,409.1 234.9,409.1 235.9,409.2 236.9,409.3 237.9,409.4 238.9,409.4 239.9,409.5 240.9,409.6 241.9,409.6 242.9,409.7 243.9,409.8 244.9,409.8 245.9,409.9 246.9,409.9 247.9,410 248.9,410 249.9,410.1 250.9,410.1 251.9,410.1 252.9,410.2 253.9,410.2 254.9,410.2 255.9,410.3 256.9,410.3 257.9,410.3 258.9,410.4 259.9,410.4 260.9,410.4" fill="none" stroke="#2f6fe0" stroke-width="1.5" stroke-linejoin="round" stroke-linecap="round"/><polyline points="152.9,410.6 153.9,410.6 154.9,410.6 155.9,410.6 156.9,410.6 157.9,410.5 158.9,410.5 159.9,410.5 160.9,410.5 161.9,410.5 162.9,410.5 163.9,410.5 164.9,410.5 165.9,410.5 166.9,410.4 167.9,410.4 168.9,410.4 169.9,410.3 170.9,410.3 171.9,410.2 172.9,410.1 173.9,410 174.9,409.9 175.9,409.8 176.9,409.6 177.9,409.3 178.9,409.1 179.9,408.8 180.9,408.4 181.9,407.9 182.9,407.4 183.9,406.8 184.9,406.1 185.9,405.4 186.9,404.5 187.9,403.6 188.9,402.6 189.9,401.5 190.9,400.3 191.9,399.1 192.9,397.9 193.9,396.7 194.9,395.4 195.9,394.2 196.9,393.1 197.9,392 198.9,391 199.9,390.2 200.9,389.6 201.9,389.1 202.9,388.8 203.9,388.7 204.9,388.8 205.9,389.2 206.9,389.8 207.9,390.6 208.9,391.6 209.9,392.7 210.9,393.9 211.9,395.2 212.9,396.5 213.9,397.8 214.9,399.1 215.9,400.4 216.9,401.6 217.9,402.8 218.9,403.8 219.9,404.8 220.9,405.7 221.9,406.5 222.9,407.1 223.9,407.7 224.9,408.2 225.9,408.7 226.9,409 227.9,409.3 228.9,409.6 229.9,409.8 230.9,409.9 231.9,410.1 232.9,410.2 233.9,410.2 234.9,410.3 235.9,410.4 236.9,410.4 237.9,410.4 238.9,410.5 239.9,410.5 240.9,410.5 241.9,410.5 242.9,410.5 243.9,410.5 244.9,410.5 245.9,410.5 246.9,410.6 247.9,410.6 248.9,410.6 249.9,410.6 250.9,410.6" fill="none" stroke="#f0403c" stroke-width="1.5" stroke-linejoin="round" stroke-linecap="round"/><polyline points="37.9,410.7 261.3,410.7" fill="none" stroke="#d8a024" stroke-width="1.5" stroke-linejoin="round" stroke-linecap="round"/><polyline points="37.9,409.5 38.9,409.5 39.9,409.5 40.9,409.5 41.9,409.5 42.9,409.5 43.9,409.5 44.9,409.5 45.9,409.5 46.9,409.5 47.9,409.5 48.9,409.4 49.9,409.4 50.9,409.4 51.9,409.4 52.9,409.4 53.9,409.3 54.9,409.3 55.9,409.3 56.9,409.3 57.9,409.3 58.9,409.2 59.9,409.2 60.9,409.2 61.9,409.2 62.9,409.2 63.9,409.2 64.9,409.2 65.9,409.2 66.9,409.2 67.9,409.2 68.9,409.2 69.9,409.2 70.9,409.3 71.9,409.3 72.9,409.3 73.9,409.3 74.9,409.4 75.9,409.4 76.9,409.4 77.9,409.4 78.9,409.5 79.9,409.5 80.9,409.5 81.9,409.5 82.9,409.5 83.9,409.6 84.9,409.6 85.9,409.6 86.9,409.6 87.9,409.6 88.9,409.6 89.9,409.6 90.9,409.6 91.9,409.6 92.9,409.6 93.9,409.6 94.9,409.6 95.9,409.6 96.9,409.6 97.9,409.6 98.9,409.6 99.9,409.6 100.9,409.6 101.9,409.6 102.9,409.6 103.9,409.6 104.9,409.6 105.9,409.5 106.9,409.5 107.9,409.5 108.9,409.5 109.9,409.5 110.9,409.5 111.9,409.5 112.9,409.4 113.9,409.4 114.9,409.4 115.9,409.4 116.9,409.4 117.9,409.3 118.9,409.3 119.9,409.3 120.9,409.3 121.9,409.2 122.9,409.2 123.9,409.2 124.9,409.1 125.9,409.1 126.9,409 127.9,409 128.9,409 129.9,408.9 130.9,408.9 131.9,408.8 132.9,408.8 133.9,408.7 134.9,408.6 135.9,408.6 136.9,408.5 137.9,408.5 138.9,408.4 139.9,408.3 140.9,408.3 141.9,408.2 142.9,408.1 143.9,408.1 144.9,408 145.9,407.9 146.9,407.8 147.9,407.7 148.9,407.7 149.9,407.6 150.9,407.5 151.9,407.4 152.9,407.3 153.9,407.2 154.9,407.2 155.9,407.1 156.9,407 157.9,406.9 158.9,406.8 159.9,406.7 160.9,406.6 161.9,406.5 162.9,406.4 163.9,406.3 164.9,406.2 165.9,406.1 166.9,406 167.9,405.9 168.9,405.8 169.9,405.7 170.9,405.6 171.9,405.4 172.9,405.3 173.9,405.1 174.9,404.9 175.9,404.7 176.9,404.5 177.9,404.2 178.9,403.9 179.9,403.5 180.9,403.1 181.9,402.6 182.9,402.1 183.9,401.4 184.9,400.7 185.9,399.9 186.9,399.1 187.9,398.1 188.9,397.1 189.9,396 190.9,394.9 191.9,393.7 192.9,392.5 193.9,391.3 194.9,390 195.9,388.9 196.9,387.8 197.9,386.7 198.9,385.8 199.9,385.1 200.9,384.5 201.9,384.1 202.9,383.8 203.9,383.8 204.9,384.1 205.9,384.5 206.9,385.2 207.9,386.1 208.9,387.2 209.9,388.4 210.9,389.7 211.9,391.1 212.9,392.5 213.9,394 214.9,395.4 215.9,396.8 216.9,398.1 217.9,399.4 218.9,400.6 219.9,401.6 220.9,402.6 221.9,403.5 222.9,404.3 223.9,405 224.9,405.6 225.9,406.2 226.9,406.6 227.9,407 228.9,407.4 229.9,407.7 230.9,407.9 231.9,408.1 232.9,408.3 233.9,408.5 234.9,408.7 235.9,408.8 236.9,408.9 237.9,409 238.9,409.1 239.9,409.2 240.9,409.3 241.9,409.4 242.9,409.4 243.9,409.5 244.9,409.6 245.9,409.6 246.9,409.7 247.9,409.8 248.9,409.8 249.9,409.9 250.9,409.9 251.9,410 252.9,410 253.9,410 254.9,410.1 255.9,410.1 256.9,410.1 257.9,410.2 258.9,410.2 259.9,410.2 260.9,410.3" fill="none" stroke="#1fbfc4" stroke-width="1.8" stroke-linejoin="round" stroke-linecap="round"/></g>
<g clip-path="url(#cp3)"><polyline points="309.2,278.6 310.2,277.9 311.2,278.6 312.2,278.7 313.2,278 314.2,277.7 315.2,277.8 316.2,278.6 317.2,277.6 318.2,278.5 319.2,277.7 320.2,278.3 321.2,277.6 322.2,277.7 323.2,278.2 324.2,277.6 325.2,277.8 326.2,278.3 327.2,278.1 328.2,278.2 329.2,278.3 330.2,277.3 331.2,277.5 332.2,278 333.2,277.8 334.2,277.1 335.2,277.5 336.2,277.2 337.2,277.4 338.2,277 339.2,276.8 340.2,277.7 341.2,277 342.2,277.5 343.2,276.6 344.2,276.9 345.2,276.5 346.2,276.7 347.2,276.3 348.2,276.7 349.2,276.1 350.2,276.6 351.2,276.2 352.2,275.7 353.2,275.8 354.2,275.8 355.2,276.1 356.2,275.4 357.2,275.2 358.2,275.8 359.2,275.5 360.2,275.2 361.2,274.6 362.2,274.4 363.2,274.3 364.2,273.9 365.2,273.8 366.2,274.1 367.2,273.8 368.2,273.8 369.2,273.4 370.2,272.9 371.2,273.4 372.2,273.2 373.2,272.9 374.2,272.7 375.2,272.7 376.2,272.8 377.2,272.5 378.2,272.2 379.2,271.7 380.2,271.5 381.2,271.4 382.2,271.8 383.2,271 384.2,270.9 385.2,270.7 386.2,270.3 387.2,271 388.2,269.9 389.2,270.3 390.2,270.5 391.2,269.6 392.2,269.8 393.2,269.4 394.2,269.1 395.2,268.9 396.2,268.7 397.2,269.2 398.2,269 399.2,269 400.2,267.9 401.2,268.4 402.2,267.8 403.2,267.9 404.2,267.6 405.2,267.2 406.2,267.6 407.2,266.4 408.2,266.9 409.2,266.8 410.2,266.2 411.2,266 412.2,266.1 413.2,265.1 414.2,265.2 415.2,265 416.2,264.3 417.2,264.3 418.2,263.7 419.2,263.4 420.2,263.2 421.2,262.9 422.2,262.1 423.2,262.1 424.2,261.6 425.2,260.9 426.2,260.9 427.2,260.1 428.2,260.4 429.2,259.5 430.2,259.4 431.2,258.8 432.2,258.3 433.2,257.7 434.2,257.2 435.2,257.6 436.2,256.9 437.2,256.5 438.2,256.2 439.2,256.2 440.2,255.3 441.2,255 442.2,255.4 443.2,254.8 444.2,254.8 445.2,254.8 446.2,254.7 447.2,254.6 448.2,253.7 449.2,253.9 450.2,254.3 451.2,254.3 452.2,253.5 453.2,253.6 454.2,253.7 455.2,253.6 456.2,253.9 457.2,254.5 458.2,254.3 459.2,254.3 460.2,254.1 461.2,254.6 462.2,255.4 463.2,255.3 464.2,255.3 465.2,255.6 466.2,256.2 467.2,256.6 468.2,256.4 469.2,257.4 470.2,257.5 471.2,258.2 472.2,258.5 473.2,259.3 474.2,259.9 475.2,260.6 476.2,260.9 477.2,261.8 478.2,262.9 479.2,263.1 480.2,263.9 481.2,265.2 482.2,265.5 483.2,266.2 484.2,266.8 485.2,268.1 486.2,268 487.2,269.2 488.2,270 489.2,270 490.2,270.8 491.2,271.7 492.2,272 493.2,272.3 494.2,272.4 495.2,273.3 496.2,273.6 497.2,274.4 498.2,274.3 499.2,274.8 500.2,275.3 501.2,275.8 502.2,275.6 503.2,275.8 504.2,276.3 505.2,276.8 506.2,276.3 507.2,277.2 508.2,277.1 509.2,276.9 510.2,277.3 511.2,277.1 512.2,276.9 513.2,277.7 514.2,277.4 515.2,277.6 516.2,277.7 517.2,278.1 518.2,278 519.2,277.3 520.2,278 521.2,277.9 522.2,277.9 523.2,278.3 524.2,277.9 525.2,278 526.2,278.4 527.2,278 528.2,278.1 529.2,278.1 530.2,278.4 531.2,278.3 532.2,278.4 533.2,278" fill="none" stroke="#555555" stroke-width="1.4" stroke-linejoin="round" stroke-linecap="round"/><polyline points="309.2,278.4 310.2,278.4 311.2,278.4 312.2,278.3 313.2,278.3 314.2,278.3 315.2,278.3 316.2,278.3 317.2,278.3 318.2,278.3 319.2,278.3 320.2,278.2 321.2,278.2 322.2,278.2 323.2,278.2 324.2,278.2 325.2,278.1 326.2,278.1 327.2,278.1 328.2,278.1 329.2,278 330.2,278 331.2,278 332.2,277.9 333.2,277.9 334.2,277.8 335.2,277.8 336.2,277.7 337.2,277.7 338.2,277.6 339.2,277.5 340.2,277.5 341.2,277.4 342.2,277.3 343.2,277.3 344.2,277.2 345.2,277.1 346.2,277 347.2,276.9 348.2,276.8 349.2,276.7 350.2,276.6 351.2,276.5 352.2,276.4 353.2,276.3 354.2,276.2 355.2,276 356.2,275.9 357.2,275.8 358.2,275.7 359.2,275.5 360.2,275.4 361.2,275.2 362.2,275.1 363.2,275 364.2,274.8 365.2,274.7 366.2,274.5 367.2,274.4 368.2,274.2 369.2,274.1 370.2,273.9 371.2,273.8 372.2,273.6 373.2,273.5 374.2,273.3 375.2,273.2 376.2,273.1 377.2,272.9 378.2,272.8 379.2,272.7 380.2,272.6 381.2,272.4 382.2,272.3 383.2,272.2 384.2,272.1 385.2,272.1 386.2,272 387.2,271.9 388.2,271.9 389.2,271.8 390.2,271.8 391.2,271.7 392.2,271.7 393.2,271.7 394.2,271.7 395.2,271.7 396.2,271.7 397.2,271.7 398.2,271.8 399.2,271.8 400.2,271.9 401.2,271.9 402.2,272 403.2,272.1 404.2,272.2 405.2,272.3 406.2,272.4 407.2,272.5 408.2,272.6 409.2,272.7 410.2,272.8 411.2,273 412.2,273.1 413.2,273.2 414.2,273.4 415.2,273.5 416.2,273.7 417.2,273.8 418.2,274 419.2,274.1 420.2,274.3 421.2,274.4 422.2,274.6 423.2,274.7 424.2,274.9 425.2,275 426.2,275.2 427.2,275.3 428.2,275.4 429.2,275.6 430.2,275.7 431.2,275.8 432.2,276 433.2,276.1 434.2,276.2 435.2,276.3 436.2,276.4 437.2,276.6 438.2,276.7 439.2,276.8 440.2,276.9 441.2,277 442.2,277.1 443.2,277.1 444.2,277.2 445.2,277.3 446.2,277.4 447.2,277.4 448.2,277.5 449.2,277.6 450.2,277.6 451.2,277.7 452.2,277.7 453.2,277.8 454.2,277.8 455.2,277.9 456.2,277.9 457.2,278 458.2,278 459.2,278 460.2,278.1 461.2,278.1 462.2,278.1 463.2,278.2 464.2,278.2 465.2,278.2 466.2,278.2 467.2,278.2 468.2,278.3 469.2,278.3 470.2,278.3 471.2,278.3 472.2,278.3 473.2,278.3 474.2,278.3 475.2,278.3 476.2,278.4 477.2,278.4 478.2,278.4 479.2,278.4" fill="none" stroke="#22b877" stroke-width="1.5" stroke-linejoin="round" stroke-linecap="round"/><polyline points="352.2,278.4 353.2,278.4 354.2,278.4 355.2,278.4 356.2,278.4 357.2,278.4 358.2,278.4 359.2,278.3 360.2,278.3 361.2,278.3 362.2,278.3 363.2,278.3 364.2,278.3 365.2,278.3 366.2,278.3 367.2,278.3 368.2,278.3 369.2,278.3 370.2,278.2 371.2,278.2 372.2,278.2 373.2,278.2 374.2,278.2 375.2,278.1 376.2,278.1 377.2,278.1 378.2,278.1 379.2,278 380.2,278 381.2,277.9 382.2,277.9 383.2,277.8 384.2,277.8 385.2,277.7 386.2,277.7 387.2,277.6 388.2,277.5 389.2,277.4 390.2,277.4 391.2,277.3 392.2,277.2 393.2,277.1 394.2,277 395.2,276.8 396.2,276.7 397.2,276.6 398.2,276.4 399.2,276.3 400.2,276.1 401.2,275.9 402.2,275.8 403.2,275.6 404.2,275.4 405.2,275.2 406.2,275 407.2,274.8 408.2,274.6 409.2,274.3 410.2,274.1 411.2,273.9 412.2,273.6 413.2,273.4 414.2,273.2 415.2,272.9 416.2,272.7 417.2,272.4 418.2,272.2 419.2,271.9 420.2,271.7 421.2,271.5 422.2,271.2 423.2,271 424.2,270.8 425.2,270.6 426.2,270.4 427.2,270.2 428.2,270 429.2,269.9 430.2,269.8 431.2,269.6 432.2,269.5 433.2,269.4 434.2,269.4 435.2,269.3 436.2,269.3 437.2,269.3 438.2,269.3 439.2,269.4 440.2,269.5 441.2,269.6 442.2,269.7 443.2,269.9 444.2,270 445.2,270.3 446.2,270.5 447.2,270.7 448.2,271 449.2,271.2 450.2,271.5 451.2,271.8 452.2,272.1 453.2,272.4 454.2,272.7 455.2,273 456.2,273.3 457.2,273.6 458.2,273.9 459.2,274.2 460.2,274.5 461.2,274.7 462.2,275 463.2,275.2 464.2,275.5 465.2,275.7 466.2,275.9 467.2,276.1 468.2,276.3 469.2,276.5 470.2,276.7 471.2,276.8 472.2,277 473.2,277.1 474.2,277.2 475.2,277.4 476.2,277.5 477.2,277.6 478.2,277.6 479.2,277.7 480.2,277.8 481.2,277.9 482.2,277.9 483.2,278 484.2,278 485.2,278.1 486.2,278.1 487.2,278.1 488.2,278.2 489.2,278.2 490.2,278.2 491.2,278.2 492.2,278.3 493.2,278.3 494.2,278.3 495.2,278.3 496.2,278.3 497.2,278.3 498.2,278.3 499.2,278.3 500.2,278.3 501.2,278.4 502.2,278.4 503.2,278.4 504.2,278.4 505.2,278.4 506.2,278.4" fill="none" stroke="#2f6fe0" stroke-width="1.5" stroke-linejoin="round" stroke-linecap="round"/><polyline points="321.2,278.4 322.2,278.4 323.2,278.4 324.2,278.4 325.2,278.4 326.2,278.4 327.2,278.4 328.2,278.4 329.2,278.4 330.2,278.4 331.2,278.4 332.2,278.4 333.2,278.4 334.2,278.4 335.2,278.4 336.2,278.4 337.2,278.3 338.2,278.3 339.2,278.3 340.2,278.3 341.2,278.3 342.2,278.3 343.2,278.3 344.2,278.3 345.2,278.3 346.2,278.3 347.2,278.3 348.2,278.3 349.2,278.3 350.2,278.3 351.2,278.3 352.2,278.3 353.2,278.3 354.2,278.3 355.2,278.3 356.2,278.3 357.2,278.3 358.2,278.3 359.2,278.3 360.2,278.3 361.2,278.3 362.2,278.3 363.2,278.3 364.2,278.3 365.2,278.3 366.2,278.2 367.2,278.2 368.2,278.2 369.2,278.2 370.2,278.2 371.2,278.2 372.2,278.2 373.2,278.2 374.2,278.2 375.2,278.2 376.2,278.2 377.2,278.2 378.2,278.1 379.2,278.1 380.2,278.1 381.2,278.1 382.2,278.1 383.2,278.1 384.2,278.1 385.2,278 386.2,278 387.2,278 388.2,278 389.2,277.9 390.2,277.9 391.2,277.9 392.2,277.8 393.2,277.8 394.2,277.7 395.2,277.7 396.2,277.6 397.2,277.6 398.2,277.5 399.2,277.4 400.2,277.4 401.2,277.3 402.2,277.2 403.2,277.1 404.2,277 405.2,276.9 406.2,276.8 407.2,276.7 408.2,276.5 409.2,276.4 410.2,276.2 411.2,276.1 412.2,275.9 413.2,275.7 414.2,275.5 415.2,275.3 416.2,275.1 417.2,274.9 418.2,274.6 419.2,274.4 420.2,274.1 421.2,273.8 422.2,273.5 423.2,273.2 424.2,272.9 425.2,272.5 426.2,272.2 427.2,271.8 428.2,271.5 429.2,271.1 430.2,270.7 431.2,270.3 432.2,269.8 433.2,269.4 434.2,269 435.2,268.5 436.2,268.1 437.2,267.6 438.2,267.2 439.2,266.7 440.2,266.2 441.2,265.8 442.2,265.3 443.2,264.8 444.2,264.4 445.2,263.9 446.2,263.5 447.2,263 448.2,262.6 449.2,262.2 450.2,261.8 451.2,261.4 452.2,261.1 453.2,260.7 454.2,260.4 455.2,260.1 456.2,259.8 457.2,259.6 458.2,259.4 459.2,259.2 460.2,259 461.2,258.9 462.2,258.8 463.2,258.7 464.2,258.7 465.2,258.7 466.2,258.8 467.2,258.9 468.2,259.1 469.2,259.4 470.2,259.7 471.2,260.1 472.2,260.5 473.2,261 474.2,261.5 475.2,262 476.2,262.6 477.2,263.2 478.2,263.8 479.2,264.4 480.2,265.1 481.2,265.7 482.2,266.4 483.2,267 484.2,267.7 485.2,268.3 486.2,268.9 487.2,269.5 488.2,270.1 489.2,270.7 490.2,271.2 491.2,271.8 492.2,272.3 493.2,272.7 494.2,273.2 495.2,273.6 496.2,274 497.2,274.4 498.2,274.7 499.2,275.1 500.2,275.4 501.2,275.7 502.2,275.9 503.2,276.1 504.2,276.4 505.2,276.6 506.2,276.7 507.2,276.9 508.2,277.1 509.2,277.2 510.2,277.3 511.2,277.4 512.2,277.5 513.2,277.6 514.2,277.7 515.2,277.7 516.2,277.8 517.2,277.9 518.2,277.9 519.2,277.9 520.2,278 521.2,278 522.2,278 523.2,278.1 524.2,278.1 525.2,278.1 526.2,278.1 527.2,278.2 528.2,278.2 529.2,278.2 530.2,278.2 531.2,278.2 532.2,278.2 533.2,278.2" fill="none" stroke="#f0403c" stroke-width="1.5" stroke-linejoin="round" stroke-linecap="round"/><polyline points="309.2,278.5 533.5,278.5" fill="none" stroke="#b889e8" stroke-width="1.5" stroke-linejoin="round" stroke-linecap="round"/><polyline points="309.2,278.2 310.2,278.2 311.2,278.2 312.2,278.2 313.2,278.2 314.2,278.2 315.2,278.1 316.2,278.1 317.2,278.1 318.2,278.1 319.2,278.1 320.2,278.1 321.2,278 322.2,278 323.2,278 324.2,278 325.2,277.9 326.2,277.9 327.2,277.9 328.2,277.9 329.2,277.8 330.2,277.8 331.2,277.7 332.2,277.7 333.2,277.6 334.2,277.6 335.2,277.5 336.2,277.5 337.2,277.4 338.2,277.4 339.2,277.3 340.2,277.2 341.2,277.2 342.2,277.1 343.2,277 344.2,276.9 345.2,276.8 346.2,276.7 347.2,276.6 348.2,276.5 349.2,276.4 350.2,276.3 351.2,276.2 352.2,276.1 353.2,276 354.2,275.8 355.2,275.7 356.2,275.6 357.2,275.4 358.2,275.3 359.2,275.2 360.2,275 361.2,274.9 362.2,274.7 363.2,274.5 364.2,274.4 365.2,274.2 366.2,274.1 367.2,273.9 368.2,273.7 369.2,273.5 370.2,273.4 371.2,273.2 372.2,273 373.2,272.9 374.2,272.7 375.2,272.5 376.2,272.3 377.2,272.2 378.2,272 379.2,271.8 380.2,271.7 381.2,271.5 382.2,271.3 383.2,271.2 384.2,271 385.2,270.8 386.2,270.7 387.2,270.5 388.2,270.3 389.2,270.2 390.2,270 391.2,269.9 392.2,269.7 393.2,269.5 394.2,269.4 395.2,269.2 396.2,269.1 397.2,268.9 398.2,268.7 399.2,268.5 400.2,268.4 401.2,268.2 402.2,268 403.2,267.8 404.2,267.6 405.2,267.4 406.2,267.2 407.2,266.9 408.2,266.7 409.2,266.4 410.2,266.2 411.2,265.9 412.2,265.6 413.2,265.4 414.2,265.1 415.2,264.8 416.2,264.4 417.2,264.1 418.2,263.8 419.2,263.4 420.2,263 421.2,262.7 422.2,262.3 423.2,261.9 424.2,261.5 425.2,261.1 426.2,260.7 427.2,260.3 428.2,259.9 429.2,259.5 430.2,259.1 431.2,258.7 432.2,258.3 433.2,258 434.2,257.6 435.2,257.2 436.2,256.8 437.2,256.5 438.2,256.2 439.2,255.8 440.2,255.6 441.2,255.3 442.2,255.1 443.2,254.8 444.2,254.6 445.2,254.5 446.2,254.3 447.2,254.2 448.2,254.1 449.2,254 450.2,254 451.2,253.9 452.2,253.9 453.2,253.9 454.2,253.9 455.2,254 456.2,254.1 457.2,254.2 458.2,254.3 459.2,254.4 460.2,254.5 461.2,254.7 462.2,254.9 463.2,255.1 464.2,255.4 465.2,255.6 466.2,255.9 467.2,256.3 468.2,256.7 469.2,257.2 470.2,257.7 471.2,258.2 472.2,258.8 473.2,259.4 474.2,260.1 475.2,260.7 476.2,261.4 477.2,262.1 478.2,262.8 479.2,263.5 480.2,264.3 481.2,265 482.2,265.7 483.2,266.4 484.2,267.1 485.2,267.8 486.2,268.4 487.2,269.1 488.2,269.7 489.2,270.3 490.2,270.9 491.2,271.4 492.2,271.9 493.2,272.4 494.2,272.9 495.2,273.3 496.2,273.8 497.2,274.1 498.2,274.5 499.2,274.8 500.2,275.2 501.2,275.4 502.2,275.7 503.2,276 504.2,276.2 505.2,276.4 506.2,276.6 507.2,276.7 508.2,276.9 509.2,277 510.2,277.1 511.2,277.3 512.2,277.4 513.2,277.4 514.2,277.5 515.2,277.6 516.2,277.7 517.2,277.7 518.2,277.8 519.2,277.8 520.2,277.9 521.2,277.9 522.2,277.9 523.2,278 524.2,278 525.2,278 526.2,278 527.2,278 528.2,278.1 529.2,278.1 530.2,278.1 531.2,278.1 532.2,278.1 533.2,278.1" fill="none" stroke="#d09a1c" stroke-width="2.0" stroke-linejoin="round" stroke-linecap="round"/><polyline points="309.2,312.4 310.2,313.1 311.2,312.9 312.2,313.1 313.2,313.1 314.2,312.4 315.2,312.5 316.2,312.4 317.2,313.1 318.2,312.3 319.2,312.3 320.2,312.9 321.2,312.7 322.2,312.2 323.2,312.8 324.2,312.8 325.2,312.5 326.2,312 327.2,312.6 328.2,312.3 329.2,312.4 330.2,312.8 331.2,312.5 332.2,312.5 333.2,311.7 334.2,311.8 335.2,311.9 336.2,311.3 337.2,312.2 338.2,311.4 339.2,311.3 340.2,311.3 341.2,311.1 342.2,311.6 343.2,311.2 344.2,311 345.2,310.8 346.2,310.3 347.2,310.4 348.2,310.8 349.2,310.6 350.2,310.5 351.2,309.8 352.2,309.5 353.2,309.2 354.2,309.5 355.2,309.2 356.2,309.1 357.2,308.9 358.2,308.8 359.2,308.4 360.2,308.6 361.2,307.8 362.2,308.4 363.2,307.8 364.2,307.1 365.2,307.1 366.2,307.1 367.2,306.8 368.2,306.7 369.2,306.3 370.2,306 371.2,306.4 372.2,305.6 373.2,305.9 374.2,305.8 375.2,305.3 376.2,305 377.2,305.3 378.2,304.6 379.2,304.9 380.2,303.9 381.2,304.1 382.2,304.2 383.2,303.5 384.2,304.1 385.2,303.2 386.2,303.6 387.2,303.1 388.2,303.7 389.2,303.2 390.2,303.4 391.2,303 392.2,303.1 393.2,303 394.2,302.5 395.2,302.4 396.2,302.9 397.2,302.1 398.2,302.8 399.2,302 400.2,301.8 401.2,301.6 402.2,302.2 403.2,302.2 404.2,301.5 405.2,301.5 406.2,300.9 407.2,301.3 408.2,300.8 409.2,300 410.2,299.5 411.2,299.8 412.2,298.8 413.2,299.1 414.2,298.1 415.2,297.6 416.2,297.4 417.2,296.6 418.2,296.3 419.2,295.3 420.2,295.5 421.2,294.3 422.2,294.2 423.2,292.9 424.2,293 425.2,292.6 426.2,291.5 427.2,290.6 428.2,290.4 429.2,290.3 430.2,289.4 431.2,289.4 432.2,288.7 433.2,288.8 434.2,288.9 435.2,288.4 436.2,288.6 437.2,287.9 438.2,288.6 439.2,287.8 440.2,288.7 441.2,288.8 442.2,288.8 443.2,288.5 444.2,288.4 445.2,288.6 446.2,289.2 447.2,289.2 448.2,289.8 449.2,289.2 450.2,289.9 451.2,290.6 452.2,290.6 453.2,290.9 454.2,290.8 455.2,291.2 456.2,291.7 457.2,292.7 458.2,293 459.2,292.8 460.2,294 461.2,293.6 462.2,294.6 463.2,295.5 464.2,295.5 465.2,296.7 466.2,297 467.2,297 468.2,297.9 469.2,298.6 470.2,299.1 471.2,300.2 472.2,300.3 473.2,301.5 474.2,301.7 475.2,302 476.2,303.1 477.2,303.3 478.2,304.3 479.2,305.1 480.2,305.4 481.2,305.8 482.2,305.9 483.2,306.9 484.2,306.9 485.2,307.9 486.2,307.8 487.2,308.6 488.2,308.8 489.2,309.1 490.2,309.7 491.2,309.5 492.2,309.8 493.2,310.9 494.2,310.5 495.2,311.2 496.2,311.4 497.2,311.2 498.2,311.1 499.2,311.2 500.2,312.1 501.2,311.5 502.2,312 503.2,312.1 504.2,311.8 505.2,312.2 506.2,312 507.2,312.4 508.2,312.4 509.2,312.4 510.2,312.2 511.2,312.5 512.2,312.3 513.2,312.3 514.2,312.4 515.2,313.1 516.2,312.7 517.2,313.1 518.2,312.3 519.2,313.2 520.2,312.8 521.2,313.1 522.2,312.9 523.2,313 524.2,312.6 525.2,313.1 526.2,312.5 527.2,312.7 528.2,312.4 529.2,312.8 530.2,312.9 531.2,312.7 532.2,313.3 533.2,312.5" fill="none" stroke="#555555" stroke-width="1.4" stroke-linejoin="round" stroke-linecap="round"/><polyline points="309.2,313 310.2,313 311.2,313 312.2,313 313.2,313 314.2,312.9 315.2,312.9 316.2,312.9 317.2,312.9 318.2,312.9 319.2,312.8 320.2,312.8 321.2,312.8 322.2,312.7 323.2,312.7 324.2,312.7 325.2,312.6 326.2,312.6 327.2,312.6 328.2,312.5 329.2,312.5 330.2,312.4 331.2,312.3 332.2,312.3 333.2,312.2 334.2,312.1 335.2,312.1 336.2,312 337.2,311.9 338.2,311.8 339.2,311.7 340.2,311.6 341.2,311.5 342.2,311.4 343.2,311.3 344.2,311.2 345.2,311.1 346.2,310.9 347.2,310.8 348.2,310.7 349.2,310.5 350.2,310.4 351.2,310.2 352.2,310 353.2,309.9 354.2,309.7 355.2,309.5 356.2,309.4 357.2,309.2 358.2,309 359.2,308.8 360.2,308.6 361.2,308.4 362.2,308.2 363.2,308 364.2,307.8 365.2,307.6 366.2,307.4 367.2,307.2 368.2,307 369.2,306.8 370.2,306.6 371.2,306.4 372.2,306.2 373.2,306 374.2,305.8 375.2,305.7 376.2,305.5 377.2,305.3 378.2,305.2 379.2,305 380.2,304.9 381.2,304.7 382.2,304.6 383.2,304.5 384.2,304.4 385.2,304.3 386.2,304.2 387.2,304.2 388.2,304.1 389.2,304.1 390.2,304 391.2,304 392.2,304 393.2,304 394.2,304 395.2,304.1 396.2,304.1 397.2,304.2 398.2,304.2 399.2,304.3 400.2,304.4 401.2,304.5 402.2,304.7 403.2,304.8 404.2,304.9 405.2,305.1 406.2,305.2 407.2,305.4 408.2,305.6 409.2,305.7 410.2,305.9 411.2,306.1 412.2,306.3 413.2,306.5 414.2,306.7 415.2,306.9 416.2,307.1 417.2,307.3 418.2,307.5 419.2,307.7 420.2,307.9 421.2,308.1 422.2,308.3 423.2,308.5 424.2,308.7 425.2,308.9 426.2,309.1 427.2,309.2 428.2,309.4 429.2,309.6 430.2,309.8 431.2,309.9 432.2,310.1 433.2,310.3 434.2,310.4 435.2,310.6 436.2,310.7 437.2,310.9 438.2,311 439.2,311.1 440.2,311.2 441.2,311.4 442.2,311.5 443.2,311.6 444.2,311.7 445.2,311.8 446.2,311.9 447.2,311.9 448.2,312 449.2,312.1 450.2,312.2 451.2,312.2 452.2,312.3 453.2,312.4 454.2,312.4 455.2,312.5 456.2,312.5 457.2,312.6 458.2,312.6 459.2,312.7 460.2,312.7 461.2,312.7 462.2,312.8 463.2,312.8 464.2,312.8 465.2,312.8 466.2,312.9 467.2,312.9 468.2,312.9 469.2,312.9 470.2,312.9 471.2,313 472.2,313 473.2,313 474.2,313 475.2,313 476.2,313 477.2,313 478.2,313 479.2,313 480.2,313.1 481.2,313.1 482.2,313.1 483.2,313.1 484.2,313.1" fill="none" stroke="#22b877" stroke-width="1.5" stroke-linejoin="round" stroke-linecap="round"/><polyline points="381.2,313.1 382.2,313.1 383.2,313.1 384.2,313.1 385.2,313 386.2,313 387.2,313 388.2,313 389.2,313 390.2,312.9 391.2,312.9 392.2,312.9 393.2,312.8 394.2,312.8 395.2,312.7 396.2,312.7 397.2,312.6 398.2,312.5 399.2,312.4 400.2,312.3 401.2,312.2 402.2,312 403.2,311.8 404.2,311.6 405.2,311.4 406.2,311.2 407.2,310.9 408.2,310.6 409.2,310.3 410.2,310 411.2,309.6 412.2,309.2 413.2,308.8 414.2,308.3 415.2,307.9 416.2,307.4 417.2,306.9 418.2,306.4 419.2,305.9 420.2,305.4 421.2,304.8 422.2,304.3 423.2,303.8 424.2,303.4 425.2,302.9 426.2,302.5 427.2,302.1 428.2,301.8 429.2,301.5 430.2,301.3 431.2,301.1 432.2,301 433.2,301 434.2,301 435.2,301.1 436.2,301.2 437.2,301.3 438.2,301.5 439.2,301.7 440.2,301.9 441.2,302.2 442.2,302.4 443.2,302.8 444.2,303.1 445.2,303.4 446.2,303.8 447.2,304.2 448.2,304.6 449.2,305 450.2,305.4 451.2,305.8 452.2,306.2 453.2,306.6 454.2,307 455.2,307.4 456.2,307.7 457.2,308.1 458.2,308.5 459.2,308.8 460.2,309.1 461.2,309.5 462.2,309.7 463.2,310 464.2,310.3 465.2,310.5 466.2,310.8 467.2,311 468.2,311.2 469.2,311.4 470.2,311.6 471.2,311.7 472.2,311.9 473.2,312 474.2,312.1 475.2,312.2 476.2,312.3 477.2,312.4 478.2,312.5 479.2,312.6 480.2,312.6 481.2,312.7 482.2,312.7 483.2,312.8 484.2,312.8 485.2,312.9 486.2,312.9 487.2,312.9 488.2,312.9 489.2,313 490.2,313 491.2,313 492.2,313 493.2,313 494.2,313 495.2,313 496.2,313.1 497.2,313.1 498.2,313.1 499.2,313.1 500.2,313.1" fill="none" stroke="#2f6fe0" stroke-width="1.5" stroke-linejoin="round" stroke-linecap="round"/><polyline points="333.2,313.1 334.2,313.1 335.2,313.1 336.2,313.1 337.2,313.1 338.2,313.1 339.2,313.1 340.2,313.1 341.2,313.1 342.2,313.1 343.2,313.1 344.2,313.1 345.2,313.1 346.2,313.1 347.2,313 348.2,313 349.2,313 350.2,313 351.2,313 352.2,313 353.2,313 354.2,313 355.2,313 356.2,313 357.2,313 358.2,313 359.2,313 360.2,313 361.2,313 362.2,313 363.2,313 364.2,313 365.2,313 366.2,313 367.2,313 368.2,313 369.2,313 370.2,312.9 371.2,312.9 372.2,312.9 373.2,312.9 374.2,312.9 375.2,312.9 376.2,312.9 377.2,312.9 378.2,312.8 379.2,312.8 380.2,312.8 381.2,312.8 382.2,312.8 383.2,312.7 384.2,312.7 385.2,312.7 386.2,312.7 387.2,312.6 388.2,312.6 389.2,312.6 390.2,312.5 391.2,312.5 392.2,312.4 393.2,312.4 394.2,312.3 395.2,312.2 396.2,312.2 397.2,312.1 398.2,312 399.2,311.9 400.2,311.8 401.2,311.7 402.2,311.6 403.2,311.5 404.2,311.4 405.2,311.3 406.2,311.1 407.2,311 408.2,310.8 409.2,310.7 410.2,310.5 411.2,310.3 412.2,310.1 413.2,309.9 414.2,309.7 415.2,309.5 416.2,309.3 417.2,309 418.2,308.8 419.2,308.5 420.2,308.2 421.2,307.9 422.2,307.6 423.2,307.3 424.2,307 425.2,306.7 426.2,306.4 427.2,306.1 428.2,305.7 429.2,305.4 430.2,305 431.2,304.7 432.2,304.3 433.2,304 434.2,303.6 435.2,303.3 436.2,302.9 437.2,302.5 438.2,302.2 439.2,301.8 440.2,301.5 441.2,301.2 442.2,300.8 443.2,300.5 444.2,300.2 445.2,299.9 446.2,299.7 447.2,299.4 448.2,299.2 449.2,299 450.2,298.8 451.2,298.6 452.2,298.4 453.2,298.3 454.2,298.2 455.2,298.1 456.2,298 457.2,298 458.2,298 459.2,298 460.2,298.1 461.2,298.3 462.2,298.4 463.2,298.7 464.2,298.9 465.2,299.2 466.2,299.6 467.2,299.9 468.2,300.3 469.2,300.8 470.2,301.2 471.2,301.7 472.2,302.2 473.2,302.6 474.2,303.1 475.2,303.6 476.2,304.1 477.2,304.6 478.2,305.1 479.2,305.6 480.2,306.1 481.2,306.5 482.2,307 483.2,307.4 484.2,307.8 485.2,308.2 486.2,308.6 487.2,308.9 488.2,309.3 489.2,309.6 490.2,309.9 491.2,310.2 492.2,310.4 493.2,310.7 494.2,310.9 495.2,311.1 496.2,311.3 497.2,311.5 498.2,311.6 499.2,311.8 500.2,311.9 501.2,312 502.2,312.1 503.2,312.2 504.2,312.3 505.2,312.4 506.2,312.5 507.2,312.5 508.2,312.6 509.2,312.6 510.2,312.7 511.2,312.7 512.2,312.8 513.2,312.8 514.2,312.8 515.2,312.8 516.2,312.9 517.2,312.9 518.2,312.9 519.2,312.9 520.2,312.9 521.2,312.9 522.2,313 523.2,313 524.2,313 525.2,313 526.2,313 527.2,313 528.2,313 529.2,313 530.2,313 531.2,313 532.2,313 533.2,313" fill="none" stroke="#f0403c" stroke-width="1.5" stroke-linejoin="round" stroke-linecap="round"/><polyline points="309.2,313.2 533.5,313.2" fill="none" stroke="#b889e8" stroke-width="1.5" stroke-linejoin="round" stroke-linecap="round"/><polyline points="309.2,312.9 310.2,312.9 311.2,312.9 312.2,312.9 313.2,312.8 314.2,312.8 315.2,312.8 316.2,312.8 317.2,312.8 318.2,312.7 319.2,312.7 320.2,312.7 321.2,312.7 322.2,312.6 323.2,312.6 324.2,312.5 325.2,312.5 326.2,312.5 327.2,312.4 328.2,312.4 329.2,312.3 330.2,312.3 331.2,312.2 332.2,312.1 333.2,312.1 334.2,312 335.2,311.9 336.2,311.8 337.2,311.7 338.2,311.7 339.2,311.6 340.2,311.5 341.2,311.4 342.2,311.2 343.2,311.1 344.2,311 345.2,310.9 346.2,310.7 347.2,310.6 348.2,310.5 349.2,310.3 350.2,310.2 351.2,310 352.2,309.8 353.2,309.7 354.2,309.5 355.2,309.3 356.2,309.1 357.2,308.9 358.2,308.7 359.2,308.5 360.2,308.3 361.2,308.1 362.2,307.9 363.2,307.7 364.2,307.5 365.2,307.3 366.2,307.1 367.2,306.9 368.2,306.7 369.2,306.5 370.2,306.3 371.2,306.1 372.2,305.8 373.2,305.6 374.2,305.4 375.2,305.3 376.2,305.1 377.2,304.9 378.2,304.7 379.2,304.5 380.2,304.4 381.2,304.2 382.2,304 383.2,303.9 384.2,303.8 385.2,303.6 386.2,303.5 387.2,303.4 388.2,303.3 389.2,303.2 390.2,303.1 391.2,303 392.2,302.9 393.2,302.8 394.2,302.7 395.2,302.6 396.2,302.6 397.2,302.5 398.2,302.4 399.2,302.3 400.2,302.2 401.2,302 402.2,301.9 403.2,301.7 404.2,301.6 405.2,301.4 406.2,301.1 407.2,300.9 408.2,300.6 409.2,300.3 410.2,300 411.2,299.6 412.2,299.2 413.2,298.8 414.2,298.3 415.2,297.8 416.2,297.3 417.2,296.8 418.2,296.2 419.2,295.7 420.2,295.1 421.2,294.5 422.2,293.9 423.2,293.3 424.2,292.7 425.2,292.1 426.2,291.6 427.2,291.1 428.2,290.6 429.2,290.1 430.2,289.7 431.2,289.4 432.2,289.1 433.2,288.8 434.2,288.7 435.2,288.5 436.2,288.4 437.2,288.3 438.2,288.2 439.2,288.2 440.2,288.2 441.2,288.3 442.2,288.4 443.2,288.5 444.2,288.6 445.2,288.8 446.2,289 447.2,289.2 448.2,289.4 449.2,289.7 450.2,289.9 451.2,290.2 452.2,290.5 453.2,290.9 454.2,291.2 455.2,291.6 456.2,291.9 457.2,292.3 458.2,292.7 459.2,293.1 460.2,293.6 461.2,294 462.2,294.5 463.2,295.1 464.2,295.6 465.2,296.2 466.2,296.8 467.2,297.4 468.2,298 469.2,298.7 470.2,299.3 471.2,300 472.2,300.6 473.2,301.2 474.2,301.9 475.2,302.5 476.2,303.1 477.2,303.7 478.2,304.2 479.2,304.8 480.2,305.4 481.2,305.9 482.2,306.4 483.2,306.9 484.2,307.3 485.2,307.8 486.2,308.2 487.2,308.6 488.2,308.9 489.2,309.3 490.2,309.6 491.2,309.9 492.2,310.2 493.2,310.4 494.2,310.7 495.2,310.9 496.2,311.1 497.2,311.3 498.2,311.4 499.2,311.6 500.2,311.7 501.2,311.8 502.2,312 503.2,312.1 504.2,312.1 505.2,312.2 506.2,312.3 507.2,312.4 508.2,312.4 509.2,312.5 510.2,312.5 511.2,312.6 512.2,312.6 513.2,312.6 514.2,312.7 515.2,312.7 516.2,312.7 517.2,312.8 518.2,312.8 519.2,312.8 520.2,312.8 521.2,312.8 522.2,312.8 523.2,312.8 524.2,312.9 525.2,312.9 526.2,312.9 527.2,312.9 528.2,312.9 529.2,312.9 530.2,312.9 531.2,312.9 532.2,312.9 533.2,312.9" fill="none" stroke="#d09a1c" stroke-width="2.0" stroke-linejoin="round" stroke-linecap="round"/><polyline points="309.2,347.7 310.2,347.4 311.2,347.8 312.2,347.9 313.2,347.9 314.2,347.2 315.2,347.4 316.2,347.7 317.2,348.1 318.2,347.1 319.2,347.7 320.2,347.8 321.2,347.9 322.2,347.4 323.2,347.8 324.2,347.5 325.2,347.9 326.2,347 327.2,347.9 328.2,347.4 329.2,347.3 330.2,347 331.2,347.1 332.2,347.6 333.2,347.5 334.2,346.9 335.2,347.1 336.2,346.9 337.2,346.9 338.2,346.9 339.2,347 340.2,347.6 341.2,347.5 342.2,347.3 343.2,346.9 344.2,346.9 345.2,347.1 346.2,347.2 347.2,347 348.2,346.8 349.2,346.3 350.2,346.7 351.2,346.8 352.2,346.7 353.2,345.9 354.2,346.5 355.2,346 356.2,345.8 357.2,346.5 358.2,346.1 359.2,346.1 360.2,345.4 361.2,346 362.2,346 363.2,345.9 364.2,345.6 365.2,345.6 366.2,345.4 367.2,345.1 368.2,344.8 369.2,345.1 370.2,345 371.2,344.9 372.2,344.2 373.2,344.8 374.2,344.2 375.2,344.5 376.2,343.5 377.2,344.2 378.2,343.9 379.2,343.2 380.2,343.7 381.2,342.9 382.2,342.7 383.2,342.8 384.2,342.5 385.2,342.6 386.2,342.8 387.2,342.4 388.2,342.3 389.2,341.8 390.2,342 391.2,341.8 392.2,341.5 393.2,341.5 394.2,341.2 395.2,340.5 396.2,340 397.2,340.3 398.2,340.3 399.2,339.5 400.2,339.5 401.2,339.5 402.2,339.1 403.2,338.1 404.2,338.2 405.2,337.5 406.2,337.2 407.2,337.6 408.2,336.8 409.2,336.7 410.2,336.2 411.2,335.7 412.2,335.1 413.2,334.9 414.2,335 415.2,334.3 416.2,333.6 417.2,332.9 418.2,332.7 419.2,332.6 420.2,331.9 421.2,331.7 422.2,331.4 423.2,330.2 424.2,330.3 425.2,329.2 426.2,329.5 427.2,328.4 428.2,328 429.2,328.2 430.2,327.2 431.2,326.6 432.2,326.8 433.2,326.1 434.2,325.9 435.2,325 436.2,324.7 437.2,324.7 438.2,323.9 439.2,323.9 440.2,322.7 441.2,323 442.2,322 443.2,322 444.2,321.1 445.2,321 446.2,321.4 447.2,320.7 448.2,320.8 449.2,320 450.2,319.9 451.2,319.4 452.2,319.7 453.2,319.9 454.2,319.5 455.2,319.3 456.2,319.8 457.2,319.8 458.2,319.6 459.2,319.1 460.2,319.8 461.2,319.8 462.2,320.5 463.2,320.1 464.2,320.8 465.2,321.1 466.2,321.3 467.2,322 468.2,322.7 469.2,323.6 470.2,323.9 471.2,324.5 472.2,325.9 473.2,325.8 474.2,327.4 475.2,328.1 476.2,328.8 477.2,329.6 478.2,330.7 479.2,331.8 480.2,332.5 481.2,333.4 482.2,333.5 483.2,334.6 484.2,335.2 485.2,336.8 486.2,337.5 487.2,337.5 488.2,338.7 489.2,339.3 490.2,339.4 491.2,340.4 492.2,341.3 493.2,341.8 494.2,341.9 495.2,342.9 496.2,342.8 497.2,343.5 498.2,343.8 499.2,344.7 500.2,344.7 501.2,345.1 502.2,345.3 503.2,345.2 504.2,346 505.2,346 506.2,346.1 507.2,345.9 508.2,345.9 509.2,346.5 510.2,346.9 511.2,346.9 512.2,346.6 513.2,346.5 514.2,346.9 515.2,347.4 516.2,346.7 517.2,347.3 518.2,346.8 519.2,347 520.2,346.8 521.2,347.1 522.2,347.2 523.2,347.8 524.2,347.8 525.2,347.1 526.2,347.2 527.2,347.9 528.2,347.1 529.2,347.3 530.2,347.4 531.2,347.1 532.2,347.3 533.2,347.4" fill="none" stroke="#555555" stroke-width="1.4" stroke-linejoin="round" stroke-linecap="round"/><polyline points="318.2,347.8 319.2,347.8 320.2,347.8 321.2,347.8 322.2,347.7 323.2,347.7 324.2,347.7 325.2,347.7 326.2,347.7 327.2,347.7 328.2,347.7 329.2,347.6 330.2,347.6 331.2,347.6 332.2,347.6 333.2,347.6 334.2,347.5 335.2,347.5 336.2,347.5 337.2,347.4 338.2,347.4 339.2,347.4 340.2,347.3 341.2,347.3 342.2,347.3 343.2,347.2 344.2,347.2 345.2,347.1 346.2,347.1 347.2,347 348.2,347 349.2,346.9 350.2,346.9 351.2,346.8 352.2,346.7 353.2,346.7 354.2,346.6 355.2,346.5 356.2,346.5 357.2,346.4 358.2,346.3 359.2,346.2 360.2,346.1 361.2,346.1 362.2,346 363.2,345.9 364.2,345.8 365.2,345.7 366.2,345.6 367.2,345.6 368.2,345.5 369.2,345.4 370.2,345.3 371.2,345.2 372.2,345.1 373.2,345 374.2,344.9 375.2,344.9 376.2,344.8 377.2,344.7 378.2,344.6 379.2,344.5 380.2,344.5 381.2,344.4 382.2,344.3 383.2,344.3 384.2,344.2 385.2,344.2 386.2,344.1 387.2,344.1 388.2,344 389.2,344 390.2,344 391.2,343.9 392.2,343.9 393.2,343.9 394.2,343.9 395.2,343.9 396.2,343.9 397.2,343.9 398.2,343.9 399.2,344 400.2,344 401.2,344 402.2,344 403.2,344.1 404.2,344.1 405.2,344.2 406.2,344.2 407.2,344.3 408.2,344.4 409.2,344.4 410.2,344.5 411.2,344.6 412.2,344.7 413.2,344.7 414.2,344.8 415.2,344.9 416.2,345 417.2,345.1 418.2,345.2 419.2,345.2 420.2,345.3 421.2,345.4 422.2,345.5 423.2,345.6 424.2,345.7 425.2,345.8 426.2,345.8 427.2,345.9 428.2,346 429.2,346.1 430.2,346.2 431.2,346.3 432.2,346.3 433.2,346.4 434.2,346.5 435.2,346.6 436.2,346.6 437.2,346.7 438.2,346.8 439.2,346.8 440.2,346.9 441.2,346.9 442.2,347 443.2,347 444.2,347.1 445.2,347.1 446.2,347.2 447.2,347.2 448.2,347.3 449.2,347.3 450.2,347.4 451.2,347.4 452.2,347.4 453.2,347.5 454.2,347.5 455.2,347.5 456.2,347.5 457.2,347.6 458.2,347.6 459.2,347.6 460.2,347.6 461.2,347.6 462.2,347.7 463.2,347.7 464.2,347.7 465.2,347.7 466.2,347.7 467.2,347.7 468.2,347.7 469.2,347.8 470.2,347.8 471.2,347.8" fill="none" stroke="#22b877" stroke-width="1.5" stroke-linejoin="round" stroke-linecap="round"/><polyline points="358.2,347.8 359.2,347.8 360.2,347.8 361.2,347.8 362.2,347.7 363.2,347.7 364.2,347.7 365.2,347.7 366.2,347.7 367.2,347.7 368.2,347.7 369.2,347.6 370.2,347.6 371.2,347.6 372.2,347.6 373.2,347.6 374.2,347.5 375.2,347.5 376.2,347.4 377.2,347.4 378.2,347.4 379.2,347.3 380.2,347.3 381.2,347.2 382.2,347.1 383.2,347.1 384.2,347 385.2,346.9 386.2,346.8 387.2,346.7 388.2,346.6 389.2,346.5 390.2,346.4 391.2,346.3 392.2,346.2 393.2,346 394.2,345.9 395.2,345.8 396.2,345.6 397.2,345.4 398.2,345.3 399.2,345.1 400.2,344.9 401.2,344.7 402.2,344.5 403.2,344.3 404.2,344.1 405.2,343.9 406.2,343.6 407.2,343.4 408.2,343.2 409.2,343 410.2,342.7 411.2,342.5 412.2,342.3 413.2,342 414.2,341.8 415.2,341.6 416.2,341.4 417.2,341.1 418.2,340.9 419.2,340.7 420.2,340.5 421.2,340.4 422.2,340.2 423.2,340 424.2,339.9 425.2,339.8 426.2,339.6 427.2,339.5 428.2,339.5 429.2,339.4 430.2,339.3 431.2,339.3 432.2,339.3 433.2,339.3 434.2,339.3 435.2,339.4 436.2,339.4 437.2,339.4 438.2,339.5 439.2,339.6 440.2,339.7 441.2,339.8 442.2,339.9 443.2,340 444.2,340.1 445.2,340.3 446.2,340.4 447.2,340.5 448.2,340.7 449.2,340.9 450.2,341 451.2,341.2 452.2,341.4 453.2,341.6 454.2,341.7 455.2,341.9 456.2,342.1 457.2,342.3 458.2,342.5 459.2,342.7 460.2,342.9 461.2,343.1 462.2,343.3 463.2,343.4 464.2,343.6 465.2,343.8 466.2,344 467.2,344.2 468.2,344.3 469.2,344.5 470.2,344.7 471.2,344.8 472.2,345 473.2,345.1 474.2,345.3 475.2,345.4 476.2,345.5 477.2,345.7 478.2,345.8 479.2,345.9 480.2,346 481.2,346.1 482.2,346.2 483.2,346.3 484.2,346.4 485.2,346.5 486.2,346.6 487.2,346.7 488.2,346.8 489.2,346.9 490.2,346.9 491.2,347 492.2,347.1 493.2,347.1 494.2,347.2 495.2,347.2 496.2,347.3 497.2,347.3 498.2,347.3 499.2,347.4 500.2,347.4 501.2,347.5 502.2,347.5 503.2,347.5 504.2,347.5 505.2,347.6 506.2,347.6 507.2,347.6 508.2,347.6 509.2,347.6 510.2,347.7 511.2,347.7 512.2,347.7 513.2,347.7 514.2,347.7 515.2,347.7 516.2,347.7 517.2,347.7 518.2,347.7 519.2,347.8 520.2,347.8 521.2,347.8 522.2,347.8 523.2,347.8" fill="none" stroke="#2f6fe0" stroke-width="1.5" stroke-linejoin="round" stroke-linecap="round"/><polyline points="309.2,347.8 310.2,347.8 311.2,347.8 312.2,347.8 313.2,347.8 314.2,347.8 315.2,347.8 316.2,347.8 317.2,347.8 318.2,347.8 319.2,347.8 320.2,347.8 321.2,347.8 322.2,347.8 323.2,347.8 324.2,347.7 325.2,347.7 326.2,347.7 327.2,347.7 328.2,347.7 329.2,347.7 330.2,347.7 331.2,347.7 332.2,347.7 333.2,347.7 334.2,347.7 335.2,347.7 336.2,347.7 337.2,347.7 338.2,347.7 339.2,347.7 340.2,347.7 341.2,347.7 342.2,347.7 343.2,347.7 344.2,347.7 345.2,347.7 346.2,347.7 347.2,347.7 348.2,347.7 349.2,347.7 350.2,347.7 351.2,347.7 352.2,347.7 353.2,347.7 354.2,347.7 355.2,347.7 356.2,347.6 357.2,347.6 358.2,347.6 359.2,347.6 360.2,347.6 361.2,347.6 362.2,347.6 363.2,347.6 364.2,347.6 365.2,347.6 366.2,347.6 367.2,347.6 368.2,347.6 369.2,347.6 370.2,347.6 371.2,347.5 372.2,347.5 373.2,347.5 374.2,347.5 375.2,347.5 376.2,347.5 377.2,347.5 378.2,347.5 379.2,347.4 380.2,347.4 381.2,347.4 382.2,347.4 383.2,347.3 384.2,347.3 385.2,347.3 386.2,347.3 387.2,347.2 388.2,347.2 389.2,347.1 390.2,347.1 391.2,347 392.2,347 393.2,346.9 394.2,346.9 395.2,346.8 396.2,346.7 397.2,346.6 398.2,346.5 399.2,346.4 400.2,346.3 401.2,346.2 402.2,346.1 403.2,346 404.2,345.8 405.2,345.7 406.2,345.5 407.2,345.4 408.2,345.2 409.2,345 410.2,344.8 411.2,344.6 412.2,344.3 413.2,344.1 414.2,343.8 415.2,343.5 416.2,343.2 417.2,342.9 418.2,342.6 419.2,342.3 420.2,341.9 421.2,341.6 422.2,341.2 423.2,340.8 424.2,340.4 425.2,339.9 426.2,339.5 427.2,339 428.2,338.6 429.2,338.1 430.2,337.6 431.2,337.1 432.2,336.6 433.2,336.1 434.2,335.5 435.2,335 436.2,334.5 437.2,333.9 438.2,333.4 439.2,332.8 440.2,332.3 441.2,331.8 442.2,331.2 443.2,330.7 444.2,330.2 445.2,329.7 446.2,329.2 447.2,328.7 448.2,328.3 449.2,327.9 450.2,327.4 451.2,327.1 452.2,326.7 453.2,326.4 454.2,326.1 455.2,325.8 456.2,325.5 457.2,325.3 458.2,325.2 459.2,325.1 460.2,325 461.2,324.9 462.2,324.9 463.2,325 464.2,325.1 465.2,325.3 466.2,325.6 467.2,325.9 468.2,326.3 469.2,326.8 470.2,327.3 471.2,327.8 472.2,328.4 473.2,329.1 474.2,329.8 475.2,330.5 476.2,331.2 477.2,331.9 478.2,332.7 479.2,333.4 480.2,334.2 481.2,334.9 482.2,335.7 483.2,336.4 484.2,337.1 485.2,337.8 486.2,338.5 487.2,339.1 488.2,339.8 489.2,340.4 490.2,340.9 491.2,341.5 492.2,342 493.2,342.5 494.2,342.9 495.2,343.3 496.2,343.7 497.2,344.1 498.2,344.4 499.2,344.7 500.2,345 501.2,345.3 502.2,345.5 503.2,345.8 504.2,346 505.2,346.1 506.2,346.3 507.2,346.4 508.2,346.6 509.2,346.7 510.2,346.8 511.2,346.9 512.2,347 513.2,347.1 514.2,347.1 515.2,347.2 516.2,347.2 517.2,347.3 518.2,347.3 519.2,347.4 520.2,347.4 521.2,347.4 522.2,347.4 523.2,347.5 524.2,347.5 525.2,347.5 526.2,347.5 527.2,347.5 528.2,347.6 529.2,347.6 530.2,347.6 531.2,347.6 532.2,347.6 533.2,347.6" fill="none" stroke="#f0403c" stroke-width="1.5" stroke-linejoin="round" stroke-linecap="round"/><polyline points="309.2,347.9 533.5,347.9" fill="none" stroke="#b889e8" stroke-width="1.5" stroke-linejoin="round" stroke-linecap="round"/><polyline points="309.2,347.7 310.2,347.7 311.2,347.7 312.2,347.6 313.2,347.6 314.2,347.6 315.2,347.6 316.2,347.6 317.2,347.6 318.2,347.6 319.2,347.6 320.2,347.6 321.2,347.6 322.2,347.5 323.2,347.5 324.2,347.5 325.2,347.5 326.2,347.5 327.2,347.5 328.2,347.4 329.2,347.4 330.2,347.4 331.2,347.4 332.2,347.4 333.2,347.3 334.2,347.3 335.2,347.3 336.2,347.2 337.2,347.2 338.2,347.2 339.2,347.1 340.2,347.1 341.2,347 342.2,347 343.2,347 344.2,346.9 345.2,346.8 346.2,346.8 347.2,346.7 348.2,346.7 349.2,346.6 350.2,346.5 351.2,346.5 352.2,346.4 353.2,346.3 354.2,346.3 355.2,346.2 356.2,346.1 357.2,346 358.2,345.9 359.2,345.8 360.2,345.7 361.2,345.6 362.2,345.6 363.2,345.4 364.2,345.3 365.2,345.2 366.2,345.1 367.2,345 368.2,344.9 369.2,344.8 370.2,344.7 371.2,344.6 372.2,344.4 373.2,344.3 374.2,344.2 375.2,344 376.2,343.9 377.2,343.8 378.2,343.6 379.2,343.5 380.2,343.3 381.2,343.2 382.2,343 383.2,342.9 384.2,342.7 385.2,342.6 386.2,342.4 387.2,342.2 388.2,342 389.2,341.9 390.2,341.7 391.2,341.5 392.2,341.3 393.2,341.1 394.2,340.9 395.2,340.6 396.2,340.4 397.2,340.2 398.2,339.9 399.2,339.7 400.2,339.4 401.2,339.1 402.2,338.9 403.2,338.6 404.2,338.3 405.2,337.9 406.2,337.6 407.2,337.3 408.2,336.9 409.2,336.6 410.2,336.2 411.2,335.8 412.2,335.4 413.2,335 414.2,334.6 415.2,334.2 416.2,333.8 417.2,333.3 418.2,332.9 419.2,332.4 420.2,332 421.2,331.5 422.2,331.1 423.2,330.6 424.2,330.1 425.2,329.7 426.2,329.2 427.2,328.7 428.2,328.2 429.2,327.8 430.2,327.3 431.2,326.9 432.2,326.4 433.2,326 434.2,325.6 435.2,325.1 436.2,324.7 437.2,324.3 438.2,323.9 439.2,323.5 440.2,323.1 441.2,322.7 442.2,322.3 443.2,322 444.2,321.6 445.2,321.3 446.2,321 447.2,320.7 448.2,320.5 449.2,320.2 450.2,320 451.2,319.8 452.2,319.7 453.2,319.6 454.2,319.5 455.2,319.4 456.2,319.4 457.2,319.4 458.2,319.5 459.2,319.5 460.2,319.7 461.2,319.8 462.2,320 463.2,320.3 464.2,320.6 465.2,321 466.2,321.5 467.2,322 468.2,322.6 469.2,323.2 470.2,323.9 471.2,324.6 472.2,325.4 473.2,326.2 474.2,327 475.2,327.9 476.2,328.7 477.2,329.6 478.2,330.5 479.2,331.4 480.2,332.2 481.2,333.1 482.2,334 483.2,334.8 484.2,335.6 485.2,336.4 486.2,337.2 487.2,337.9 488.2,338.6 489.2,339.3 490.2,339.9 491.2,340.5 492.2,341.1 493.2,341.6 494.2,342.1 495.2,342.6 496.2,343 497.2,343.5 498.2,343.8 499.2,344.2 500.2,344.5 501.2,344.8 502.2,345.1 503.2,345.3 504.2,345.6 505.2,345.8 506.2,345.9 507.2,346.1 508.2,346.3 509.2,346.4 510.2,346.5 511.2,346.6 512.2,346.7 513.2,346.8 514.2,346.9 515.2,347 516.2,347 517.2,347.1 518.2,347.1 519.2,347.2 520.2,347.2 521.2,347.3 522.2,347.3 523.2,347.3 524.2,347.4 525.2,347.4 526.2,347.4 527.2,347.4 528.2,347.4 529.2,347.5 530.2,347.5 531.2,347.5 532.2,347.5 533.2,347.5" fill="none" stroke="#d09a1c" stroke-width="2.0" stroke-linejoin="round" stroke-linecap="round"/><polyline points="309.2,378 310.2,378.6 311.2,377.8 312.2,377.8 313.2,378.5 314.2,378 315.2,378.4 316.2,378.1 317.2,378.3 318.2,377.8 319.2,377.6 320.2,378.2 321.2,377.9 322.2,377.9 323.2,378 324.2,378.1 325.2,377.6 326.2,377.6 327.2,378.1 328.2,377.7 329.2,377.4 330.2,377.7 331.2,377.3 332.2,377.8 333.2,377 334.2,377.7 335.2,377.4 336.2,377.1 337.2,377.6 338.2,376.9 339.2,376.8 340.2,376.5 341.2,376.9 342.2,377 343.2,376.9 344.2,376.5 345.2,376.8 346.2,376 347.2,376.1 348.2,376.4 349.2,376.6 350.2,376.1 351.2,376.1 352.2,376 353.2,375.5 354.2,375.9 355.2,375.6 356.2,375.1 357.2,375 358.2,375.3 359.2,374.7 360.2,374.3 361.2,374.9 362.2,374.4 363.2,374.2 364.2,374.2 365.2,374.3 366.2,373.4 367.2,373.5 368.2,373 369.2,373.2 370.2,373.2 371.2,373.4 372.2,373 373.2,372.8 374.2,372.5 375.2,372.5 376.2,372 377.2,372.5 378.2,372.3 379.2,372.2 380.2,371.3 381.2,371.7 382.2,371.7 383.2,371.3 384.2,371.6 385.2,371.4 386.2,371.2 387.2,371.1 388.2,370.8 389.2,370.9 390.2,370 391.2,370.5 392.2,370.4 393.2,370.1 394.2,369.7 395.2,369.3 396.2,369.7 397.2,369.8 398.2,369.1 399.2,368.9 400.2,368.8 401.2,368.5 402.2,368.9 403.2,369 404.2,368.7 405.2,368 406.2,368.2 407.2,367.4 408.2,367.9 409.2,367.2 410.2,366.6 411.2,367 412.2,366.2 413.2,366.1 414.2,365.6 415.2,365.7 416.2,365.5 417.2,365.4 418.2,364.3 419.2,364.8 420.2,363.7 421.2,363.5 422.2,363.5 423.2,362.8 424.2,362.5 425.2,362.3 426.2,361.6 427.2,361.8 428.2,360.8 429.2,361.1 430.2,360.7 431.2,360 432.2,359.1 433.2,359.5 434.2,358.4 435.2,358.6 436.2,358.1 437.2,357.5 438.2,357.7 439.2,357.5 440.2,357.1 441.2,356.7 442.2,356.6 443.2,356.5 444.2,356 445.2,356.4 446.2,356.4 447.2,356.1 448.2,356.2 449.2,355.5 450.2,356.1 451.2,355.1 452.2,355.5 453.2,355.1 454.2,355.5 455.2,355.7 456.2,355.8 457.2,355.6 458.2,355.6 459.2,355.6 460.2,355.9 461.2,355.9 462.2,356 463.2,356.7 464.2,356.7 465.2,356.9 466.2,357 467.2,357.8 468.2,357.7 469.2,358.2 470.2,359 471.2,359.7 472.2,360.5 473.2,360.8 474.2,361.7 475.2,362.3 476.2,362.7 477.2,363.4 478.2,363.4 479.2,364.2 480.2,364.7 481.2,366.2 482.2,366.7 483.2,367.3 484.2,367.6 485.2,368.3 486.2,368.8 487.2,369.8 488.2,370.8 489.2,370.6 490.2,370.9 491.2,371.6 492.2,372.2 493.2,373.2 494.2,373.6 495.2,373.6 496.2,373.7 497.2,374 498.2,374.4 499.2,375.3 500.2,375.3 501.2,376.1 502.2,376.3 503.2,376.4 504.2,376.3 505.2,376.8 506.2,376.3 507.2,376.4 508.2,377 509.2,377.1 510.2,376.9 511.2,377 512.2,376.9 513.2,377.8 514.2,377.7 515.2,378 516.2,378.1 517.2,377.6 518.2,378 519.2,377.7 520.2,378.1 521.2,378.2 522.2,377.5 523.2,377.4 524.2,377.6 525.2,378 526.2,377.8 527.2,377.5 528.2,378.3 529.2,378.3 530.2,378 531.2,377.6 532.2,378.4 533.2,378.1" fill="none" stroke="#555555" stroke-width="1.4" stroke-linejoin="round" stroke-linecap="round"/><polyline points="309.2,378.3 310.2,378.2 311.2,378.2 312.2,378.2 313.2,378.2 314.2,378.2 315.2,378.2 316.2,378.2 317.2,378.2 318.2,378.1 319.2,378.1 320.2,378.1 321.2,378.1 322.2,378 323.2,378 324.2,378 325.2,378 326.2,377.9 327.2,377.9 328.2,377.9 329.2,377.8 330.2,377.8 331.2,377.7 332.2,377.7 333.2,377.6 334.2,377.6 335.2,377.5 336.2,377.5 337.2,377.4 338.2,377.3 339.2,377.3 340.2,377.2 341.2,377.1 342.2,377 343.2,377 344.2,376.9 345.2,376.8 346.2,376.7 347.2,376.6 348.2,376.5 349.2,376.4 350.2,376.3 351.2,376.2 352.2,376 353.2,375.9 354.2,375.8 355.2,375.7 356.2,375.6 357.2,375.4 358.2,375.3 359.2,375.2 360.2,375 361.2,374.9 362.2,374.8 363.2,374.6 364.2,374.5 365.2,374.4 366.2,374.2 367.2,374.1 368.2,374 369.2,373.8 370.2,373.7 371.2,373.6 372.2,373.4 373.2,373.3 374.2,373.2 375.2,373.1 376.2,373 377.2,372.9 378.2,372.8 379.2,372.7 380.2,372.6 381.2,372.5 382.2,372.5 383.2,372.4 384.2,372.3 385.2,372.3 386.2,372.3 387.2,372.2 388.2,372.2 389.2,372.2 390.2,372.2 391.2,372.2 392.2,372.2 393.2,372.2 394.2,372.3 395.2,372.3 396.2,372.4 397.2,372.4 398.2,372.5 399.2,372.6 400.2,372.6 401.2,372.7 402.2,372.8 403.2,372.9 404.2,373 405.2,373.1 406.2,373.2 407.2,373.4 408.2,373.5 409.2,373.6 410.2,373.7 411.2,373.9 412.2,374 413.2,374.1 414.2,374.3 415.2,374.4 416.2,374.5 417.2,374.7 418.2,374.8 419.2,375 420.2,375.1 421.2,375.2 422.2,375.4 423.2,375.5 424.2,375.6 425.2,375.7 426.2,375.9 427.2,376 428.2,376.1 429.2,376.2 430.2,376.3 431.2,376.4 432.2,376.5 433.2,376.6 434.2,376.7 435.2,376.8 436.2,376.9 437.2,377 438.2,377.1 439.2,377.2 440.2,377.2 441.2,377.3 442.2,377.4 443.2,377.4 444.2,377.5 445.2,377.6 446.2,377.6 447.2,377.7 448.2,377.7 449.2,377.8 450.2,377.8 451.2,377.8 452.2,377.9 453.2,377.9 454.2,377.9 455.2,378 456.2,378 457.2,378 458.2,378.1 459.2,378.1 460.2,378.1 461.2,378.1 462.2,378.1 463.2,378.2 464.2,378.2 465.2,378.2 466.2,378.2 467.2,378.2 468.2,378.2 469.2,378.2 470.2,378.2 471.2,378.3 472.2,378.3 473.2,378.3 474.2,378.3" fill="none" stroke="#22b877" stroke-width="1.5" stroke-linejoin="round" stroke-linecap="round"/><polyline points="353.2,378.3 354.2,378.3 355.2,378.3 356.2,378.3 357.2,378.3 358.2,378.3 359.2,378.2 360.2,378.2 361.2,378.2 362.2,378.2 363.2,378.2 364.2,378.2 365.2,378.2 366.2,378.2 367.2,378.2 368.2,378.2 369.2,378.2 370.2,378.1 371.2,378.1 372.2,378.1 373.2,378.1 374.2,378.1 375.2,378 376.2,378 377.2,378 378.2,377.9 379.2,377.9 380.2,377.9 381.2,377.8 382.2,377.8 383.2,377.7 384.2,377.7 385.2,377.6 386.2,377.5 387.2,377.5 388.2,377.4 389.2,377.3 390.2,377.2 391.2,377.1 392.2,377 393.2,376.9 394.2,376.8 395.2,376.7 396.2,376.5 397.2,376.4 398.2,376.3 399.2,376.1 400.2,375.9 401.2,375.8 402.2,375.6 403.2,375.4 404.2,375.2 405.2,375 406.2,374.8 407.2,374.6 408.2,374.4 409.2,374.2 410.2,374 411.2,373.8 412.2,373.5 413.2,373.3 414.2,373.1 415.2,372.9 416.2,372.6 417.2,372.4 418.2,372.2 419.2,372 420.2,371.8 421.2,371.6 422.2,371.4 423.2,371.2 424.2,371 425.2,370.8 426.2,370.6 427.2,370.5 428.2,370.4 429.2,370.3 430.2,370.1 431.2,370.1 432.2,370 433.2,369.9 434.2,369.9 435.2,369.9 436.2,369.9 437.2,369.9 438.2,370 439.2,370.1 440.2,370.2 441.2,370.4 442.2,370.5 443.2,370.7 444.2,370.9 445.2,371.1 446.2,371.4 447.2,371.6 448.2,371.9 449.2,372.1 450.2,372.4 451.2,372.7 452.2,372.9 453.2,373.2 454.2,373.5 455.2,373.8 456.2,374 457.2,374.3 458.2,374.6 459.2,374.8 460.2,375.1 461.2,375.3 462.2,375.5 463.2,375.7 464.2,375.9 465.2,376.1 466.2,376.3 467.2,376.5 468.2,376.7 469.2,376.8 470.2,376.9 471.2,377.1 472.2,377.2 473.2,377.3 474.2,377.4 475.2,377.5 476.2,377.6 477.2,377.7 478.2,377.7 479.2,377.8 480.2,377.8 481.2,377.9 482.2,377.9 483.2,378 484.2,378 485.2,378 486.2,378.1 487.2,378.1 488.2,378.1 489.2,378.1 490.2,378.2 491.2,378.2 492.2,378.2 493.2,378.2 494.2,378.2 495.2,378.2 496.2,378.2 497.2,378.2 498.2,378.3 499.2,378.3 500.2,378.3 501.2,378.3 502.2,378.3" fill="none" stroke="#2f6fe0" stroke-width="1.5" stroke-linejoin="round" stroke-linecap="round"/><polyline points="324.2,378.3 325.2,378.3 326.2,378.3 327.2,378.3 328.2,378.3 329.2,378.3 330.2,378.3 331.2,378.3 332.2,378.3 333.2,378.3 334.2,378.3 335.2,378.3 336.2,378.3 337.2,378.3 338.2,378.3 339.2,378.2 340.2,378.2 341.2,378.2 342.2,378.2 343.2,378.2 344.2,378.2 345.2,378.2 346.2,378.2 347.2,378.2 348.2,378.2 349.2,378.2 350.2,378.2 351.2,378.2 352.2,378.2 353.2,378.2 354.2,378.2 355.2,378.2 356.2,378.2 357.2,378.2 358.2,378.2 359.2,378.2 360.2,378.2 361.2,378.2 362.2,378.2 363.2,378.2 364.2,378.2 365.2,378.2 366.2,378.2 367.2,378.1 368.2,378.1 369.2,378.1 370.2,378.1 371.2,378.1 372.2,378.1 373.2,378.1 374.2,378.1 375.2,378.1 376.2,378.1 377.2,378.1 378.2,378.1 379.2,378 380.2,378 381.2,378 382.2,378 383.2,378 384.2,378 385.2,377.9 386.2,377.9 387.2,377.9 388.2,377.9 389.2,377.8 390.2,377.8 391.2,377.8 392.2,377.7 393.2,377.7 394.2,377.6 395.2,377.6 396.2,377.5 397.2,377.5 398.2,377.4 399.2,377.4 400.2,377.3 401.2,377.2 402.2,377.1 403.2,377 404.2,376.9 405.2,376.8 406.2,376.7 407.2,376.6 408.2,376.4 409.2,376.3 410.2,376.1 411.2,376 412.2,375.8 413.2,375.6 414.2,375.4 415.2,375.2 416.2,375 417.2,374.8 418.2,374.6 419.2,374.3 420.2,374 421.2,373.8 422.2,373.5 423.2,373.2 424.2,372.8 425.2,372.5 426.2,372.2 427.2,371.8 428.2,371.5 429.2,371.1 430.2,370.7 431.2,370.3 432.2,369.9 433.2,369.5 434.2,369.1 435.2,368.6 436.2,368.2 437.2,367.8 438.2,367.3 439.2,366.9 440.2,366.4 441.2,366 442.2,365.5 443.2,365.1 444.2,364.6 445.2,364.2 446.2,363.8 447.2,363.4 448.2,363 449.2,362.6 450.2,362.2 451.2,361.8 452.2,361.5 453.2,361.2 454.2,360.9 455.2,360.6 456.2,360.4 457.2,360.1 458.2,359.9 459.2,359.8 460.2,359.6 461.2,359.5 462.2,359.5 463.2,359.4 464.2,359.4 465.2,359.4 466.2,359.6 467.2,359.7 468.2,359.9 469.2,360.2 470.2,360.6 471.2,360.9 472.2,361.4 473.2,361.8 474.2,362.3 475.2,362.9 476.2,363.4 477.2,364 478.2,364.6 479.2,365.2 480.2,365.8 481.2,366.5 482.2,367.1 483.2,367.7 484.2,368.3 485.2,368.9 486.2,369.5 487.2,370.1 488.2,370.6 489.2,371.2 490.2,371.7 491.2,372.2 492.2,372.6 493.2,373.1 494.2,373.5 495.2,373.9 496.2,374.3 497.2,374.6 498.2,375 499.2,375.3 500.2,375.5 501.2,375.8 502.2,376 503.2,376.2 504.2,376.4 505.2,376.6 506.2,376.8 507.2,376.9 508.2,377.1 509.2,377.2 510.2,377.3 511.2,377.4 512.2,377.5 513.2,377.6 514.2,377.6 515.2,377.7 516.2,377.8 517.2,377.8 518.2,377.8 519.2,377.9 520.2,377.9 521.2,378 522.2,378 523.2,378 524.2,378 525.2,378 526.2,378.1 527.2,378.1 528.2,378.1 529.2,378.1 530.2,378.1 531.2,378.1 532.2,378.1 533.2,378.1" fill="none" stroke="#f0403c" stroke-width="1.5" stroke-linejoin="round" stroke-linecap="round"/><polyline points="309.2,378.4 533.5,378.4" fill="none" stroke="#b889e8" stroke-width="1.5" stroke-linejoin="round" stroke-linecap="round"/><polyline points="309.2,378.1 310.2,378.1 311.2,378.1 312.2,378.1 313.2,378.1 314.2,378 315.2,378 316.2,378 317.2,378 318.2,378 319.2,377.9 320.2,377.9 321.2,377.9 322.2,377.9 323.2,377.8 324.2,377.8 325.2,377.8 326.2,377.7 327.2,377.7 328.2,377.7 329.2,377.6 330.2,377.6 331.2,377.5 332.2,377.5 333.2,377.4 334.2,377.4 335.2,377.3 336.2,377.2 337.2,377.2 338.2,377.1 339.2,377 340.2,377 341.2,376.9 342.2,376.8 343.2,376.7 344.2,376.6 345.2,376.5 346.2,376.4 347.2,376.3 348.2,376.2 349.2,376.1 350.2,376 351.2,375.9 352.2,375.7 353.2,375.6 354.2,375.5 355.2,375.4 356.2,375.2 357.2,375.1 358.2,375 359.2,374.8 360.2,374.7 361.2,374.5 362.2,374.4 363.2,374.2 364.2,374.1 365.2,373.9 366.2,373.8 367.2,373.6 368.2,373.5 369.2,373.3 370.2,373.2 371.2,373 372.2,372.9 373.2,372.7 374.2,372.6 375.2,372.4 376.2,372.3 377.2,372.1 378.2,372 379.2,371.8 380.2,371.7 381.2,371.6 382.2,371.4 383.2,371.3 384.2,371.2 385.2,371 386.2,370.9 387.2,370.8 388.2,370.7 389.2,370.5 390.2,370.4 391.2,370.3 392.2,370.2 393.2,370 394.2,369.9 395.2,369.8 396.2,369.6 397.2,369.5 398.2,369.4 399.2,369.2 400.2,369.1 401.2,368.9 402.2,368.7 403.2,368.6 404.2,368.4 405.2,368.2 406.2,368 407.2,367.8 408.2,367.6 409.2,367.3 410.2,367.1 411.2,366.8 412.2,366.6 413.2,366.3 414.2,366 415.2,365.7 416.2,365.4 417.2,365.1 418.2,364.8 419.2,364.4 420.2,364.1 421.2,363.7 422.2,363.4 423.2,363 424.2,362.6 425.2,362.3 426.2,361.9 427.2,361.5 428.2,361.1 429.2,360.7 430.2,360.4 431.2,360 432.2,359.6 433.2,359.3 434.2,358.9 435.2,358.5 436.2,358.2 437.2,357.9 438.2,357.6 439.2,357.3 440.2,357.1 441.2,356.8 442.2,356.6 443.2,356.4 444.2,356.2 445.2,356.1 446.2,355.9 447.2,355.8 448.2,355.7 449.2,355.6 450.2,355.6 451.2,355.5 452.2,355.5 453.2,355.5 454.2,355.5 455.2,355.6 456.2,355.6 457.2,355.7 458.2,355.8 459.2,355.9 460.2,356 461.2,356.2 462.2,356.3 463.2,356.5 464.2,356.7 465.2,357 466.2,357.3 467.2,357.6 468.2,358 469.2,358.5 470.2,358.9 471.2,359.5 472.2,360 473.2,360.6 474.2,361.2 475.2,361.8 476.2,362.5 477.2,363.2 478.2,363.8 479.2,364.5 480.2,365.2 481.2,365.9 482.2,366.5 483.2,367.2 484.2,367.8 485.2,368.5 486.2,369.1 487.2,369.7 488.2,370.3 489.2,370.8 490.2,371.4 491.2,371.9 492.2,372.4 493.2,372.8 494.2,373.3 495.2,373.7 496.2,374.1 497.2,374.4 498.2,374.8 499.2,375.1 500.2,375.4 501.2,375.6 502.2,375.9 503.2,376.1 504.2,376.3 505.2,376.5 506.2,376.6 507.2,376.8 508.2,376.9 509.2,377.1 510.2,377.2 511.2,377.3 512.2,377.4 513.2,377.4 514.2,377.5 515.2,377.6 516.2,377.6 517.2,377.7 518.2,377.7 519.2,377.8 520.2,377.8 521.2,377.8 522.2,377.9 523.2,377.9 524.2,377.9 525.2,377.9 526.2,378 527.2,378 528.2,378 529.2,378 530.2,378 531.2,378 532.2,378 533.2,378.1" fill="none" stroke="#d09a1c" stroke-width="2.0" stroke-linejoin="round" stroke-linecap="round"/><polyline points="309.2,407.1 310.2,407.4 311.2,407.6 312.2,407.9 313.2,407.5 314.2,407.6 315.2,407.1 316.2,407.1 317.2,407.7 318.2,407.2 319.2,406.9 320.2,407.3 321.2,406.8 322.2,406.8 323.2,407 324.2,407.1 325.2,407.1 326.2,407.1 327.2,406.7 328.2,406.3 329.2,406.9 330.2,406.1 331.2,406.4 332.2,406.3 333.2,406.4 334.2,406.4 335.2,405.8 336.2,406.1 337.2,406 338.2,405.6 339.2,405.2 340.2,405.8 341.2,405.3 342.2,404.6 343.2,404.6 344.2,405.2 345.2,404.2 346.2,404.2 347.2,404.4 348.2,404.2 349.2,403.8 350.2,403.7 351.2,402.7 352.2,402.6 353.2,403.2 354.2,402.8 355.2,401.7 356.2,401.5 357.2,401.4 358.2,401.8 359.2,400.8 360.2,400.9 361.2,400.8 362.2,400.2 363.2,400.2 364.2,399.2 365.2,398.8 366.2,398.3 367.2,398.7 368.2,397.7 369.2,398.2 370.2,397.6 371.2,396.8 372.2,397 373.2,396 374.2,396.1 375.2,395.3 376.2,395.6 377.2,395.4 378.2,395.1 379.2,393.9 380.2,394.4 381.2,393.8 382.2,393.7 383.2,393.1 384.2,392.9 385.2,392.6 386.2,392.5 387.2,391.5 388.2,391.2 389.2,391.5 390.2,391 391.2,390.8 392.2,390.2 393.2,390.8 394.2,389.9 395.2,390.5 396.2,390.3 397.2,389.8 398.2,389.3 399.2,389.7 400.2,389.1 401.2,389.2 402.2,388.8 403.2,389.6 404.2,389.1 405.2,388.8 406.2,388.5 407.2,389.1 408.2,389.2 409.2,389.2 410.2,388.5 411.2,388.7 412.2,388.7 413.2,389.2 414.2,388.6 415.2,389.1 416.2,389.5 417.2,389.3 418.2,388.7 419.2,388.8 420.2,388.9 421.2,389.6 422.2,389.6 423.2,389.6 424.2,389.7 425.2,389.8 426.2,390.1 427.2,390.3 428.2,390.8 429.2,390.8 430.2,391 431.2,391.3 432.2,391.5 433.2,391.6 434.2,391.1 435.2,392 436.2,392.5 437.2,392.3 438.2,393 439.2,392.6 440.2,393.7 441.2,393.5 442.2,394.1 443.2,394 444.2,394.4 445.2,394.8 446.2,395.1 447.2,395.2 448.2,396 449.2,396.9 450.2,396.9 451.2,397.6 452.2,397.8 453.2,398.2 454.2,398.7 455.2,398.9 456.2,398.7 457.2,399.1 458.2,399.6 459.2,399.6 460.2,400.1 461.2,401.1 462.2,401.5 463.2,401.2 464.2,402 465.2,402.3 466.2,402.7 467.2,402.9 468.2,402.9 469.2,402.7 470.2,403.7 471.2,403.4 472.2,404 473.2,404 474.2,404.4 475.2,405 476.2,404.4 477.2,405 478.2,405.3 479.2,405.3 480.2,405.9 481.2,405.5 482.2,406.2 483.2,406.1 484.2,406.5 485.2,405.7 486.2,406 487.2,406.2 488.2,406.9 489.2,406.1 490.2,406.4 491.2,407 492.2,407.3 493.2,406.6 494.2,406.9 495.2,407.2 496.2,407.3 497.2,407.4 498.2,407.4 499.2,407 500.2,407 501.2,406.8 502.2,407.5 503.2,407.1 504.2,407.2 505.2,407.9 506.2,407.6 507.2,407.6 508.2,407.7 509.2,407.6 510.2,407.7 511.2,407.4 512.2,407.1 513.2,407.2 514.2,407.1 515.2,407.5 516.2,407.3 517.2,407.3 518.2,407.6 519.2,408.1 520.2,407.9 521.2,407.5 522.2,408 523.2,407.4 524.2,407.3 525.2,407.5 526.2,407.6 527.2,407.9 528.2,407.7 529.2,408 530.2,407.3 531.2,408.2 532.2,407.6 533.2,408.1" fill="none" stroke="#555555" stroke-width="1.4" stroke-linejoin="round" stroke-linecap="round"/><polyline points="309.2,407.7 310.2,407.6 311.2,407.6 312.2,407.6 313.2,407.6 314.2,407.5 315.2,407.5 316.2,407.5 317.2,407.4 318.2,407.4 319.2,407.4 320.2,407.3 321.2,407.3 322.2,407.2 323.2,407.2 324.2,407.1 325.2,407.1 326.2,407 327.2,406.9 328.2,406.8 329.2,406.8 330.2,406.7 331.2,406.6 332.2,406.5 333.2,406.4 334.2,406.3 335.2,406.2 336.2,406.1 337.2,405.9 338.2,405.8 339.2,405.7 340.2,405.5 341.2,405.4 342.2,405.2 343.2,405 344.2,404.9 345.2,404.7 346.2,404.5 347.2,404.3 348.2,404.1 349.2,403.9 350.2,403.6 351.2,403.4 352.2,403.2 353.2,402.9 354.2,402.7 355.2,402.4 356.2,402.1 357.2,401.9 358.2,401.6 359.2,401.3 360.2,401 361.2,400.7 362.2,400.4 363.2,400.1 364.2,399.8 365.2,399.5 366.2,399.2 367.2,398.8 368.2,398.5 369.2,398.2 370.2,397.9 371.2,397.6 372.2,397.2 373.2,396.9 374.2,396.6 375.2,396.3 376.2,396 377.2,395.7 378.2,395.4 379.2,395.1 380.2,394.9 381.2,394.6 382.2,394.4 383.2,394.1 384.2,393.9 385.2,393.7 386.2,393.5 387.2,393.3 388.2,393.1 389.2,393 390.2,392.8 391.2,392.7 392.2,392.6 393.2,392.5 394.2,392.5 395.2,392.4 396.2,392.4 397.2,392.4 398.2,392.4 399.2,392.4 400.2,392.5 401.2,392.6 402.2,392.7 403.2,392.8 404.2,392.9 405.2,393 406.2,393.2 407.2,393.4 408.2,393.6 409.2,393.8 410.2,394 411.2,394.2 412.2,394.5 413.2,394.7 414.2,395 415.2,395.3 416.2,395.5 417.2,395.8 418.2,396.1 419.2,396.4 420.2,396.7 421.2,397 422.2,397.4 423.2,397.7 424.2,398 425.2,398.3 426.2,398.6 427.2,399 428.2,399.3 429.2,399.6 430.2,399.9 431.2,400.2 432.2,400.5 433.2,400.8 434.2,401.1 435.2,401.4 436.2,401.7 437.2,402 438.2,402.2 439.2,402.5 440.2,402.8 441.2,403 442.2,403.3 443.2,403.5 444.2,403.7 445.2,404 446.2,404.2 447.2,404.4 448.2,404.6 449.2,404.8 450.2,404.9 451.2,405.1 452.2,405.3 453.2,405.4 454.2,405.6 455.2,405.7 456.2,405.9 457.2,406 458.2,406.1 459.2,406.2 460.2,406.3 461.2,406.4 462.2,406.5 463.2,406.6 464.2,406.7 465.2,406.8 466.2,406.9 467.2,407 468.2,407 469.2,407.1 470.2,407.1 471.2,407.2 472.2,407.2 473.2,407.3 474.2,407.3 475.2,407.4 476.2,407.4 477.2,407.5 478.2,407.5 479.2,407.5 480.2,407.5 481.2,407.6 482.2,407.6 483.2,407.6 484.2,407.6 485.2,407.7 486.2,407.7 487.2,407.7 488.2,407.7 489.2,407.7 490.2,407.7 491.2,407.7 492.2,407.8 493.2,407.8 494.2,407.8 495.2,407.8 496.2,407.8 497.2,407.8 498.2,407.8 499.2,407.8 500.2,407.8 501.2,407.8 502.2,407.8 503.2,407.8 504.2,407.8 505.2,407.8 506.2,407.8 507.2,407.9 508.2,407.9 509.2,407.9 510.2,407.9 511.2,407.9 512.2,407.9 513.2,407.9 514.2,407.9 515.2,407.9 516.2,407.9" fill="none" stroke="#22b877" stroke-width="1.5" stroke-linejoin="round" stroke-linecap="round"/><polyline points="328.2,407.9 329.2,407.9 330.2,407.9 331.2,407.9 332.2,407.9 333.2,407.9 334.2,407.9 335.2,407.9 336.2,407.9 337.2,407.9 338.2,407.9 339.2,407.9 340.2,407.8 341.2,407.8 342.2,407.8 343.2,407.8 344.2,407.8 345.2,407.8 346.2,407.8 347.2,407.8 348.2,407.8 349.2,407.8 350.2,407.8 351.2,407.8 352.2,407.8 353.2,407.8 354.2,407.8 355.2,407.8 356.2,407.8 357.2,407.8 358.2,407.7 359.2,407.7 360.2,407.7 361.2,407.7 362.2,407.7 363.2,407.7 364.2,407.7 365.2,407.7 366.2,407.6 367.2,407.6 368.2,407.6 369.2,407.6 370.2,407.5 371.2,407.5 372.2,407.5 373.2,407.5 374.2,407.4 375.2,407.4 376.2,407.3 377.2,407.3 378.2,407.3 379.2,407.2 380.2,407.2 381.2,407.1 382.2,407 383.2,407 384.2,406.9 385.2,406.8 386.2,406.7 387.2,406.6 388.2,406.5 389.2,406.4 390.2,406.3 391.2,406.2 392.2,406.1 393.2,406 394.2,405.9 395.2,405.7 396.2,405.6 397.2,405.4 398.2,405.3 399.2,405.1 400.2,404.9 401.2,404.7 402.2,404.6 403.2,404.4 404.2,404.2 405.2,404 406.2,403.8 407.2,403.5 408.2,403.3 409.2,403.1 410.2,402.9 411.2,402.6 412.2,402.4 413.2,402.2 414.2,401.9 415.2,401.7 416.2,401.5 417.2,401.2 418.2,401 419.2,400.8 420.2,400.6 421.2,400.4 422.2,400.1 423.2,399.9 424.2,399.7 425.2,399.6 426.2,399.4 427.2,399.2 428.2,399.1 429.2,398.9 430.2,398.8 431.2,398.7 432.2,398.6 433.2,398.5 434.2,398.5 435.2,398.4 436.2,398.4 437.2,398.4 438.2,398.4 439.2,398.4 440.2,398.5 441.2,398.6 442.2,398.6 443.2,398.7 444.2,398.9 445.2,399 446.2,399.1 447.2,399.3 448.2,399.5 449.2,399.6 450.2,399.8 451.2,400 452.2,400.2 453.2,400.4 454.2,400.7 455.2,400.9 456.2,401.1 457.2,401.3 458.2,401.6 459.2,401.8 460.2,402 461.2,402.3 462.2,402.5 463.2,402.7 464.2,403 465.2,403.2 466.2,403.4 467.2,403.6 468.2,403.8 469.2,404 470.2,404.2 471.2,404.4 472.2,404.6 473.2,404.8 474.2,405 475.2,405.2 476.2,405.3 477.2,405.5 478.2,405.6 479.2,405.8 480.2,405.9 481.2,406 482.2,406.2 483.2,406.3 484.2,406.4 485.2,406.5 486.2,406.6 487.2,406.7 488.2,406.8 489.2,406.8 490.2,406.9 491.2,407 492.2,407.1 493.2,407.1 494.2,407.2 495.2,407.2 496.2,407.3 497.2,407.3 498.2,407.4 499.2,407.4 500.2,407.4 501.2,407.5 502.2,407.5 503.2,407.5 504.2,407.6 505.2,407.6 506.2,407.6 507.2,407.6 508.2,407.6 509.2,407.7 510.2,407.7 511.2,407.7 512.2,407.7 513.2,407.7 514.2,407.7 515.2,407.7 516.2,407.8 517.2,407.8 518.2,407.8 519.2,407.8 520.2,407.8 521.2,407.8 522.2,407.8 523.2,407.8 524.2,407.8 525.2,407.8 526.2,407.8 527.2,407.8 528.2,407.8 529.2,407.8 530.2,407.8 531.2,407.8 532.2,407.8 533.2,407.8" fill="none" stroke="#2f6fe0" stroke-width="1.5" stroke-linejoin="round" stroke-linecap="round"/><polyline points="309.2,408 533.5,408" fill="none" stroke="#b889e8" stroke-width="1.5" stroke-linejoin="round" stroke-linecap="round"/><polyline points="309.2,407.6 310.2,407.5 311.2,407.5 312.2,407.5 313.2,407.5 314.2,407.4 315.2,407.4 316.2,407.4 317.2,407.3 318.2,407.3 319.2,407.3 320.2,407.2 321.2,407.2 322.2,407.1 323.2,407.1 324.2,407 325.2,406.9 326.2,406.9 327.2,406.8 328.2,406.7 329.2,406.6 330.2,406.6 331.2,406.5 332.2,406.4 333.2,406.3 334.2,406.2 335.2,406 336.2,405.9 337.2,405.8 338.2,405.7 339.2,405.5 340.2,405.4 341.2,405.2 342.2,405 343.2,404.9 344.2,404.7 345.2,404.5 346.2,404.3 347.2,404.1 348.2,403.9 349.2,403.7 350.2,403.4 351.2,403.2 352.2,403 353.2,402.7 354.2,402.4 355.2,402.2 356.2,401.9 357.2,401.6 358.2,401.3 359.2,401 360.2,400.7 361.2,400.4 362.2,400.1 363.2,399.8 364.2,399.5 365.2,399.1 366.2,398.8 367.2,398.5 368.2,398.1 369.2,397.8 370.2,397.4 371.2,397.1 372.2,396.7 373.2,396.4 374.2,396 375.2,395.7 376.2,395.4 377.2,395 378.2,394.7 379.2,394.4 380.2,394 381.2,393.7 382.2,393.4 383.2,393.1 384.2,392.8 385.2,392.5 386.2,392.2 387.2,391.9 388.2,391.7 389.2,391.4 390.2,391.2 391.2,390.9 392.2,390.7 393.2,390.5 394.2,390.3 395.2,390.1 396.2,390 397.2,389.8 398.2,389.7 399.2,389.5 400.2,389.4 401.2,389.3 402.2,389.2 403.2,389.1 404.2,389.1 405.2,389 406.2,388.9 407.2,388.9 408.2,388.9 409.2,388.9 410.2,388.9 411.2,388.9 412.2,388.9 413.2,388.9 414.2,388.9 415.2,389 416.2,389 417.2,389.1 418.2,389.1 419.2,389.2 420.2,389.3 421.2,389.4 422.2,389.5 423.2,389.6 424.2,389.7 425.2,389.9 426.2,390 427.2,390.2 428.2,390.3 429.2,390.5 430.2,390.7 431.2,390.9 432.2,391.1 433.2,391.4 434.2,391.6 435.2,391.8 436.2,392.1 437.2,392.4 438.2,392.7 439.2,393 440.2,393.3 441.2,393.6 442.2,393.9 443.2,394.2 444.2,394.6 445.2,394.9 446.2,395.3 447.2,395.7 448.2,396 449.2,396.4 450.2,396.8 451.2,397.1 452.2,397.5 453.2,397.9 454.2,398.2 455.2,398.6 456.2,399 457.2,399.3 458.2,399.7 459.2,400 460.2,400.4 461.2,400.7 462.2,401 463.2,401.4 464.2,401.7 465.2,402 466.2,402.3 467.2,402.6 468.2,402.9 469.2,403.1 470.2,403.4 471.2,403.6 472.2,403.9 473.2,404.1 474.2,404.3 475.2,404.5 476.2,404.7 477.2,404.9 478.2,405.1 479.2,405.3 480.2,405.5 481.2,405.6 482.2,405.8 483.2,405.9 484.2,406 485.2,406.1 486.2,406.3 487.2,406.4 488.2,406.5 489.2,406.6 490.2,406.7 491.2,406.7 492.2,406.8 493.2,406.9 494.2,407 495.2,407 496.2,407.1 497.2,407.1 498.2,407.2 499.2,407.2 500.2,407.3 501.2,407.3 502.2,407.3 503.2,407.4 504.2,407.4 505.2,407.4 506.2,407.5 507.2,407.5 508.2,407.5 509.2,407.5 510.2,407.5 511.2,407.6 512.2,407.6 513.2,407.6 514.2,407.6 515.2,407.6 516.2,407.6 517.2,407.6 518.2,407.7 519.2,407.7 520.2,407.7 521.2,407.7 522.2,407.7 523.2,407.7 524.2,407.7 525.2,407.7 526.2,407.7 527.2,407.7 528.2,407.7 529.2,407.7 530.2,407.7 531.2,407.7 532.2,407.7 533.2,407.8" fill="none" stroke="#d09a1c" stroke-width="2.0" stroke-linejoin="round" stroke-linecap="round"/></g>
<line x1="237.9" y1="27.5" x2="237.9" y2="181" stroke="#777" stroke-width="1.1" stroke-dasharray="1.2,1.2"/>
<line x1="505.6" y1="27.5" x2="505.6" y2="176" stroke="#777" stroke-width="1.1" stroke-dasharray="1.2,1.2"/>
<line x1="43.6" y1="197" x2="43.6" y2="200.4" stroke="#000" stroke-width="1.2"/>
<text x="43.6" y="212.3" font-size="11.5" font-weight="bold" text-anchor="middle">885</text>
<line x1="76.8" y1="197" x2="76.8" y2="200.4" stroke="#000" stroke-width="1.2"/>
<text x="76.8" y="212.3" font-size="11.5" font-weight="bold" text-anchor="middle">880</text>
<line x1="110" y1="197" x2="110" y2="200.4" stroke="#000" stroke-width="1.2"/>
<text x="110" y="212.3" font-size="11.5" font-weight="bold" text-anchor="middle">875</text>
<line x1="143.2" y1="197" x2="143.2" y2="200.4" stroke="#000" stroke-width="1.2"/>
<text x="143.2" y="212.3" font-size="11.5" font-weight="bold" text-anchor="middle">870</text>
<line x1="176.3" y1="197" x2="176.3" y2="200.4" stroke="#000" stroke-width="1.2"/>
<text x="176.3" y="212.3" font-size="11.5" font-weight="bold" text-anchor="middle">865</text>
<line x1="209.5" y1="197" x2="209.5" y2="200.4" stroke="#000" stroke-width="1.2"/>
<text x="209.5" y="212.3" font-size="11.5" font-weight="bold" text-anchor="middle">860</text>
<line x1="242.7" y1="197" x2="242.7" y2="200.4" stroke="#000" stroke-width="1.2"/>
<text x="242.7" y="212.3" font-size="11.5" font-weight="bold" text-anchor="middle">855</text>
<line x1="60.2" y1="197" x2="60.2" y2="199" stroke="#000" stroke-width="1.2"/>
<line x1="93.4" y1="197" x2="93.4" y2="199" stroke="#000" stroke-width="1.2"/>
<line x1="126.6" y1="197" x2="126.6" y2="199" stroke="#000" stroke-width="1.2"/>
<line x1="159.7" y1="197" x2="159.7" y2="199" stroke="#000" stroke-width="1.2"/>
<line x1="192.9" y1="197" x2="192.9" y2="199" stroke="#000" stroke-width="1.2"/>
<line x1="226.1" y1="197" x2="226.1" y2="199" stroke="#000" stroke-width="1.2"/>
<line x1="259.3" y1="197" x2="259.3" y2="199" stroke="#000" stroke-width="1.2"/>
<rect x="37.2" y="16" width="224.6" height="181" fill="none" stroke="#000" stroke-width="1.3"/>
<text x="149.5" y="234.4" font-size="15" font-weight="bold" text-anchor="middle" textLength="147" lengthAdjust="spacingAndGlyphs">Binding Energy (eV)</text>
<text transform="translate(21.7,154.8) rotate(-90)" font-size="15" font-weight="bold" textLength="108" lengthAdjust="spacingAndGlyphs">Intensity (a. u.)</text>
<text x="6.4" y="23" font-size="20.6" font-weight="bold" text-anchor="start" textLength="24.4" lengthAdjust="spacingAndGlyphs">(a)</text>
<line x1="326.8" y1="197.2" x2="326.8" y2="200.6" stroke="#000" stroke-width="1.2"/>
<text x="326.8" y="212.1" font-size="11.5" font-weight="bold" text-anchor="middle">805</text>
<line x1="364.4" y1="197.2" x2="364.4" y2="200.6" stroke="#000" stroke-width="1.2"/>
<text x="364.4" y="212.1" font-size="11.5" font-weight="bold" text-anchor="middle">800</text>
<line x1="402.1" y1="197.2" x2="402.1" y2="200.6" stroke="#000" stroke-width="1.2"/>
<text x="402.1" y="212.1" font-size="11.5" font-weight="bold" text-anchor="middle">795</text>
<line x1="439.8" y1="197.2" x2="439.8" y2="200.6" stroke="#000" stroke-width="1.2"/>
<text x="439.8" y="212.1" font-size="11.5" font-weight="bold" text-anchor="middle">790</text>
<line x1="477.4" y1="197.2" x2="477.4" y2="200.6" stroke="#000" stroke-width="1.2"/>
<text x="477.4" y="212.1" font-size="11.5" font-weight="bold" text-anchor="middle">785</text>
<line x1="515" y1="197.2" x2="515" y2="200.6" stroke="#000" stroke-width="1.2"/>
<text x="515" y="212.1" font-size="11.5" font-weight="bold" text-anchor="middle">780</text>
<line x1="345.6" y1="197.2" x2="345.6" y2="199.2" stroke="#000" stroke-width="1.2"/>
<line x1="383.3" y1="197.2" x2="383.3" y2="199.2" stroke="#000" stroke-width="1.2"/>
<line x1="420.9" y1="197.2" x2="420.9" y2="199.2" stroke="#000" stroke-width="1.2"/>
<line x1="458.6" y1="197.2" x2="458.6" y2="199.2" stroke="#000" stroke-width="1.2"/>
<line x1="496.2" y1="197.2" x2="496.2" y2="199.2" stroke="#000" stroke-width="1.2"/>
<line x1="533.9" y1="197.2" x2="533.9" y2="199.2" stroke="#000" stroke-width="1.2"/>
<rect x="308.5" y="16" width="225.7" height="181.2" fill="none" stroke="#000" stroke-width="1.3"/>
<text x="421.4" y="235.4" font-size="15" font-weight="bold" text-anchor="middle" textLength="147" lengthAdjust="spacingAndGlyphs">Binding Energy (eV)</text>
<text transform="translate(292.8,155) rotate(-90)" font-size="15" font-weight="bold" textLength="108" lengthAdjust="spacingAndGlyphs">Intensity (a. u.)</text>
<text x="276.8" y="23" font-size="20.6" font-weight="bold" text-anchor="start" textLength="25.3" lengthAdjust="spacingAndGlyphs">(b)</text>
<line x1="37.2" y1="422.8" x2="37.2" y2="426.2" stroke="#000" stroke-width="1.2"/>
<text x="37.2" y="438" font-size="11.5" font-weight="bold" text-anchor="middle">290</text>
<line x1="69.3" y1="422.8" x2="69.3" y2="426.2" stroke="#000" stroke-width="1.2"/>
<text x="69.3" y="438" font-size="11.5" font-weight="bold" text-anchor="middle">289</text>
<line x1="101.4" y1="422.8" x2="101.4" y2="426.2" stroke="#000" stroke-width="1.2"/>
<text x="101.4" y="438" font-size="11.5" font-weight="bold" text-anchor="middle">288</text>
<line x1="133.5" y1="422.8" x2="133.5" y2="426.2" stroke="#000" stroke-width="1.2"/>
<text x="133.5" y="438" font-size="11.5" font-weight="bold" text-anchor="middle">287</text>
<line x1="165.6" y1="422.8" x2="165.6" y2="426.2" stroke="#000" stroke-width="1.2"/>
<text x="165.6" y="438" font-size="11.5" font-weight="bold" text-anchor="middle">286</text>
<line x1="197.8" y1="422.8" x2="197.8" y2="426.2" stroke="#000" stroke-width="1.2"/>
<text x="197.8" y="438" font-size="11.5" font-weight="bold" text-anchor="middle">285</text>
<line x1="229.9" y1="422.8" x2="229.9" y2="426.2" stroke="#000" stroke-width="1.2"/>
<text x="229.9" y="438" font-size="11.5" font-weight="bold" text-anchor="middle">284</text>
<line x1="262" y1="422.8" x2="262" y2="426.2" stroke="#000" stroke-width="1.2"/>
<text x="262" y="438" font-size="11.5" font-weight="bold" text-anchor="middle">283</text>
<line x1="53.3" y1="422.8" x2="53.3" y2="424.8" stroke="#000" stroke-width="1.2"/>
<line x1="85.4" y1="422.8" x2="85.4" y2="424.8" stroke="#000" stroke-width="1.2"/>
<line x1="117.5" y1="422.8" x2="117.5" y2="424.8" stroke="#000" stroke-width="1.2"/>
<line x1="149.6" y1="422.8" x2="149.6" y2="424.8" stroke="#000" stroke-width="1.2"/>
<line x1="181.7" y1="422.8" x2="181.7" y2="424.8" stroke="#000" stroke-width="1.2"/>
<line x1="213.8" y1="422.8" x2="213.8" y2="424.8" stroke="#000" stroke-width="1.2"/>
<line x1="245.9" y1="422.8" x2="245.9" y2="424.8" stroke="#000" stroke-width="1.2"/>
<rect x="37.2" y="242" width="224.8" height="180.8" fill="none" stroke="#000" stroke-width="1.3"/>
<text x="149.6" y="461.8" font-size="15" font-weight="bold" text-anchor="middle" textLength="147" lengthAdjust="spacingAndGlyphs">Binding Energy (eV)</text>
<text transform="translate(21.8,380.2) rotate(-90)" font-size="15" font-weight="bold" textLength="108" lengthAdjust="spacingAndGlyphs">Intensity (a. u.)</text>
<text x="6.4" y="254" font-size="20.6" font-weight="bold" text-anchor="start" textLength="24.4" lengthAdjust="spacingAndGlyphs">(c)</text>
<line x1="308.5" y1="422.8" x2="308.5" y2="426.2" stroke="#000" stroke-width="1.2"/>
<text x="308.5" y="438" font-size="11.5" font-weight="bold" text-anchor="middle">536</text>
<line x1="340.7" y1="422.8" x2="340.7" y2="426.2" stroke="#000" stroke-width="1.2"/>
<text x="340.7" y="438" font-size="11.5" font-weight="bold" text-anchor="middle">535</text>
<line x1="373" y1="422.8" x2="373" y2="426.2" stroke="#000" stroke-width="1.2"/>
<text x="373" y="438" font-size="11.5" font-weight="bold" text-anchor="middle">534</text>
<line x1="405.2" y1="422.8" x2="405.2" y2="426.2" stroke="#000" stroke-width="1.2"/>
<text x="405.2" y="438" font-size="11.5" font-weight="bold" text-anchor="middle">533</text>
<line x1="437.5" y1="422.8" x2="437.5" y2="426.2" stroke="#000" stroke-width="1.2"/>
<text x="437.5" y="438" font-size="11.5" font-weight="bold" text-anchor="middle">532</text>
<line x1="469.7" y1="422.8" x2="469.7" y2="426.2" stroke="#000" stroke-width="1.2"/>
<text x="469.7" y="438" font-size="11.5" font-weight="bold" text-anchor="middle">531</text>
<line x1="501.9" y1="422.8" x2="501.9" y2="426.2" stroke="#000" stroke-width="1.2"/>
<text x="501.9" y="438" font-size="11.5" font-weight="bold" text-anchor="middle">530</text>
<line x1="534.2" y1="422.8" x2="534.2" y2="426.2" stroke="#000" stroke-width="1.2"/>
<text x="534.2" y="438" font-size="11.5" font-weight="bold" text-anchor="middle">529</text>
<line x1="324.6" y1="422.8" x2="324.6" y2="424.8" stroke="#000" stroke-width="1.2"/>
<line x1="356.9" y1="422.8" x2="356.9" y2="424.8" stroke="#000" stroke-width="1.2"/>
<line x1="389.1" y1="422.8" x2="389.1" y2="424.8" stroke="#000" stroke-width="1.2"/>
<line x1="421.3" y1="422.8" x2="421.3" y2="424.8" stroke="#000" stroke-width="1.2"/>
<line x1="453.6" y1="422.8" x2="453.6" y2="424.8" stroke="#000" stroke-width="1.2"/>
<line x1="485.8" y1="422.8" x2="485.8" y2="424.8" stroke="#000" stroke-width="1.2"/>
<line x1="518.1" y1="422.8" x2="518.1" y2="424.8" stroke="#000" stroke-width="1.2"/>
<rect x="308.5" y="241.6" width="225.7" height="181.2" fill="none" stroke="#000" stroke-width="1.3"/>
<text x="421.4" y="461.8" font-size="15" font-weight="bold" text-anchor="middle" textLength="147" lengthAdjust="spacingAndGlyphs">Binding Energy (eV)</text>
<text transform="translate(292.8,380.2) rotate(-90)" font-size="15" font-weight="bold" textLength="108" lengthAdjust="spacingAndGlyphs">Intensity (a. u.)</text>
<text x="276.9" y="254" font-size="20.6" font-weight="bold" text-anchor="start" textLength="25.3" lengthAdjust="spacingAndGlyphs">(d)</text>
<text x="41.8" y="28.2" font-size="8.5" font-weight="bold" text-anchor="start">Ni 2p</text>
<text x="311.5" y="27" font-size="8.5" font-weight="bold" text-anchor="start">Co 2p</text>
<text x="41.5" y="254" font-size="8.5" font-weight="bold" text-anchor="start">C 1s</text>
<text x="313" y="253.8" font-size="8.5" font-weight="bold" text-anchor="start">O 1s</text>
<text x="40.2" y="64.9" font-size="8.5" font-weight="bold" text-anchor="start">NiCo-LDH@CNTs-3%</text>
<text x="40.2" y="109.2" font-size="8.5" font-weight="bold" text-anchor="start">NiCo-LDH@CNTs-2.5%</text>
<text x="40.2" y="149.7" font-size="8.5" font-weight="bold" text-anchor="start">NiCo-LDH@CNTs-2%</text>
<text x="40.2" y="190.7" font-size="8.5" font-weight="bold" text-anchor="start">NiCo-LDH-150</text>
<text x="311.2" y="79.2" font-size="8.5" font-weight="bold" text-anchor="start">NiCo-LDH@CNTs-3%</text>
<text x="311.2" y="117.4" font-size="8.5" font-weight="bold" text-anchor="start">NiCo-LDH@CNTs-2.5%</text>
<text x="311.2" y="159.2" font-size="8.5" font-weight="bold" text-anchor="start">NiCo-LDH@CNTs-2%</text>
<text x="311.2" y="191.2" font-size="8.5" font-weight="bold" text-anchor="start">NiCo-LDH-150</text>
<text x="41.3" y="287" font-size="8.5" font-weight="bold" text-anchor="start">NiCo-LDH@CNTs-3%</text>
<text x="41.3" y="320.5" font-size="8.5" font-weight="bold" text-anchor="start">NiCo-LDH@CNTs-2.5%</text>
<text x="41.3" y="351.9" font-size="8.5" font-weight="bold" text-anchor="start">NiCo-LDH@CNTs-2%</text>
<text x="41.3" y="387.8" font-size="8.5" font-weight="bold" text-anchor="start">NiCo-LDH-150</text>
<text x="41.3" y="421" font-size="8.5" font-weight="bold" text-anchor="start">CNTs</text>
<text x="312.6" y="288.3" font-size="8.5" font-weight="bold" text-anchor="start">NiCo-LDH@CNTs-3%</text>
<text x="312.6" y="323.2" font-size="8.5" font-weight="bold" text-anchor="start">NiCo-LDH@CNTs-2.5%</text>
<text x="312.6" y="358.2" font-size="8.5" font-weight="bold" text-anchor="start">NiCo-LDH@CNTs-2%</text>
<text x="312.6" y="388.3" font-size="8.5" font-weight="bold" text-anchor="start">NiCo-LDH-150</text>
<text x="312.6" y="417" font-size="8.5" font-weight="bold" text-anchor="start">CNTs</text>
<text x="80" y="44.6" font-size="8.5" font-weight="bold" text-anchor="start">Sat.</text>
<text x="120.3" y="38.6" font-size="8.5" font-weight="bold" text-anchor="start">2p<tspan font-size="6.4" dy="2">1/2</tspan></text>
<text x="190" y="42.6" font-size="8.5" font-weight="bold" text-anchor="start">Sat.</text>
<text x="212.3" y="44.4" font-size="8.5" font-weight="bold" text-anchor="start">Ni<tspan font-size="6" dy="-3">3+</tspan></text>
<text x="245.8" y="44.4" font-size="8.5" font-weight="bold" text-anchor="start">Ni<tspan font-size="6" dy="-3">2+</tspan></text>
<text x="231.6" y="24.8" font-size="8.5" font-weight="bold" text-anchor="start">2p<tspan font-size="6.4" dy="2">3/2</tspan></text>
<line x1="221" y1="47" x2="227" y2="54.5" stroke="#000" stroke-width="1"/>
<line x1="248.8" y1="47" x2="243.2" y2="54.5" stroke="#000" stroke-width="1"/>
<text x="334.8" y="61.4" font-size="8.5" font-weight="bold" text-anchor="start">Sat.</text>
<text x="381" y="49.8" font-size="8.5" font-weight="bold" text-anchor="start">2p<tspan font-size="6.4" dy="2">1/2</tspan></text>
<text x="449.8" y="58" font-size="8.5" font-weight="bold" text-anchor="start">Sat.</text>
<text x="472" y="45.6" font-size="8.5" font-weight="bold" text-anchor="start">Co<tspan font-size="6" dy="-3">2+</tspan></text>
<text x="513.3" y="45.6" font-size="8.5" font-weight="bold" text-anchor="start">Co<tspan font-size="6" dy="-3">3+</tspan></text>
<text x="497" y="27" font-size="8.5" font-weight="bold" text-anchor="start">2p<tspan font-size="6.4" dy="2">3/2</tspan></text>
<line x1="485.5" y1="51" x2="490" y2="58.2" stroke="#000" stroke-width="1"/>
<line x1="517.5" y1="51" x2="512.4" y2="58.2" stroke="#000" stroke-width="1"/>
<text x="51.5" y="262.3" font-size="8.5" font-weight="bold" text-anchor="start">O-C=O</text>
<line x1="65" y1="264.6" x2="65" y2="274.6" stroke="#000" stroke-width="1"/>
<text x="128.4" y="262.3" font-size="8.5" font-weight="bold" text-anchor="start">C=O</text>
<line x1="136.6" y1="264.6" x2="136.6" y2="274.8" stroke="#000" stroke-width="1"/>
<text x="164.4" y="254" font-size="8.5" font-weight="bold" text-anchor="start">C-OH</text>
<line x1="174.6" y1="258.4" x2="174.6" y2="267.8" stroke="#000" stroke-width="1"/>
<text x="229" y="254" font-size="8.5" font-weight="bold" text-anchor="start">C-C</text>
<line x1="227" y1="254.5" x2="216.7" y2="265.6" stroke="#000" stroke-width="1"/>
<text x="382.8" y="259.2" font-size="8.5" font-weight="bold" text-anchor="start">C=O</text>
<line x1="390" y1="261.3" x2="390" y2="274.8" stroke="#000" stroke-width="1"/>
<text x="415.2" y="254" font-size="8.5" font-weight="bold" text-anchor="start">H<tspan font-size="6.4" dy="2">2</tspan><tspan dy="-2">O</tspan></text>
<line x1="420.6" y1="258" x2="420.6" y2="272.7" stroke="#000" stroke-width="1"/>
<text x="482.6" y="258" font-size="8.5" font-weight="bold" text-anchor="start">M-OH</text>
<line x1="489.8" y1="259.5" x2="473.4" y2="269.7" stroke="#000" stroke-width="1"/>
</svg>
</body></html>
